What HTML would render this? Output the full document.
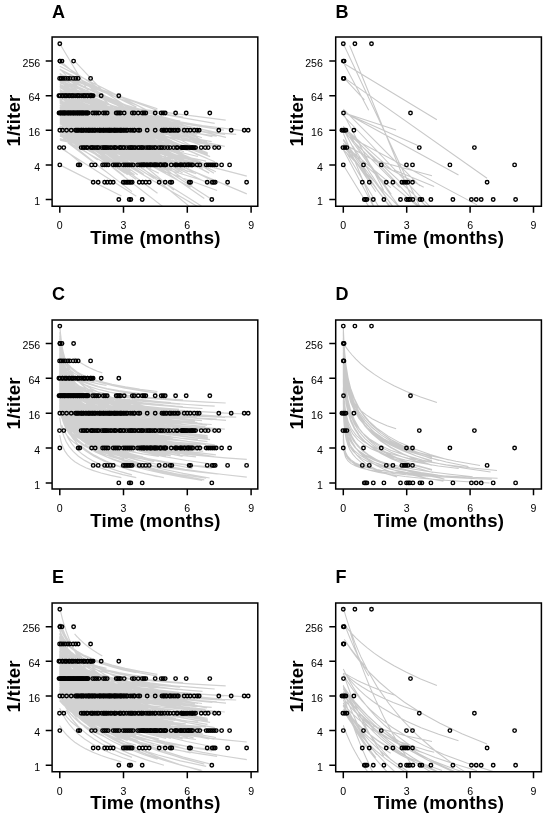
<!DOCTYPE html>
<html lang="en">
<head>
<meta charset="utf-8">
<title>Antibody titer decay: 1/titer versus time (months), panels A-F</title>
<style>
html,body{margin:0;padding:0;background:#fff;}
body{width:550px;height:825px;overflow:hidden;}
svg{display:block;}
text{font-family:"Liberation Sans",Arial,Helvetica,sans-serif;fill:#000;}
.t{font-size:10.6px;}
.b{font-size:18.6px;font-weight:bold;letter-spacing:0.2px;}
.l{font-size:18px;font-weight:bold;}
</style>
</head>
<body>
<svg width="550" height="825" viewBox="0 0 550 825">
<rect width="550" height="825" fill="#fff"/>
<g>
<clipPath id="cA"><rect x="52.1" y="36.9" width="205.7" height="169.4"/></clipPath>
<path clip-path="url(#cA)" fill="none" stroke="#d1d1d1" stroke-width="1.2" d="M59.8 94.6L172.1 135.2M59.8 89.7L172.3 141.1M59.8 123L142.7 154.8M71.5 115.4L169.4 156.6M59.8 90.6L164.4 163.4M59.8 90.8L207.9 154.1M76.7 112.4L147.5 154.9M59.8 80.3L129.7 110.6M59.8 79.9L214 173.3M59.8 90L192.3 185.3M59.8 85.7L176.4 138.4M59.8 111.4L168.7 144.1M59.8 132.5L140.2 151.4M59.8 124L211.9 165.8M84.9 132.6L201.4 205.9M66.9 128.5L158.8 173.2M64.8 99.9L170.8 172.8M59.8 134.1L187.8 161.9M59.8 101.3L153.1 165.4M87.4 132.9L162.4 161.5M85.3 115.4L139 141.3M59.8 112.1L143.9 150.8M59.8 135L178.4 168.5M83.7 104.1L128.5 126.2M59.8 99.5L101.9 127.5M59.8 74.1L157.3 110.4M72.5 120.4L128.1 140.4M78.3 129.9L162.6 145.3M59.8 118.8L183 169M59.8 121.6L139.3 144.4M59.8 140.2L183.5 167.2M59.8 130.9L118.5 143M60.8 103.9L173.3 155.9M59.8 134.2L172.1 160.7M59.8 131.6L135.6 140.7M59.8 128.2L187.9 168.5M59.8 113.1L168.8 163.1M59.8 119.6L166.4 170M59.8 98L146.5 133.8M59.8 133.9L142.9 154.7M59.8 78.8L194.9 138.2M59.8 105.3L131.2 121.1M62.3 97.9L120.8 126.1M59.8 114.5L166.2 172.7M59.8 76.4L126 159.2M84.1 144.1L128.2 163.5M59.8 123.4L173.9 171.6M59.8 90.1L147.4 166.6M59.8 120.5L114.5 140.7M59.8 96.1L199.7 144.8M63.1 83.4L137.1 155.6M77.4 120.4L146 164.3M59.8 102.5L169.4 134.5M59.8 119.4L138.1 160.2M59.8 138.7L127.2 156.1M63.8 100.4L186.1 150.2M59.8 130.9L159.5 159.2M59.8 101.8L98 118.3M59.8 118.1L174.3 156.5M59.8 113.7L99.8 124.9M59.8 69.5L207.8 155.4M59.8 95.2L133.4 132.8M59.8 81.6L180 171.3M68.4 88.6L198.4 155.3M59.8 69.4L136.5 107.1M59.8 95.7L175.5 123.4M60.8 113.6L153.8 157.6M71.7 112.5L172 155.8M59.8 113.7L147.3 156.3M59.8 82.6L106.5 102.8M59.8 135.7L106.5 152.8M59.8 87.3L204.7 147M59.8 89.5L172.5 159.1M59.8 121.7L131.6 160.7M59.8 105.9L205.4 153.1M59.8 109.6L169.3 144.6M59.8 135.4L134.5 147.4M59.8 108.9L168.8 149.4M78 96.2L177.9 123.9M59.8 113.4L122.2 151.5M59.8 121.4L115.4 140.3M73 97.1L159.2 169.4M59.8 131.8L171.1 153.4M59.8 109.3L203.2 168.3M59.8 90.2L202 137.8M59.8 101.7L109.1 149.2M59.8 110.3L92.8 127.8M76.2 119.7L143.6 147.6M85.4 120.5L176 147.9M59.8 86.4L143.1 155.4M59.8 127.2L170.7 155.7M59.8 105.7L175.9 152.7M59.8 98L215.9 171.8M59.8 127.8L186 170.5M59.8 126.3L206.2 211.6M59.8 118.7L144.1 137.3M59.8 110.9L132.9 142.6M59.8 90.1L104.1 110.5M59.8 93L184.3 163.6M59.8 119.7L157.1 155.2M59.8 131.4L141.7 149M64.7 101.5L146.7 147.1M59.8 84.4L165.5 132.2M59.8 112.1L175.2 154.6M68.3 113.6L153 163.3M59.8 101.5L209.6 198M59.8 135.7L184.9 166.9M72.6 88.3L171.3 169M59.8 108.1L107.4 129.4M59.8 115.6L171 160M59.8 96.4L210.1 156.6M59.8 94.5L102.8 124.5M59.8 116.6L179.4 159.8M59.8 113.1L167.3 170.8M59.8 108.4L157.2 156.5M84.3 97L164.8 145.3M63.7 133.5L185.8 158.2M85.3 117.3L173.9 190M71.6 124.2L131.1 157.6M59.8 114.6L151.5 155.2M59.8 105.1L187.9 171.6M59.8 126L131.4 164.1M80.2 112.6L204.3 198.4M77.1 121.8L125.8 140.8M59.8 114.5L187.2 150.3M59.8 130.8L206 161.2M59.8 113.9L155.4 163.3M59.8 122.2L140.1 173.1M59.8 99.7L109.2 131.4M63.2 138.8L162 169.8M79.6 132.3L152 152M59.8 115L141.1 156.8M59.8 110L167.8 161.2M59.8 96.5L140 129.6M59.8 106.4L213.9 181.2M59.8 108.6L179.2 172.4M59.8 95.4L176.3 150.9M59.8 81L130.8 110.7M73 104.3L158.3 151.4M63.2 89.5L150.6 163.1M59.8 112.2L184 151.6M59.8 113L182.2 145.1M59.8 99L129 159.3M59.8 136.3L134.3 161.3M68.9 105.1L165.7 148.6M59.8 126L155.9 153.8M72.3 114.9L180.2 149.7M65.9 101.4L106.1 127.7M59.8 135.6L184.9 169.3M59.8 112.2L131.5 149.4M59.8 100.6L149.3 162.7M59.8 121.6L161.2 160.4M59.8 131.9L140.7 158.3M59.8 85.6L147.9 111.7M59.8 76.2L157.4 108.8M59.8 91.2L127 159.2M59.8 119L149.9 158.9M87 122.5L138.7 151.4M59.8 100.4L146.9 140.3M77.8 139.2L144 160M59.8 106.5L133.4 154.6M68 101.8L146.3 144.2M59.8 127.2L128.7 155.7M59.8 103.1L98.7 124.4M73.2 111.4L202.2 216.9M59.8 76.4L94.3 99M66.1 87.7L197.4 139.8M59.8 76.6L207 142.2M59.8 100L143.2 155.6M64.9 111.5L145 139.9M59.8 122.5L102.8 134.3M59.8 131.6L173.2 159.1M59.8 109.3L201 162.4M87.6 142.1L150 161.9M59.8 119.6L136 169.2M73.9 126.6L144.8 157M59.8 101.3L118.8 124.8M59.8 93.5L180.1 151.6M59.8 113.9L121 151.8M59.8 106L202.4 140.6M61 93.9L162.3 129.2M59.8 132L160 167.9M59.8 76.3L130.3 164.3M59.8 92.7L163.5 122M70.4 137L197 166.2M59.8 98.5L202.4 153.8M59.8 93.9L209.2 173.1M79.3 129.9L141.4 158.8M59.8 106.6L140.1 150.3M59.8 100.6L199.3 162.9M76.4 132.2L138.6 147.3M59.8 107.3L160.9 164M59.8 115.7L143 173.7M65.7 134.8L167.8 155M72.1 116L132.1 138.6M59.8 76.1L189.5 133M78.3 146L160.9 169M76.3 92.3L185.1 166.4M59.8 95.7L207.6 152.7M86.2 100.8L166 133.6M60.6 101.2L149.9 158.5M83.6 115.5L181.3 140.1M59.8 91L220.3 148.9M59.8 86.3L134.1 113.6M59.8 116L190.6 187.2M59.8 121.1L148.5 151M64 102.9L166.9 155M75 131.5L148.9 155.4M62.1 128.1L184.9 166.6M59.8 122.3L151.3 169.1M59.8 102.2L195.7 167.2M59.8 109.6L122.3 134.4M59.8 94L133.2 168.1M59.8 76.6L198.1 137.6M59.8 95.5L157.9 131.4M59.8 129.5L196 173.7M59.8 93.4L132.1 133.5M70.4 116.9L211.9 185M59.8 97.5L171.7 148.7M59.8 73.6L162.6 171.7M59.8 130L146.2 151.6M59.8 96.9L214.8 161.8M59.8 106.3L152.8 160.8M59.8 94.9L182.6 173.1M59.8 139.3L93.6 147.4M59.8 140L161.9 163.8M59.8 74.9L139.4 106.3M59.8 110.4L135 136M59.8 87.8L150.3 132.4M59.8 121L142.5 161.7M59.8 94.4L104.7 115.2M59.8 123.5L197.9 156.5M74.6 136.3L143.4 154.7M59.8 135.2L171.9 169.2M59.8 78.2L153.7 149.4M59.8 76.7L105.8 158.1M59.8 102.5L206 164.4M67.4 108.2L193.6 172.1M87.7 139.9L192.9 167.4M59.8 129.3L133.9 155.4M59.8 134.9L131.2 160.8M87 103L167 132M59.8 74.1L184.5 138.8M59.8 90.8L166 156.2M59.8 68.9L147.7 158.6M59.8 94L207.5 158.6M59.8 73.2L155.6 144.3M59.8 107.5L134.8 130.6M59.8 107.6L132.5 151.7M59.8 91.2L153.5 158.5M72.6 126.4L130.7 156.1M69.4 118.5L162.6 169M67.5 133.6L130.5 171M90.8 142.5L117.9 162.4M67.8 142.7L103.7 169.9M76.9 130.9L132 167M98.4 137.7L143.9 163.6M59.8 125.9L136.3 179.6M76.4 141.9L125.1 173.2M64 124.2L148.2 164.9M60.5 119.6L154.2 178.4M79.1 117.4L165.7 160.1M96.6 148.8L116.1 163.3M66.7 141L111.8 167.1M99.6 152.6L122.1 170.1M67.5 139.3L112 163.3M92.8 142L126.7 167.7M69.7 139.4L111.8 162.3M60.6 123.8L123.8 154.7M63.9 120.3L147.3 155.1M63.2 115.4L133.9 168.3M64.6 120.4L130.6 172.8M69.2 119.8L159 166.1M65.4 122.5L144.1 174.6M69.5 124.4L155 166.3M68 130.6L124.1 175.9M60.4 135.3L105.8 171.5M69.4 114.2L142.4 160.8M60.2 126.7L107.9 163.6M80.1 133.7L127.6 163M76 136.1L134.6 174.8M63.9 126.8L130.9 174.7M65.8 124L137.7 174.8M80.4 136.7L130 167.9M64.5 137.1L97.8 160M60.2 123.7L127.7 174.7M85.8 116L191 137M129.5 118.3L212.4 136.7M79.2 104.8L190.5 129M119.4 105.5L176.9 120.7M75.7 107.8L182.8 123.8M123.9 113L226 137.4M127.1 111.9L180.4 121M83.9 107.1L185.1 128.9M114.5 110.3L221.8 133.5M116.9 110.5L179.9 121.4M117.2 118.7L174.6 130.3M118.4 106.3L225.7 120.2M133.2 122.1L178.6 129.6M131.9 108.8L214.7 123.3M95.1 107.6L202.5 125.7M98.1 114.2L196.8 134.3M78.2 120.9L219 146.6M129.8 108.3L183.1 117.1M106.7 122.7L211.7 141.6M117.1 121.2L205.5 143.6M99.4 118L225 134.4M129.6 114.7L223.1 134M85.4 107.7L183.2 129.4M70.2 102.8L179 126.6M72.2 111.5L196.4 141M134 112.1L170.9 119.7M96 119.5L187.9 134M100.4 120.9L224.8 146.3M73.5 106.4L224 130.1M118.9 122.7L216.8 136.1M59.8 43.8L110.8 128.9M59.8 62.8L166.1 132M60.8 61.1L134.2 126.8M59.8 66.3L187.3 130.6M74.6 61.1L102.3 90.3M59.8 164.9L121.4 196M61.9 147.6L83.1 164.9M59.8 126.8L163.9 207.4M66.1 140.7L132 191.6M81 137.2L157.5 193.3M112.9 137.2L246.8 193.9M123.5 144.1L246.8 176.2M102.3 149.3L214.9 184.2M123.5 156.2L217.1 190.5M59.8 147.6L136.3 196.2M187.3 130.3L236.2 134.3M155.4 119.9L246.8 131.1"/>
<g fill="none" stroke="#000" stroke-width="1.4"><circle cx="59.8" cy="43.8" r="1.75"/><circle cx="59.9" cy="61.1" r="1.75"/><circle cx="60" cy="61.1" r="1.75"/><circle cx="62" cy="61.1" r="1.75"/><circle cx="73.6" cy="61.1" r="1.75"/><circle cx="59.6" cy="78.4" r="1.75"/><circle cx="61.1" cy="78.4" r="1.75"/><circle cx="63.1" cy="78.4" r="1.75"/><circle cx="65.2" cy="78.4" r="1.75"/><circle cx="67.8" cy="78.4" r="1.75"/><circle cx="69.8" cy="78.4" r="1.75"/><circle cx="73.2" cy="78.4" r="1.75"/><circle cx="75.8" cy="78.4" r="1.75"/><circle cx="78.2" cy="78.4" r="1.75"/><circle cx="90.6" cy="78.4" r="1.75"/><circle cx="58.9" cy="95.7" r="1.75"/><circle cx="60" cy="95.7" r="1.75"/><circle cx="62.2" cy="95.7" r="1.75"/><circle cx="62.6" cy="95.7" r="1.75"/><circle cx="64.7" cy="95.7" r="1.75"/><circle cx="65.8" cy="95.7" r="1.75"/><circle cx="66.7" cy="95.7" r="1.75"/><circle cx="68.9" cy="95.7" r="1.75"/><circle cx="69.5" cy="95.7" r="1.75"/><circle cx="71.5" cy="95.7" r="1.75"/><circle cx="72.3" cy="95.7" r="1.75"/><circle cx="73.7" cy="95.7" r="1.75"/><circle cx="75.6" cy="95.7" r="1.75"/><circle cx="77.7" cy="95.7" r="1.75"/><circle cx="77.9" cy="95.7" r="1.75"/><circle cx="79.5" cy="95.7" r="1.75"/><circle cx="81.5" cy="95.7" r="1.75"/><circle cx="83.4" cy="95.7" r="1.75"/><circle cx="84.2" cy="95.7" r="1.75"/><circle cx="85.3" cy="95.7" r="1.75"/><circle cx="87.6" cy="95.7" r="1.75"/><circle cx="87.5" cy="95.7" r="1.75"/><circle cx="90.2" cy="95.7" r="1.75"/><circle cx="90.6" cy="95.7" r="1.75"/><circle cx="91.8" cy="95.7" r="1.75"/><circle cx="93.1" cy="95.7" r="1.75"/><circle cx="101.2" cy="95.7" r="1.75"/><circle cx="118.8" cy="95.7" r="1.75"/><circle cx="59" cy="113" r="1.75"/><circle cx="60.3" cy="113" r="1.75"/><circle cx="60.5" cy="113" r="1.75"/><circle cx="61.7" cy="113" r="1.75"/><circle cx="62.6" cy="113" r="1.75"/><circle cx="63.2" cy="113" r="1.75"/><circle cx="64.2" cy="113" r="1.75"/><circle cx="64.5" cy="113" r="1.75"/><circle cx="65.3" cy="113" r="1.75"/><circle cx="66.3" cy="113" r="1.75"/><circle cx="67.6" cy="113" r="1.75"/><circle cx="68.2" cy="113" r="1.75"/><circle cx="68.9" cy="113" r="1.75"/><circle cx="70" cy="113" r="1.75"/><circle cx="70.7" cy="113" r="1.75"/><circle cx="71.4" cy="113" r="1.75"/><circle cx="72.7" cy="113" r="1.75"/><circle cx="73.4" cy="113" r="1.75"/><circle cx="73.8" cy="113" r="1.75"/><circle cx="75" cy="113" r="1.75"/><circle cx="75.7" cy="113" r="1.75"/><circle cx="76.9" cy="113" r="1.75"/><circle cx="77.6" cy="113" r="1.75"/><circle cx="78" cy="113" r="1.75"/><circle cx="79.5" cy="113" r="1.75"/><circle cx="79.5" cy="113" r="1.75"/><circle cx="80.6" cy="113" r="1.75"/><circle cx="81.8" cy="113" r="1.75"/><circle cx="82" cy="113" r="1.75"/><circle cx="83.2" cy="113" r="1.75"/><circle cx="83.5" cy="113" r="1.75"/><circle cx="85" cy="113" r="1.75"/><circle cx="85.9" cy="113" r="1.75"/><circle cx="86.6" cy="113" r="1.75"/><circle cx="87.7" cy="113" r="1.75"/><circle cx="88" cy="113" r="1.75"/><circle cx="92.7" cy="113" r="1.75"/><circle cx="94.7" cy="113" r="1.75"/><circle cx="96.7" cy="113" r="1.75"/><circle cx="98.9" cy="113" r="1.75"/><circle cx="103.3" cy="113" r="1.75"/><circle cx="105.2" cy="113" r="1.75"/><circle cx="107.2" cy="113" r="1.75"/><circle cx="116.2" cy="113" r="1.75"/><circle cx="117.7" cy="113" r="1.75"/><circle cx="119.2" cy="113" r="1.75"/><circle cx="120.7" cy="113" r="1.75"/><circle cx="124.2" cy="113" r="1.75"/><circle cx="132.3" cy="113" r="1.75"/><circle cx="134.2" cy="113" r="1.75"/><circle cx="138.2" cy="113" r="1.75"/><circle cx="142.2" cy="113" r="1.75"/><circle cx="144" cy="113" r="1.75"/><circle cx="145.8" cy="113" r="1.75"/><circle cx="155.2" cy="113" r="1.75"/><circle cx="161.2" cy="113" r="1.75"/><circle cx="163.2" cy="113" r="1.75"/><circle cx="165.2" cy="113" r="1.75"/><circle cx="175.6" cy="113" r="1.75"/><circle cx="186.2" cy="113" r="1.75"/><circle cx="209.8" cy="113" r="1.75"/><circle cx="59.8" cy="130.3" r="1.75"/><circle cx="62.5" cy="130.3" r="1.75"/><circle cx="66.6" cy="130.3" r="1.75"/><circle cx="71.2" cy="130.3" r="1.75"/><circle cx="75.4" cy="130.3" r="1.75"/><circle cx="76.4" cy="130.3" r="1.75"/><circle cx="77.5" cy="130.3" r="1.75"/><circle cx="78.4" cy="130.3" r="1.75"/><circle cx="80" cy="130.3" r="1.75"/><circle cx="81.3" cy="130.3" r="1.75"/><circle cx="81.7" cy="130.3" r="1.75"/><circle cx="83.1" cy="130.3" r="1.75"/><circle cx="83.4" cy="130.3" r="1.75"/><circle cx="85.4" cy="130.3" r="1.75"/><circle cx="86.4" cy="130.3" r="1.75"/><circle cx="88" cy="130.3" r="1.75"/><circle cx="88.8" cy="130.3" r="1.75"/><circle cx="89.2" cy="130.3" r="1.75"/><circle cx="90.5" cy="130.3" r="1.75"/><circle cx="92" cy="130.3" r="1.75"/><circle cx="92.2" cy="130.3" r="1.75"/><circle cx="93.9" cy="130.3" r="1.75"/><circle cx="94.6" cy="130.3" r="1.75"/><circle cx="95.6" cy="130.3" r="1.75"/><circle cx="97.6" cy="130.3" r="1.75"/><circle cx="99.5" cy="130.3" r="1.75"/><circle cx="99.7" cy="130.3" r="1.75"/><circle cx="100.8" cy="130.3" r="1.75"/><circle cx="102" cy="130.3" r="1.75"/><circle cx="103.6" cy="130.3" r="1.75"/><circle cx="103.6" cy="130.3" r="1.75"/><circle cx="105.1" cy="130.3" r="1.75"/><circle cx="106.2" cy="130.3" r="1.75"/><circle cx="107.6" cy="130.3" r="1.75"/><circle cx="108.5" cy="130.3" r="1.75"/><circle cx="109.6" cy="130.3" r="1.75"/><circle cx="109.9" cy="130.3" r="1.75"/><circle cx="111" cy="130.3" r="1.75"/><circle cx="112" cy="130.3" r="1.75"/><circle cx="113.6" cy="130.3" r="1.75"/><circle cx="114.7" cy="130.3" r="1.75"/><circle cx="114.7" cy="130.3" r="1.75"/><circle cx="115.8" cy="130.3" r="1.75"/><circle cx="116.8" cy="130.3" r="1.75"/><circle cx="117.8" cy="130.3" r="1.75"/><circle cx="119.1" cy="130.3" r="1.75"/><circle cx="120.3" cy="130.3" r="1.75"/><circle cx="120.9" cy="130.3" r="1.75"/><circle cx="121.6" cy="130.3" r="1.75"/><circle cx="123.1" cy="130.3" r="1.75"/><circle cx="124" cy="130.3" r="1.75"/><circle cx="125.2" cy="130.3" r="1.75"/><circle cx="126.7" cy="130.3" r="1.75"/><circle cx="127.4" cy="130.3" r="1.75"/><circle cx="130.2" cy="130.3" r="1.75"/><circle cx="132.2" cy="130.3" r="1.75"/><circle cx="134.1" cy="130.3" r="1.75"/><circle cx="134.6" cy="130.3" r="1.75"/><circle cx="138.2" cy="130.3" r="1.75"/><circle cx="139.8" cy="130.3" r="1.75"/><circle cx="147.2" cy="130.3" r="1.75"/><circle cx="155.2" cy="130.3" r="1.75"/><circle cx="161.9" cy="130.3" r="1.75"/><circle cx="163.4" cy="130.3" r="1.75"/><circle cx="164.2" cy="130.3" r="1.75"/><circle cx="165.9" cy="130.3" r="1.75"/><circle cx="166.9" cy="130.3" r="1.75"/><circle cx="169.6" cy="130.3" r="1.75"/><circle cx="170.1" cy="130.3" r="1.75"/><circle cx="171.8" cy="130.3" r="1.75"/><circle cx="173.7" cy="130.3" r="1.75"/><circle cx="175.2" cy="130.3" r="1.75"/><circle cx="177.2" cy="130.3" r="1.75"/><circle cx="178.3" cy="130.3" r="1.75"/><circle cx="184.2" cy="130.3" r="1.75"/><circle cx="187.2" cy="130.3" r="1.75"/><circle cx="190.2" cy="130.3" r="1.75"/><circle cx="194.2" cy="130.3" r="1.75"/><circle cx="197.2" cy="130.3" r="1.75"/><circle cx="199.2" cy="130.3" r="1.75"/><circle cx="218.8" cy="130.3" r="1.75"/><circle cx="231.2" cy="130.3" r="1.75"/><circle cx="244.2" cy="130.3" r="1.75"/><circle cx="248.2" cy="130.3" r="1.75"/><circle cx="59.5" cy="147.6" r="1.75"/><circle cx="63.8" cy="147.6" r="1.75"/><circle cx="81.2" cy="147.6" r="1.75"/><circle cx="83.1" cy="147.6" r="1.75"/><circle cx="84.6" cy="147.6" r="1.75"/><circle cx="86.6" cy="147.6" r="1.75"/><circle cx="87.6" cy="147.6" r="1.75"/><circle cx="90.8" cy="147.6" r="1.75"/><circle cx="91.9" cy="147.6" r="1.75"/><circle cx="92.6" cy="147.6" r="1.75"/><circle cx="94.3" cy="147.6" r="1.75"/><circle cx="96.1" cy="147.6" r="1.75"/><circle cx="97.7" cy="147.6" r="1.75"/><circle cx="98.8" cy="147.6" r="1.75"/><circle cx="101.8" cy="147.6" r="1.75"/><circle cx="103.6" cy="147.6" r="1.75"/><circle cx="104.2" cy="147.6" r="1.75"/><circle cx="105.8" cy="147.6" r="1.75"/><circle cx="106.7" cy="147.6" r="1.75"/><circle cx="108.3" cy="147.6" r="1.75"/><circle cx="110.3" cy="147.6" r="1.75"/><circle cx="111.8" cy="147.6" r="1.75"/><circle cx="114.4" cy="147.6" r="1.75"/><circle cx="114.7" cy="147.6" r="1.75"/><circle cx="116" cy="147.6" r="1.75"/><circle cx="119.4" cy="147.6" r="1.75"/><circle cx="120.2" cy="147.6" r="1.75"/><circle cx="121" cy="147.6" r="1.75"/><circle cx="123.3" cy="147.6" r="1.75"/><circle cx="124" cy="147.6" r="1.75"/><circle cx="126.5" cy="147.6" r="1.75"/><circle cx="128.9" cy="147.6" r="1.75"/><circle cx="130.3" cy="147.6" r="1.75"/><circle cx="131.5" cy="147.6" r="1.75"/><circle cx="132.3" cy="147.6" r="1.75"/><circle cx="134.1" cy="147.6" r="1.75"/><circle cx="135.3" cy="147.6" r="1.75"/><circle cx="138" cy="147.6" r="1.75"/><circle cx="139.1" cy="147.6" r="1.75"/><circle cx="141.2" cy="147.6" r="1.75"/><circle cx="141.9" cy="147.6" r="1.75"/><circle cx="143.3" cy="147.6" r="1.75"/><circle cx="146" cy="147.6" r="1.75"/><circle cx="147.9" cy="147.6" r="1.75"/><circle cx="149.2" cy="147.6" r="1.75"/><circle cx="150.7" cy="147.6" r="1.75"/><circle cx="152.6" cy="147.6" r="1.75"/><circle cx="154.7" cy="147.6" r="1.75"/><circle cx="155.6" cy="147.6" r="1.75"/><circle cx="158.8" cy="147.6" r="1.75"/><circle cx="160.7" cy="147.6" r="1.75"/><circle cx="162.2" cy="147.6" r="1.75"/><circle cx="164.6" cy="147.6" r="1.75"/><circle cx="167.6" cy="147.6" r="1.75"/><circle cx="170" cy="147.6" r="1.75"/><circle cx="173.6" cy="147.6" r="1.75"/><circle cx="176.7" cy="147.6" r="1.75"/><circle cx="177.6" cy="147.6" r="1.75"/><circle cx="181.4" cy="147.6" r="1.75"/><circle cx="181.8" cy="147.6" r="1.75"/><circle cx="183" cy="147.6" r="1.75"/><circle cx="183.3" cy="147.6" r="1.75"/><circle cx="184.3" cy="147.6" r="1.75"/><circle cx="185.4" cy="147.6" r="1.75"/><circle cx="186.6" cy="147.6" r="1.75"/><circle cx="187.7" cy="147.6" r="1.75"/><circle cx="189.5" cy="147.6" r="1.75"/><circle cx="191" cy="147.6" r="1.75"/><circle cx="192.1" cy="147.6" r="1.75"/><circle cx="192.8" cy="147.6" r="1.75"/><circle cx="194.2" cy="147.6" r="1.75"/><circle cx="195.6" cy="147.6" r="1.75"/><circle cx="201.2" cy="147.6" r="1.75"/><circle cx="205.2" cy="147.6" r="1.75"/><circle cx="208.2" cy="147.6" r="1.75"/><circle cx="214.6" cy="147.6" r="1.75"/><circle cx="218.8" cy="147.6" r="1.75"/><circle cx="59.8" cy="164.9" r="1.75"/><circle cx="78.2" cy="164.9" r="1.75"/><circle cx="79.8" cy="164.9" r="1.75"/><circle cx="91.6" cy="164.9" r="1.75"/><circle cx="95.2" cy="164.9" r="1.75"/><circle cx="102.6" cy="164.9" r="1.75"/><circle cx="104.4" cy="164.9" r="1.75"/><circle cx="106.3" cy="164.9" r="1.75"/><circle cx="108.2" cy="164.9" r="1.75"/><circle cx="113.2" cy="164.9" r="1.75"/><circle cx="115.2" cy="164.9" r="1.75"/><circle cx="117.2" cy="164.9" r="1.75"/><circle cx="119.2" cy="164.9" r="1.75"/><circle cx="123.2" cy="164.9" r="1.75"/><circle cx="125.2" cy="164.9" r="1.75"/><circle cx="127.2" cy="164.9" r="1.75"/><circle cx="129.2" cy="164.9" r="1.75"/><circle cx="131.2" cy="164.9" r="1.75"/><circle cx="133.2" cy="164.9" r="1.75"/><circle cx="137.6" cy="164.9" r="1.75"/><circle cx="139.5" cy="164.9" r="1.75"/><circle cx="141.1" cy="164.9" r="1.75"/><circle cx="142" cy="164.9" r="1.75"/><circle cx="143.2" cy="164.9" r="1.75"/><circle cx="144" cy="164.9" r="1.75"/><circle cx="144.7" cy="164.9" r="1.75"/><circle cx="146.7" cy="164.9" r="1.75"/><circle cx="147.2" cy="164.9" r="1.75"/><circle cx="149.1" cy="164.9" r="1.75"/><circle cx="150.5" cy="164.9" r="1.75"/><circle cx="150.8" cy="164.9" r="1.75"/><circle cx="152" cy="164.9" r="1.75"/><circle cx="153.9" cy="164.9" r="1.75"/><circle cx="154.8" cy="164.9" r="1.75"/><circle cx="155.2" cy="164.9" r="1.75"/><circle cx="156.3" cy="164.9" r="1.75"/><circle cx="157.5" cy="164.9" r="1.75"/><circle cx="159.7" cy="164.9" r="1.75"/><circle cx="160.7" cy="164.9" r="1.75"/><circle cx="161" cy="164.9" r="1.75"/><circle cx="163.1" cy="164.9" r="1.75"/><circle cx="164.5" cy="164.9" r="1.75"/><circle cx="165.2" cy="164.9" r="1.75"/><circle cx="165.9" cy="164.9" r="1.75"/><circle cx="171.2" cy="164.9" r="1.75"/><circle cx="175.2" cy="164.9" r="1.75"/><circle cx="175.9" cy="164.9" r="1.75"/><circle cx="177.1" cy="164.9" r="1.75"/><circle cx="180.1" cy="164.9" r="1.75"/><circle cx="180.9" cy="164.9" r="1.75"/><circle cx="182.1" cy="164.9" r="1.75"/><circle cx="184.2" cy="164.9" r="1.75"/><circle cx="184.7" cy="164.9" r="1.75"/><circle cx="186.8" cy="164.9" r="1.75"/><circle cx="188.2" cy="164.9" r="1.75"/><circle cx="188.5" cy="164.9" r="1.75"/><circle cx="190" cy="164.9" r="1.75"/><circle cx="191.4" cy="164.9" r="1.75"/><circle cx="192.7" cy="164.9" r="1.75"/><circle cx="197.2" cy="164.9" r="1.75"/><circle cx="199.8" cy="164.9" r="1.75"/><circle cx="206.2" cy="164.9" r="1.75"/><circle cx="208.2" cy="164.9" r="1.75"/><circle cx="210.2" cy="164.9" r="1.75"/><circle cx="212.2" cy="164.9" r="1.75"/><circle cx="214.2" cy="164.9" r="1.75"/><circle cx="216.2" cy="164.9" r="1.75"/><circle cx="221.6" cy="164.9" r="1.75"/><circle cx="229.6" cy="164.9" r="1.75"/><circle cx="93.2" cy="182.2" r="1.75"/><circle cx="98.2" cy="182.2" r="1.75"/><circle cx="104.6" cy="182.2" r="1.75"/><circle cx="107.2" cy="182.2" r="1.75"/><circle cx="110.2" cy="182.2" r="1.75"/><circle cx="113.2" cy="182.2" r="1.75"/><circle cx="123.2" cy="182.2" r="1.75"/><circle cx="124.7" cy="182.2" r="1.75"/><circle cx="126.2" cy="182.2" r="1.75"/><circle cx="127.7" cy="182.2" r="1.75"/><circle cx="129.2" cy="182.2" r="1.75"/><circle cx="130.7" cy="182.2" r="1.75"/><circle cx="132.2" cy="182.2" r="1.75"/><circle cx="139.2" cy="182.2" r="1.75"/><circle cx="142.6" cy="182.2" r="1.75"/><circle cx="145.8" cy="182.2" r="1.75"/><circle cx="149.2" cy="182.2" r="1.75"/><circle cx="159.2" cy="182.2" r="1.75"/><circle cx="165.2" cy="182.2" r="1.75"/><circle cx="170.2" cy="182.2" r="1.75"/><circle cx="171.8" cy="182.2" r="1.75"/><circle cx="189.2" cy="182.2" r="1.75"/><circle cx="190.6" cy="182.2" r="1.75"/><circle cx="207.2" cy="182.2" r="1.75"/><circle cx="212.2" cy="182.2" r="1.75"/><circle cx="213.7" cy="182.2" r="1.75"/><circle cx="215.2" cy="182.2" r="1.75"/><circle cx="227.6" cy="182.2" r="1.75"/><circle cx="246.6" cy="182.2" r="1.75"/><circle cx="118.8" cy="199.5" r="1.75"/><circle cx="129.2" cy="199.5" r="1.75"/><circle cx="130.8" cy="199.5" r="1.75"/><circle cx="142.2" cy="199.5" r="1.75"/><circle cx="211.8" cy="199.5" r="1.75"/></g>
<path fill="none" stroke="#000" stroke-width="1.5" d="M52.1 36.9H257.8V206.3H52.1ZM59.8 206.3v6.4M123.5 206.3v6.4M187.3 206.3v6.4M251.1 206.3v6.4M52.1 199.5h-6.4M52.1 164.9h-6.4M52.1 130.3h-6.4M52.1 95.7h-6.4M52.1 61.1h-6.4"/>
<text class="t" x="59.8" y="228.9" text-anchor="middle">0</text>
<text class="t" x="123.5" y="228.9" text-anchor="middle">3</text>
<text class="t" x="187.3" y="228.9" text-anchor="middle">6</text>
<text class="t" x="251.1" y="228.9" text-anchor="middle">9</text>
<text class="t" x="40.2" y="205.1" text-anchor="end">1</text>
<text class="t" x="40.2" y="170.5" text-anchor="end">4</text>
<text class="t" x="40.2" y="135.9" text-anchor="end">16</text>
<text class="t" x="40.2" y="101.3" text-anchor="end">64</text>
<text class="t" x="40.2" y="66.7" text-anchor="end">256</text>
<text class="b" x="155.4" y="243.6" text-anchor="middle">Time (months)</text>
<text class="b" transform="translate(20.4 120.6) rotate(-90)" text-anchor="middle">1/titer</text>
<text class="l" x="51.9" y="17.5">A</text>
</g>
<g>
<clipPath id="cB"><rect x="335.7" y="36.9" width="205.7" height="169.4"/></clipPath>
<path clip-path="url(#cB)" fill="none" stroke="#c8c8c8" stroke-width="1.05" d="M343.3 149.7L451.3 260.4M344.5 131.3L372.3 184.6M343.3 131.1L399.7 187.4M343.3 115.5L493.2 273.2M343.3 144.3L393.6 212.1M343.3 133.2L376.9 214.1M343.3 145.8L390.7 187.6M343.3 109.1L419.9 185.9M343.3 113.4L383.7 190.3M343.3 149.8L443.4 337.7M343.3 126.4L485.1 276.3M343.3 128.7L469.9 305.6M343.3 140.1L376.8 189M350 137L477 204.9M343.3 143.7L423.7 187.3M348.1 148.5L435.3 220.8M343.3 126.8L391.4 169.7M343.3 139.2L478.6 322.9M343.3 146.2L404.3 224.6M343.3 126.3L391.3 194.4M343.3 128.8L469.8 246.6M352.5 145.7L465.1 318M343.3 143.4L375.8 191.8M346.5 152.8L442 312.7M343.3 43.8L482.8 340.7M344.4 63.7L436.9 119.8M344.4 77.9L487 178.3M344.4 64.6L368.7 110.3M344.4 78.4L364.4 99.8M349.6 45.5L413 201.2M344.4 113L396.1 130M344.4 113L417.3 145.2M345.4 113L458.5 175M343.3 164.9L370.8 209.9M372.9 159.7L432 175.7M394 170.1L434.2 186.5"/>
<g fill="none" stroke="#000" stroke-width="1.4"><circle cx="343.3" cy="43.8" r="1.75"/><circle cx="354.9" cy="43.8" r="1.75"/><circle cx="371.5" cy="43.8" r="1.75"/><circle cx="343.3" cy="61.1" r="1.75"/><circle cx="344.1" cy="61.1" r="1.75"/><circle cx="343.3" cy="78.4" r="1.75"/><circle cx="343.9" cy="78.4" r="1.75"/><circle cx="343.5" cy="113" r="1.75"/><circle cx="410.5" cy="113" r="1.75"/><circle cx="341.9" cy="130.3" r="1.75"/><circle cx="343.3" cy="130.3" r="1.75"/><circle cx="344.5" cy="130.3" r="1.75"/><circle cx="345.9" cy="130.3" r="1.75"/><circle cx="353.9" cy="130.3" r="1.75"/><circle cx="342.9" cy="147.6" r="1.75"/><circle cx="344.9" cy="147.6" r="1.75"/><circle cx="346.9" cy="147.6" r="1.75"/><circle cx="419.3" cy="147.6" r="1.75"/><circle cx="474.4" cy="147.6" r="1.75"/><circle cx="343.3" cy="164.9" r="1.75"/><circle cx="363.5" cy="164.9" r="1.75"/><circle cx="381.3" cy="164.9" r="1.75"/><circle cx="406.5" cy="164.9" r="1.75"/><circle cx="412.5" cy="164.9" r="1.75"/><circle cx="449.9" cy="164.9" r="1.75"/><circle cx="514.6" cy="164.9" r="1.75"/><circle cx="362.3" cy="182.2" r="1.75"/><circle cx="369.3" cy="182.2" r="1.75"/><circle cx="386.3" cy="182.2" r="1.75"/><circle cx="392.9" cy="182.2" r="1.75"/><circle cx="401.9" cy="182.2" r="1.75"/><circle cx="403.9" cy="182.2" r="1.75"/><circle cx="405.9" cy="182.2" r="1.75"/><circle cx="407.9" cy="182.2" r="1.75"/><circle cx="412.5" cy="182.2" r="1.75"/><circle cx="487.1" cy="182.2" r="1.75"/><circle cx="364.3" cy="199.5" r="1.75"/><circle cx="365.5" cy="199.5" r="1.75"/><circle cx="366.9" cy="199.5" r="1.75"/><circle cx="373.3" cy="199.5" r="1.75"/><circle cx="383.9" cy="199.5" r="1.75"/><circle cx="400.5" cy="199.5" r="1.75"/><circle cx="406.5" cy="199.5" r="1.75"/><circle cx="408.3" cy="199.5" r="1.75"/><circle cx="409.9" cy="199.5" r="1.75"/><circle cx="412.9" cy="199.5" r="1.75"/><circle cx="419.9" cy="199.5" r="1.75"/><circle cx="421.9" cy="199.5" r="1.75"/><circle cx="430.9" cy="199.5" r="1.75"/><circle cx="452.9" cy="199.5" r="1.75"/><circle cx="471.4" cy="199.5" r="1.75"/><circle cx="476.2" cy="199.5" r="1.75"/><circle cx="481.2" cy="199.5" r="1.75"/><circle cx="493.2" cy="199.5" r="1.75"/><circle cx="515.6" cy="199.5" r="1.75"/></g>
<path fill="none" stroke="#000" stroke-width="1.5" d="M335.7 36.9H541.4V206.3H335.7ZM343.3 206.3v6.4M406.7 206.3v6.4M470.1 206.3v6.4M533.5 206.3v6.4M335.7 199.5h-6.4M335.7 164.9h-6.4M335.7 130.3h-6.4M335.7 95.7h-6.4M335.7 61.1h-6.4"/>
<text class="t" x="343.3" y="228.9" text-anchor="middle">0</text>
<text class="t" x="406.7" y="228.9" text-anchor="middle">3</text>
<text class="t" x="470.1" y="228.9" text-anchor="middle">6</text>
<text class="t" x="533.5" y="228.9" text-anchor="middle">9</text>
<text class="t" x="322.9" y="205.1" text-anchor="end">1</text>
<text class="t" x="322.9" y="170.5" text-anchor="end">4</text>
<text class="t" x="322.9" y="135.9" text-anchor="end">16</text>
<text class="t" x="322.9" y="101.3" text-anchor="end">64</text>
<text class="t" x="322.9" y="66.7" text-anchor="end">256</text>
<text class="b" x="438.9" y="243.6" text-anchor="middle">Time (months)</text>
<text class="b" transform="translate(303.4 120.6) rotate(-90)" text-anchor="middle">1/titer</text>
<text class="l" x="335.5" y="17.5">B</text>
</g>
<g>
<clipPath id="cC"><rect x="52.1" y="319.9" width="205.7" height="169"/></clipPath>
<path clip-path="url(#cC)" fill="none" stroke="#d1d1d1" stroke-width="1.2" d="M59.8 363.9L59.8 364.1L60 365.4L60.5 368.4L61.5 372.9L63.2 377.9L65.7 383L69.2 387.9L73.8 392.4L79.8 396.6L87.2 400.4L96.3 403.9L107.2 407.2L120 410.2L135 413L152.3 415.7L172.1 418.2M59.8 357.3L59.8 357.5L60 359L60.5 362.5L61.5 367.7L63.2 373.8L65.7 380L69.2 386L73.8 391.7L79.8 396.9L87.2 401.7L96.3 406.1L107.2 410.2L120.1 414L135.2 417.6L152.5 420.9L172.3 424.1M59.8 392.2L59.8 392.4L59.9 393.4L60.3 395.8L61 399.4L62.3 403.5L64.1 407.8L66.7 411.9L70.1 415.7L74.5 419.3L80 422.6L86.7 425.6L94.7 428.4L104.2 431L115.3 433.4L128.1 435.7L142.7 437.9M71.5 408.8L71.5 408.8L71.7 409L72.2 409.5L73 410.3L74.5 411.7L76.7 413.4L79.7 415.6L83.7 418.1L88.9 420.8L95.4 423.5L103.3 426.4L112.8 429.2L124 431.9L137.1 434.6L152.1 437.1L169.4 439.6M59.8 360.6L59.8 360.9L60 362.8L60.4 367.3L61.4 374L62.9 381.8L65.3 389.8L68.5 397.6L72.8 404.8L78.4 411.5L85.3 417.7L93.8 423.4L103.9 428.7L115.9 433.6L129.9 438.1L146 442.4L164.4 446.5M59.8 362.1L59.8 362.4L60 364.4L60.7 368.9L62.1 375.3L64.3 382.4L67.6 389.5L72.2 396.2L78.3 402.4L86.1 408L95.9 413.2L107.9 418L122.2 422.4L139.2 426.5L159 430.3L181.8 433.8L207.9 437.2M76.7 409L76.7 409L76.8 409.1L77.2 409.4L77.8 410L78.9 411L80.4 412.3L82.6 414L85.5 416.1L89.3 418.4L94 421L99.7 423.7L106.6 426.6L114.7 429.4L124.1 432.3L135.1 435.2L147.5 438M59.8 349.2L59.8 349.3L59.9 350.3L60.2 352.6L60.8 356L61.9 360L63.4 364.2L65.6 368.1L68.5 371.9L72.2 375.3L76.8 378.5L82.5 381.4L89.2 384.1L97.3 386.7L106.6 389L117.4 391.2L129.7 393.3M59.8 349.1L59.8 349.8L60.1 354L60.8 362.5L62.2 373.1L64.5 384L67.9 394.1L72.7 403.3L79 411.5L87.2 419L97.4 425.7L109.9 431.9L124.8 437.6L142.5 442.8L163.1 447.7L186.9 452.2L214 456.5M59.8 360.2L59.8 360.7L60 364L60.6 371L61.8 380.7L63.8 391.2L66.7 401.5L70.8 411L76.3 419.8L83.3 427.8L92.1 435L102.8 441.7L115.7 447.9L130.8 453.6L148.5 458.9L169 463.9L192.3 468.5M59.8 355.2L59.8 355.4L60 356.7L60.5 359.8L61.6 364.7L63.3 370.5L65.9 376.6L69.5 382.6L74.3 388.2L80.5 393.5L88.2 398.4L97.7 402.9L109 407.1L122.3 411.1L137.9 414.7L155.9 418.1L176.4 421.4M59.8 379.5L59.8 379.7L60 381L60.5 383.7L61.5 387.7L63.1 392.2L65.5 396.7L68.9 401L73.4 404.9L79.1 408.5L86.3 411.8L95.2 414.8L105.7 417.6L118.2 420.2L132.7 422.7L149.5 424.9L168.7 427.1M59.8 403.5L59.8 403.6L59.9 404.2L60.3 405.5L61 407.6L62.2 410.2L64 413L66.5 415.8L69.8 418.5L74.1 421L79.4 423.4L85.9 425.6L93.7 427.6L102.9 429.5L113.7 431.2L126.1 432.9L140.2 434.5M59.8 394.7L59.8 394.9L60 396.4L60.8 399.8L62.1 404.6L64.4 409.8L67.8 415L72.5 419.8L78.8 424.2L86.8 428.2L96.9 431.9L109.2 435.3L124 438.4L141.4 441.3L161.7 444L185.2 446.6L211.9 448.9M84.9 444.2L84.9 444.2L85.1 444.3L85.6 444.8L86.7 445.6L88.4 446.8L91 448.6L94.6 450.8L99.4 453.4L105.6 456.4L113.3 459.7L122.7 463L134 466.5L147.4 470L163 473.5L180.9 476.9L201.4 480.2M66.9 420.7L66.9 420.7L67 421L67.5 421.6L68.3 422.9L69.7 424.7L71.7 427.1L74.6 429.9L78.3 432.9L83.2 436.1L89.3 439.3L96.7 442.4L105.6 445.4L116.2 448.3L128.4 451.1L142.6 453.8L158.8 456.3M64.8 395.9L64.8 395.9L65 396.5L65.5 397.9L66.4 400.5L68 404.1L70.4 408.6L73.7 413.7L78 418.9L83.7 424.2L90.7 429.4L99.2 434.4L109.5 439.1L121.7 443.7L135.8 448L152.2 452.1L170.8 455.9M59.8 405.1L59.8 405.3L60 406.6L60.6 409.5L61.8 413.2L63.7 417.2L66.5 421L70.5 424.5L75.8 427.6L82.5 430.5L91 433.1L101.4 435.5L113.8 437.7L128.4 439.7L145.6 441.6L165.3 443.4L187.8 445M59.8 370.3L59.8 370.5L59.9 371.9L60.4 375.3L61.2 380.6L62.6 387.2L64.7 394.3L67.6 401.4L71.4 408.2L76.4 414.5L82.6 420.4L90.1 426L99.1 431.1L109.8 435.9L122.3 440.3L136.7 444.5L153.1 448.5M87.4 428.5L87.4 428.5L87.5 428.6L87.8 428.7L88.5 429L89.6 429.5L91.3 430.1L93.6 431L96.7 432L100.7 433.3L105.7 434.7L111.8 436.2L119 437.8L127.6 439.5L137.7 441.2L149.2 442.9L162.4 444.6M85.3 409.8L85.3 409.8L85.4 409.9L85.6 410L86.1 410.2L86.9 410.6L88.1 411.1L89.8 411.8L92 412.7L94.8 413.8L98.4 415L102.7 416.4L108 417.8L114.1 419.4L121.3 421L129.6 422.6L139 424.2M59.8 382.2L59.8 382.3L59.9 383.3L60.3 385.7L61.1 389.4L62.3 393.9L64.2 398.6L66.8 403.3L70.3 407.7L74.7 411.9L80.3 415.7L87.1 419.3L95.2 422.6L104.9 425.7L116.1 428.5L129.1 431.2L143.9 433.8M59.8 406.8L59.8 406.9L60 407.9L60.5 410.1L61.6 413.4L63.4 417.4L66 421.5L69.7 425.6L74.6 429.4L80.9 432.9L88.7 436.2L98.3 439.3L109.8 442.1L123.4 444.7L139.2 447.2L157.5 449.5L178.4 451.6M83.7 397.6L83.8 397.6L83.8 397.6L84 397.7L84.4 397.9L85.1 398.1L86.1 398.6L87.5 399.1L89.3 399.8L91.7 400.6L94.7 401.6L98.3 402.7L102.6 403.9L107.7 405.1L113.7 406.4L120.6 407.7L128.5 409.1M59.8 369.1L59.8 369.2L59.8 369.9L60 371.6L60.4 374.3L61 377.6L62 381.3L63.3 385.1L65 388.6L67.3 392L70.1 395.2L73.5 398.2L77.6 400.9L82.4 403.5L88 405.9L94.5 408.2L101.9 410.3M59.8 343.1L59.8 343.2L59.9 344.2L60.4 346.6L61.3 350.3L62.7 354.7L64.9 359.3L67.9 363.9L71.9 368.1L77.1 372.1L83.6 375.8L91.5 379.2L100.9 382.4L112.1 385.4L125.1 388.1L140.2 390.7L157.3 393.2M72.5 406.9L72.5 406.9L72.6 406.9L72.9 407.1L73.4 407.5L74.2 408L75.4 408.8L77.2 409.8L79.5 411L82.4 412.3L86.1 413.8L90.6 415.3L96 416.9L102.3 418.5L109.8 420.1L118.3 421.7L128.1 423.3M78.3 415.2L78.3 415.2L78.5 415.2L78.8 415.4L79.6 415.7L80.9 416.1L82.7 416.8L85.4 417.6L88.8 418.5L93.3 419.6L98.9 420.8L105.7 422L113.9 423.3L123.5 424.6L134.8 425.8L147.8 427.1L162.6 428.3M59.8 386.1L59.8 386.4L60 388.3L60.6 392.4L61.7 398.2L63.5 404.6L66.2 410.9L70.1 416.7L75.2 422.1L81.7 427L89.8 431.4L99.8 435.6L111.7 439.4L125.8 442.9L142.3 446.2L161.3 449.2L183 452.1M59.8 389.8L59.8 389.9L59.9 390.5L60.3 391.9L61 394.3L62.2 397.3L63.9 400.6L66.4 404L69.7 407.3L73.9 410.4L79.2 413.3L85.6 416.1L93.3 418.6L102.4 421L113 423.3L125.3 425.4L139.3 427.4M59.8 409.8L59.8 409.9L60 410.9L60.6 413.3L61.7 416.7L63.5 420.5L66.3 424.3L70.1 427.9L75.2 431.3L81.8 434.4L90 437.2L100 439.8L112 442.2L126.1 444.5L142.7 446.6L161.7 448.5L183.5 450.3M59.8 398.9L59.8 399L59.9 399.4L60.1 400.3L60.7 401.9L61.5 403.9L62.8 406.3L64.7 408.7L67.1 411.1L70.2 413.3L74.1 415.5L78.8 417.5L84.5 419.4L91.2 421.2L99.1 422.9L108.1 424.5L118.5 426M60.8 383.2L60.9 383.4L61 384.5L61.6 387.2L62.6 391.4L64.3 396.3L66.8 401.5L70.2 406.5L74.9 411.3L80.8 415.7L88.3 419.8L97.4 423.6L108.3 427.1L121.2 430.3L136.2 433.4L153.5 436.2L173.3 438.9M59.8 405.3L59.8 405.4L60 406.2L60.5 407.9L61.5 410.7L63.2 414.1L65.7 417.6L69.2 421.1L73.8 424.4L79.8 427.5L87.2 430.3L96.3 433L107.2 435.5L120 437.8L135 439.9L152.3 441.9L172.1 443.8M59.8 400.4L59.8 400.4L59.9 401L60.2 402.2L60.9 404L62.1 406.2L63.7 408.3L66.1 410.4L69.2 412.4L73.2 414.2L78.3 415.9L84.4 417.4L91.7 418.8L100.4 420.2L110.5 421.4L122.2 422.6L135.6 423.6M59.8 400.1L59.8 400.4L60 402.1L60.6 405.7L61.8 410.5L63.7 415.6L66.5 420.5L70.5 425L75.8 429.1L82.6 432.8L91 436.2L101.4 439.3L113.8 442.1L128.5 444.7L145.6 447.2L165.4 449.5L187.9 451.6M59.8 384.2L59.8 384.5L60 386.1L60.5 389.8L61.5 395L63.1 400.9L65.5 406.8L68.9 412.3L73.4 417.4L79.2 422.1L86.4 426.4L95.2 430.3L105.7 434L118.2 437.4L132.8 440.5L149.6 443.5L168.8 446.2M59.8 390.6L59.8 390.8L60 392.2L60.5 395.4L61.4 400.2L63 405.9L65.4 411.8L68.7 417.4L73.1 422.7L78.7 427.6L85.8 432.1L94.4 436.2L104.8 440.1L117 443.7L131.2 447L147.7 450.2L166.4 453.1M59.8 366.6L59.8 366.7L59.9 367.8L60.3 370.3L61.1 374L62.4 378.5L64.3 383.2L67 387.7L70.6 392L75.2 395.9L80.9 399.6L88 402.9L96.4 406.1L106.3 409L117.9 411.7L131.3 414.3L146.5 416.7M59.8 401.4L59.8 401.5L59.9 402.4L60.3 404.6L61 407.7L62.3 411.1L64.1 414.5L66.7 417.8L70.1 420.8L74.5 423.5L80 426L86.8 428.4L94.8 430.5L104.3 432.5L115.4 434.4L128.2 436.1L142.9 437.7M59.8 349.9L59.8 350.2L60 352.5L60.6 357.4L61.9 364L63.9 371L66.9 377.8L71.1 384L76.6 389.7L83.8 394.9L92.7 399.6L103.7 403.9L116.8 407.8L132.3 411.5L150.3 414.9L171.1 418.1L194.9 421.1M59.8 377.3L59.8 377.4L59.9 378L60.2 379.3L60.9 381.3L61.9 383.7L63.5 386.2L65.7 388.6L68.7 390.9L72.5 393L77.2 394.9L83 396.7L89.9 398.3L98.1 399.9L107.6 401.3L118.6 402.7L131.2 403.9M62.3 379.6L62.3 379.6L62.4 379.9L62.7 380.6L63.2 381.9L64.1 383.7L65.4 385.9L67.2 388.4L69.6 390.9L72.7 393.5L76.6 396L81.3 398.5L87 400.8L93.7 403L101.5 405.1L110.5 407L120.8 408.9M59.8 382.1L59.8 382.4L60 384.3L60.5 388.6L61.4 394.8L63 401.8L65.4 408.8L68.7 415.3L73.1 421.4L78.7 427L85.7 432.1L94.3 436.8L104.7 441.2L116.9 445.2L131.1 449L147.5 452.5L166.2 455.8M59.8 346.9L59.8 347.1L59.9 348.5L60.2 352L60.8 357.7L61.8 365.1L63.2 373.4L65.3 381.9L68 390.3L71.5 398.3L75.9 405.9L81.3 413L87.7 419.6L95.3 425.8L104.2 431.7L114.4 437.1L126 442.3M84.1 434.6L84.1 434.6L84.2 434.7L84.4 434.8L84.8 434.9L85.4 435.2L86.4 435.7L87.8 436.2L89.6 436.9L91.9 437.8L94.9 438.8L98.4 439.9L102.7 441.2L107.8 442.4L113.6 443.8L120.4 445.2L128.2 446.6M59.8 392.4L59.8 392.6L60 393.8L60.5 396.8L61.5 401.4L63.2 406.9L65.8 412.6L69.3 418.2L74 423.6L80.1 428.5L87.6 433.1L96.8 437.4L107.9 441.3L121 445L136.2 448.5L153.8 451.7L173.9 454.7M59.8 361.2L59.8 361.5L59.9 363.5L60.3 368.2L61.1 375.2L62.4 383.3L64.4 391.6L67.1 399.5L70.7 407L75.4 413.8L81.2 420.2L88.2 426L96.7 431.4L106.8 436.5L118.5 441.2L132 445.6L147.4 449.7M59.8 390.8L59.8 390.9L59.9 391.4L60.1 392.8L60.6 394.9L61.4 397.7L62.6 400.6L64.3 403.6L66.6 406.4L69.5 409.1L73.1 411.6L77.5 414L82.8 416.2L89.1 418.2L96.4 420.2L104.8 422L114.5 423.7M59.8 365.4L59.8 365.7L60 367.5L60.7 371.6L61.9 377.2L64 383.2L67.1 389.2L71.5 394.7L77.2 399.7L84.7 404.3L93.9 408.5L105.2 412.3L118.8 415.9L134.8 419.2L153.5 422.3L175.1 425.1L199.7 427.8M63.1 377.2L63.1 377.2L63.2 377.8L63.6 379.3L64.2 382L65.3 385.7L67 390.4L69.3 395.5L72.3 400.9L76.3 406.3L81.2 411.6L87.1 416.7L94.3 421.6L102.8 426.2L112.7 430.6L124.1 434.7L137.1 438.7M77.4 421.1L77.4 421.1L77.5 421.2L77.8 421.5L78.4 422L79.5 422.9L81 424L83.1 425.6L86 427.4L89.6 429.6L94.1 431.9L99.7 434.4L106.3 437L114.2 439.6L123.4 442.2L134 444.9L146 447.4M59.8 372.1L59.8 372.3L60 373.5L60.5 376.2L61.5 380L63.1 384.3L65.5 388.6L68.9 392.7L73.5 396.4L79.3 399.8L86.5 402.9L95.4 405.8L106 408.5L118.6 410.9L133.2 413.2L150.1 415.4L169.4 417.4M59.8 387.7L59.8 387.9L59.9 389.4L60.3 392.7L61 397.5L62.1 402.8L63.9 408L66.3 413L69.5 417.5L73.7 421.7L78.9 425.5L85.2 429.1L92.8 432.3L101.8 435.4L112.3 438.2L124.3 440.8L138.1 443.3M59.8 410.6L59.8 410.7L59.9 411.1L60.2 412L60.8 413.6L61.8 415.8L63.3 418.2L65.4 420.8L68.2 423.3L71.8 425.7L76.2 428L81.7 430.1L88.2 432.2L95.9 434.1L104.9 435.8L115.3 437.5L127.2 439.1M63.8 389.3L63.8 389.4L64 389.9L64.6 391.2L65.7 393.5L67.5 396.6L70.2 400.2L74 404L79.1 407.9L85.6 411.7L93.6 415.3L103.5 418.7L115.4 422L129.4 425L145.7 427.9L164.6 430.6L186.1 433.2M59.8 402.9L59.8 403.1L59.9 404.3L60.4 406.9L61.3 410.5L62.8 414.4L65 418.1L68.1 421.5L72.2 424.7L77.5 427.6L84.1 430.2L92.2 432.6L101.8 434.8L113.2 436.9L126.6 438.8L141.9 440.6L159.5 442.3M59.8 369.9L59.8 369.9L59.8 370.3L60 371.3L60.3 373L60.9 375.3L61.8 377.9L63 380.7L64.5 383.4L66.6 386.1L69.1 388.6L72.2 391L75.9 393.3L80.3 395.4L85.4 397.4L91.3 399.3L98 401M59.8 388L59.8 388.2L60 389.6L60.5 392.8L61.5 397.3L63.2 402.2L65.8 407.1L69.3 411.7L74.1 415.9L80.1 419.7L87.7 423.3L97 426.5L108.1 429.5L121.2 432.3L136.5 434.9L154.1 437.3L174.3 439.6M59.8 383.9L59.8 384L59.8 384.3L60 385.1L60.4 386.4L61 388.1L61.9 390.1L63.1 392.2L64.8 394.3L66.9 396.3L69.5 398.2L72.8 400.1L76.7 401.8L81.2 403.4L86.6 404.9L92.8 406.4L99.8 407.7M59.8 338.2L59.8 338.6L60 341.6L60.7 348L62.1 356.9L64.3 366.6L67.6 376.1L72.1 385L78.3 393.1L86.1 400.5L95.9 407.3L107.9 413.5L122.2 419.2L139.2 424.5L158.9 429.5L181.7 434.1L207.8 438.4M59.8 363.7L59.8 363.9L59.9 364.9L60.2 367.2L60.9 370.9L62 375.4L63.6 380.1L65.9 384.8L69 389.3L72.9 393.5L77.7 397.4L83.7 401L90.8 404.3L99.2 407.5L109.1 410.4L120.4 413.1L133.4 415.7M59.8 353L59.8 353.5L60 356.3L60.5 362.6L61.6 371.4L63.4 381.2L66.1 390.8L69.8 399.8L74.8 408L81.2 415.6L89.1 422.5L98.8 428.9L110.5 434.8L124.3 440.2L140.3 445.3L158.9 450L180 454.5M68.4 387.7L68.4 387.8L68.7 388.2L69.3 389.3L70.4 391.2L72.4 394L75.3 397.5L79.3 401.6L84.7 406L91.5 410.5L100.1 414.9L110.6 419.3L123.2 423.4L138.1 427.4L155.5 431.3L175.5 434.9L198.4 438.4M59.8 340.9L59.8 341.1L59.9 342.4L60.3 345.2L60.9 349.3L62.1 353.9L63.8 358.5L66.2 362.9L69.3 366.9L73.4 370.6L78.5 374L84.7 377.1L92.1 380L100.9 382.7L111.2 385.2L123 387.6L136.5 389.8M59.8 366.1L59.8 366.2L60 367.1L60.5 369.1L61.6 372.1L63.3 375.7L65.9 379.5L69.4 383.1L74.2 386.5L80.3 389.7L88 392.6L97.4 395.3L108.6 397.8L121.8 400.1L137.3 402.2L155.1 404.3L175.5 406.2M60.8 391.3L60.8 391.4L60.9 392.3L61.4 394.4L62.2 397.8L63.6 402L65.7 406.5L68.6 411L72.4 415.2L77.3 419.3L83.5 423L91 426.5L100 429.7L110.7 432.7L123.1 435.6L137.4 438.2L153.8 440.7M71.7 408.8L71.8 408.9L71.9 409L72.4 409.5L73.3 410.4L74.8 411.7L77 413.5L80.1 415.6L84.3 418.1L89.6 420.7L96.2 423.4L104.3 426.1L114 428.8L125.5 431.5L138.9 434L154.4 436.5L172 438.9M59.8 381.1L59.8 381.2L59.9 382.3L60.3 384.9L61.1 388.9L62.4 393.8L64.4 399.2L67.1 404.4L70.7 409.4L75.3 414.2L81.1 418.6L88.2 422.6L96.7 426.4L106.7 430L118.4 433.3L131.9 436.4L147.3 439.3M59.8 353.4L59.8 353.5L59.8 354.1L60.1 355.4L60.5 357.5L61.2 360.2L62.2 363.1L63.7 366L65.6 368.7L68.1 371.4L71.2 373.8L75 376.1L79.5 378.2L84.8 380.2L91.1 382.1L98.3 383.8L106.5 385.5M59.8 407.1L59.8 407.2L59.8 407.7L60.1 409L60.5 411L61.2 413.5L62.2 416.1L63.7 418.7L65.6 421.2L68.1 423.5L71.2 425.7L74.9 427.7L79.5 429.5L84.8 431.3L91.1 432.9L98.3 434.4L106.5 435.9M59.8 354.5L59.8 354.8L60 356.5L60.7 360.5L62 366.4L64.2 373.4L67.4 380.4L71.9 387.2L77.9 393.6L85.5 399.4L95.1 404.8L106.8 409.8L120.9 414.4L137.5 418.7L156.8 422.7L179.2 426.5L204.7 430M59.8 357.5L59.8 357.8L60 359.7L60.5 364.2L61.5 370.8L63.2 378.6L65.7 386.5L69.2 394.1L73.8 401.2L79.8 407.8L87.3 413.9L96.4 419.5L107.3 424.7L120.3 429.5L135.3 434L152.7 438.2L172.5 442.1M59.8 393.5L59.8 393.6L59.9 394.4L60.2 396.2L60.9 399.2L61.9 403.2L63.5 407.6L65.8 412.1L68.7 416.5L72.5 420.7L77.3 424.7L83.1 428.4L90.1 431.9L98.3 435.1L107.9 438.2L119 441.1L131.6 443.8M59.8 375L59.8 375.3L60 377.2L60.7 381.4L62 387L64.2 393L67.4 398.8L71.9 404.2L78 409.1L85.7 413.5L95.3 417.6L107.1 421.3L121.2 424.7L137.9 427.9L157.3 430.8L179.7 433.6L205.4 436.1M59.8 380.3L59.8 380.6L60 382.2L60.5 385.5L61.5 390L63.1 394.7L65.5 399.1L68.9 403.3L73.4 407L79.2 410.4L86.5 413.5L95.3 416.3L106 418.9L118.5 421.3L133.1 423.5L150 425.6L169.3 427.6M59.8 406.8L59.8 406.8L59.9 407.2L60.2 408.2L60.9 409.8L62 411.7L63.7 413.9L66 416L69.1 418.1L73 420L78 421.8L84 423.5L91.3 425.1L99.8 426.5L109.8 427.9L121.3 429.2L134.5 430.4M59.8 380.1L59.8 380.3L60 381.3L60.5 383.9L61.5 387.8L63.1 392.5L65.5 397.3L68.9 402L73.4 406.5L79.2 410.6L86.4 414.4L95.2 418L105.8 421.3L118.3 424.3L132.8 427.2L149.6 429.9L168.8 432.4M78 385.9L78 386L78.2 386L78.6 386.3L79.5 386.8L81 387.6L83.2 388.6L86.3 390L90.5 391.5L95.8 393.3L102.4 395.1L110.4 397.1L120.1 399.1L131.6 401L144.9 403L160.3 404.9L177.9 406.8M59.8 384.9L59.8 385L59.9 386.1L60.2 388.7L60.7 392.6L61.7 397.1L63 401.7L65 406.2L67.6 410.4L70.9 414.2L75 417.8L80 421.1L86.1 424.2L93.2 427L101.6 429.7L111.2 432.2L122.2 434.5M59.8 392.3L59.8 392.3L59.9 392.7L60.1 393.7L60.6 395.5L61.4 397.7L62.7 400.4L64.4 403.1L66.7 405.8L69.7 408.5L73.3 411L77.8 413.4L83.2 415.6L89.6 417.7L97 419.7L105.6 421.5L115.4 423.3M73 406.7L73 406.7L73.1 407L73.5 407.6L74.3 408.8L75.6 410.6L77.5 413.1L80.2 416.2L83.7 419.7L88.3 423.7L94 427.8L101 432L109.3 436.3L119.2 440.5L130.7 444.6L144 448.6L159.2 452.5M59.8 401.9L59.8 402L60 402.9L60.5 405L61.5 408L63.1 411.3L65.6 414.6L69.1 417.7L73.7 420.5L79.6 423.1L86.9 425.5L95.9 427.7L106.7 429.7L119.5 431.5L134.4 433.3L151.5 434.9L171.1 436.4M59.8 378.8L59.8 379.1L60 381.1L60.7 385.6L62 392L64.1 399L67.3 405.8L71.8 412.3L77.7 418.2L85.3 423.6L94.8 428.6L106.4 433.1L120.3 437.3L136.7 441.2L155.9 444.8L178 448.2L203.2 451.4M59.8 361.1L59.8 361.4L60 363.1L60.7 366.9L62 372.1L64.1 377.8L67.3 383.5L71.7 388.8L77.5 393.6L85.1 398L94.5 402.1L106 405.8L119.8 409.2L136 412.4L155 415.3L176.9 418.1L202 420.7M59.8 369.7L59.8 369.9L59.8 370.9L60.1 373.3L60.5 377.2L61.3 382.3L62.3 387.8L63.9 393.4L65.9 398.9L68.5 404.1L71.8 409L75.8 413.5L80.5 417.7L86.2 421.7L92.8 425.4L100.4 428.9L109.1 432.2M59.8 378.7L59.8 378.7L59.8 379L60 379.7L60.3 381L60.8 382.8L61.5 385.1L62.5 387.7L63.9 390.5L65.6 393.3L67.8 396.1L70.5 398.8L73.7 401.4L77.5 403.9L81.9 406.2L87 408.5L92.8 410.6M76.2 409.3L76.2 409.3L76.3 409.4L76.6 409.6L77.2 410.1L78.2 410.7L79.7 411.7L81.8 413L84.6 414.5L88.2 416.2L92.6 418.1L98.1 420.1L104.6 422.2L112.3 424.3L121.3 426.4L131.7 428.5L143.6 430.6M85.4 414.5L85.4 414.5L85.5 414.5L86 414.7L86.8 415L88.1 415.5L90.1 416.3L92.9 417.2L96.7 418.4L101.5 419.7L107.5 421.1L114.8 422.7L123.6 424.3L134 425.9L146.1 427.6L160 429.2L176 430.8M59.8 356.9L59.8 357.2L59.9 359.2L60.3 363.8L61.1 370.4L62.3 378L64.1 385.7L66.7 393L70.2 399.8L74.6 406L80.1 411.8L86.8 417.1L94.9 421.9L104.4 426.5L115.6 430.7L128.4 434.7L143.1 438.4M59.8 399L59.8 399.2L60 400.4L60.5 403.1L61.5 406.7L63.1 410.6L65.6 414.3L69 417.8L73.6 421L79.5 423.9L86.8 426.6L95.8 429L106.6 431.2L119.3 433.3L134.1 435.2L151.2 437L170.7 438.7M59.8 374.6L59.8 374.8L60 376L60.5 378.9L61.6 383.3L63.3 388.6L65.9 394.3L69.5 399.8L74.3 405L80.4 409.9L88.1 414.5L97.5 418.7L108.8 422.5L122.1 426.2L137.6 429.6L155.5 432.7L175.9 435.7M59.8 367L59.8 367.5L60.1 370.4L60.8 376.7L62.2 385L64.5 393.8L68 402.1L72.8 409.7L79.3 416.7L87.5 423L97.9 428.7L110.5 434L125.6 438.8L143.5 443.3L164.3 447.4L188.4 451.3L215.9 454.9M59.8 399.7L59.8 400L60 401.7L60.6 405.4L61.7 410.3L63.6 415.6L66.4 420.7L70.3 425.5L75.5 429.8L82.2 433.7L90.6 437.3L100.8 440.5L113 443.6L127.5 446.4L144.3 449L163.8 451.4L186 453.7M59.8 396.4L59.8 396.8L60 398.9L60.7 403.7L62 410.6L64.2 418.4L67.5 426.1L72 433.4L78.1 440.1L85.8 446.3L95.5 451.9L107.3 457.1L121.5 461.9L138.3 466.4L157.9 470.6L180.4 474.5L206.2 478.1M59.8 387.3L59.8 387.4L59.9 388.2L60.3 390.1L61.1 392.8L62.3 395.9L64.2 399L66.8 401.9L70.3 404.7L74.8 407.2L80.3 409.5L87.2 411.6L95.3 413.6L105 415.4L116.3 417.1L129.3 418.7L144.1 420.2M59.8 382.9L59.8 383L59.9 383.6L60.2 385.2L60.9 387.8L62 391.1L63.6 394.9L65.9 398.7L68.9 402.4L72.8 406L77.6 409.4L83.5 412.5L90.6 415.5L99 418.3L108.7 420.9L120 423.3L132.9 425.6M59.8 361.5L59.8 361.6L59.8 362.1L60 363.2L60.4 365.1L61.1 367.5L62.1 370.3L63.5 373.1L65.3 375.9L67.6 378.6L70.6 381.1L74.2 383.5L78.4 385.7L83.5 387.7L89.4 389.7L96.3 391.5L104.1 393.3M59.8 364.8L59.8 365.1L60 367.3L60.6 372.1L61.7 379L63.5 386.8L66.3 394.5L70.2 401.8L75.3 408.6L81.9 414.8L90.1 420.5L100.2 425.7L112.3 430.5L126.5 435L143.2 439.2L162.3 443.1L184.3 446.7M59.8 387.9L59.8 388.1L59.9 389L60.4 391.3L61.3 394.9L62.7 399.3L64.9 403.9L67.9 408.4L71.9 412.8L77.1 416.8L83.5 420.6L91.4 424L100.8 427.3L112 430.3L125 433.1L140 435.8L157.1 438.2M59.8 399.9L59.8 400L59.9 400.6L60.3 401.9L61 404L62.3 406.7L64.1 409.6L66.6 412.5L70 415.2L74.3 417.9L79.8 420.3L86.4 422.6L94.3 424.8L103.7 426.8L114.7 428.6L127.3 430.4L141.7 432M64.7 388.6L64.8 388.6L64.9 388.9L65.3 389.8L66 391.4L67.2 393.7L69.1 396.6L71.6 399.9L75 403.5L79.3 407.1L84.8 410.8L91.4 414.4L99.3 417.8L108.7 421.1L119.7 424.2L132.3 427.2L146.7 430.1M59.8 353.5L59.8 353.7L60 355.2L60.4 358.5L61.4 363.4L63 369.1L65.3 374.9L68.6 380.4L73 385.6L78.6 390.3L85.6 394.7L94.1 398.7L104.4 402.5L116.5 405.9L130.6 409.2L146.9 412.2L165.5 415M59.8 381.2L59.8 381.5L60 383L60.5 386.3L61.6 391.1L63.3 396.5L65.8 401.8L69.4 406.9L74.2 411.5L80.3 415.7L87.9 419.6L97.2 423.2L108.4 426.5L121.6 429.6L137.1 432.4L154.8 435.1L175.2 437.6M68.3 408.2L68.3 408.2L68.5 408.4L68.8 409.1L69.6 410.2L70.9 412L72.8 414.3L75.4 417.1L78.9 420.2L83.4 423.6L89 427L95.8 430.5L104 433.9L113.7 437.2L125 440.4L138.1 443.4L153 446.4M59.8 371.4L59.8 371.8L60 374.9L60.7 381.7L62.1 391.2L64.3 401.5L67.7 411.6L72.3 421L78.5 429.7L86.4 437.6L96.3 444.8L108.5 451.4L123 457.5L140.1 463.2L160.2 468.5L183.2 473.4L209.6 478M59.8 405.5L59.8 405.7L60 407.3L60.6 410.5L61.7 414.8L63.6 419.2L66.3 423.4L70.2 427.3L75.4 430.8L82 434L90.3 436.9L100.4 439.5L112.5 441.9L126.9 444.2L143.6 446.3L162.9 448.2L184.9 450.1M72.6 400.5L72.6 400.5L72.8 400.8L73.2 401.6L74.1 403L75.6 405.2L77.8 408.2L80.9 411.8L84.9 415.9L90.2 420.4L96.7 425.1L104.7 429.8L114.2 434.5L125.6 439.1L138.7 443.6L154 448L171.3 452.2M59.8 379.2L59.8 379.3L59.8 379.6L60.1 380.6L60.5 382.2L61.2 384.4L62.3 387.1L63.7 389.9L65.7 392.8L68.2 395.7L71.4 398.5L75.2 401.1L79.9 403.6L85.3 405.9L91.7 408.2L99 410.3L107.4 412.2M59.8 383.6L59.8 383.7L60 385L60.5 387.8L61.5 392.2L63.1 397.4L65.6 402.9L69.1 408.3L73.7 413.4L79.5 418.1L86.9 422.5L95.9 426.6L106.7 430.3L119.4 433.8L134.3 437.1L151.4 440.2L171 443M59.8 367.6L59.8 368L60 370.4L60.7 375.5L62.1 382.3L64.3 389.5L67.7 396.3L72.3 402.5L78.5 408.2L86.5 413.4L96.5 418.1L108.6 422.4L123.2 426.4L140.4 430L160.5 433.4L183.6 436.6L210.1 439.6M59.8 365.2L59.8 365.3L59.8 366L60 367.5L60.4 370.1L61.1 373.4L62 377.1L63.4 380.9L65.1 384.6L67.4 388.1L70.3 391.4L73.8 394.5L77.9 397.4L82.9 400.1L88.6 402.7L95.3 405.1L102.8 407.3M59.8 388.6L59.8 388.7L60 389.9L60.5 392.6L61.6 396.6L63.4 401.5L66.1 406.5L69.8 411.4L74.7 416L81 420.3L89 424.3L98.6 428L110.2 431.4L123.9 434.5L139.9 437.5L158.3 440.3L179.4 442.9M59.8 383.6L59.8 383.8L60 385.2L60.5 388.5L61.4 393.7L63 399.8L65.4 406.3L68.8 412.7L73.2 418.7L78.9 424.3L86 429.5L94.7 434.3L105.1 438.8L117.4 443L131.8 446.9L148.3 450.5L167.3 454M59.8 379.4L59.8 379.6L59.9 380.9L60.4 383.9L61.3 388.5L62.7 394L64.9 399.6L67.9 405L71.9 410.1L77.1 414.8L83.5 419.2L91.4 423.2L100.9 427L112 430.4L125 433.7L140 436.7L157.2 439.6M84.3 400.8L84.3 400.8L84.4 400.9L84.8 401.2L85.5 401.7L86.7 402.5L88.5 403.7L91 405.2L94.4 407.1L98.6 409.3L103.9 411.7L110.5 414.3L118.3 417L127.5 419.8L138.2 422.7L150.7 425.5L164.8 428.3M63.7 411.2L63.7 411.3L63.9 411.6L64.5 412.4L65.6 413.8L67.4 415.8L70.1 418.2L73.9 420.8L79 423.5L85.4 426.1L93.5 428.6L103.4 431L115.2 433.3L129.2 435.4L145.5 437.5L164.3 439.4L185.8 441.2M85.3 438.8L85.3 438.8L85.5 438.9L85.9 439.3L86.7 440L88 441L90 442.6L92.7 444.5L96.4 446.9L101.1 449.7L106.9 452.7L114.1 456L122.7 459.4L132.8 462.9L144.7 466.4L158.3 469.8L173.9 473.3M71.6 416.4L71.6 416.4L71.7 416.5L72 416.8L72.5 417.3L73.4 418.2L74.7 419.3L76.6 420.8L79 422.6L82.2 424.6L86.1 426.8L90.9 429.1L96.7 431.4L103.5 433.8L111.4 436.1L120.6 438.4L131.1 440.7M59.8 385.8L59.8 386L59.9 386.9L60.4 389.3L61.2 392.9L62.5 397.4L64.6 402.2L67.4 407L71.2 411.5L76.1 415.7L82.1 419.7L89.5 423.3L98.4 426.7L108.9 429.9L121.2 432.9L135.3 435.7L151.5 438.3M59.8 375.2L59.8 375.5L60 377.4L60.6 381.6L61.8 387.9L63.7 395.2L66.5 402.7L70.5 409.9L75.8 416.5L82.6 422.7L91 428.4L101.4 433.6L113.8 438.5L128.5 443L145.6 447.2L165.3 451.1L187.9 454.8M59.8 398.3L59.8 398.4L59.9 399.3L60.2 401.5L60.9 404.8L61.9 408.9L63.5 413.4L65.7 417.8L68.7 422.1L72.5 426L77.2 429.7L83 433.2L90 436.4L98.2 439.4L107.7 442.2L118.8 444.8L131.4 447.3M80.2 432.8L80.2 432.8L80.4 433L81 433.7L82.1 434.8L83.9 436.7L86.7 439.2L90.5 442.3L95.7 446L102.2 450L110.5 454.3L120.5 458.6L132.5 463L146.7 467.4L163.3 471.7L182.4 475.8L204.3 479.9M77.1 410.1L77.1 410.1L77.2 410.2L77.4 410.3L77.9 410.5L78.6 410.9L79.7 411.5L81.2 412.2L83.2 413.1L85.8 414.2L89 415.3L93 416.6L97.7 418L103.3 419.4L109.8 420.9L117.3 422.3L125.8 423.8M59.8 383.8L59.8 384L60 385.2L60.6 388L61.7 392.1L63.6 396.7L66.5 401.4L70.4 405.8L75.7 409.9L82.4 413.7L90.9 417.2L101.2 420.4L113.5 423.3L128.1 426.1L145.1 428.6L164.7 431L187.2 433.3M59.8 399.7L59.8 400L60 401.8L60.7 405.4L62 409.9L64.2 414.5L67.5 418.7L72 422.4L78 425.8L85.8 428.9L95.5 431.7L107.3 434.2L121.4 436.5L138.2 438.7L157.7 440.7L180.2 442.5L206 444.3M59.8 381.5L59.8 381.7L59.9 383.5L60.4 387.4L61.2 392.9L62.7 399.1L64.8 405.3L67.8 411L71.7 416.4L76.8 421.3L83.1 425.7L90.8 429.9L100.1 433.7L111.1 437.2L123.8 440.5L138.6 443.6L155.4 446.4M59.8 392L59.8 392.2L59.9 393.9L60.3 397.7L61 403.1L62.2 409.1L64 415.2L66.5 420.9L69.8 426.2L74 431.1L79.4 435.6L85.9 439.7L93.6 443.5L102.8 447L113.6 450.3L125.9 453.3L140.1 456.2M59.8 369.4L59.8 369.6L59.8 370.2L60.1 372L60.5 374.8L61.3 378.4L62.4 382.3L63.9 386.4L65.9 390.3L68.6 394L71.8 397.5L75.8 400.8L80.6 403.8L86.3 406.7L92.9 409.4L100.5 411.9L109.2 414.3M63.2 419.5L63.3 419.6L63.4 419.9L63.9 420.7L64.8 422.2L66.3 424.3L68.4 426.8L71.5 429.7L75.6 432.6L80.8 435.5L87.3 438.4L95.3 441.2L104.9 443.8L116.2 446.3L129.4 448.6L144.6 450.9L162 453M79.6 422.5L79.6 422.5L79.7 422.5L80.1 422.7L80.7 422.9L81.8 423.3L83.4 423.9L85.7 424.6L88.6 425.5L92.5 426.5L97.3 427.6L103.1 428.8L110.1 430L118.4 431.2L128.1 432.5L139.2 433.7L152 435M59.8 386.6L59.8 386.7L59.9 387.6L60.3 389.6L61 392.8L62.2 397L64 401.7L66.6 406.5L69.9 411.2L74.2 415.6L79.6 419.8L86.2 423.7L94.1 427.4L103.4 430.8L114.2 434L126.7 437.1L141.1 439.9M59.8 382.1L59.8 382.3L60 383.9L60.5 387.4L61.4 392.5L63 398.4L65.4 404.2L68.8 409.8L73.3 414.9L79 419.7L86.1 424L94.9 428.1L105.3 431.8L117.7 435.2L132.1 438.4L148.8 441.4L167.8 444.2M59.8 365.3L59.8 365.5L59.9 366.3L60.3 368.2L61 371.4L62.2 375.3L64 379.5L66.5 383.8L69.8 387.9L74 391.7L79.4 395.3L85.8 398.7L93.6 401.8L102.8 404.7L113.5 407.5L125.9 410L140 412.5M59.8 376.1L59.8 376.5L60.1 378.8L60.8 384.1L62.2 391.6L64.5 400L67.9 408.4L72.7 416.2L79 423.5L87.2 430.1L97.4 436.2L109.9 441.9L124.8 447L142.5 451.9L163 456.3L186.8 460.5L213.9 464.4M59.8 376.2L59.8 376.5L60 378.4L60.5 382.7L61.6 389L63.4 396.3L66 403.8L69.8 410.9L74.7 417.6L81 423.7L88.9 429.3L98.6 434.6L110.1 439.4L123.8 443.9L139.8 448L158.2 451.9L179.2 455.6M59.8 363.3L59.8 363.6L60 365.7L60.5 370.4L61.6 376.8L63.3 383.7L65.9 390.4L69.5 396.6L74.3 402.3L80.5 407.5L88.2 412.2L97.6 416.5L108.9 420.5L122.3 424.2L137.8 427.7L155.8 430.9L176.3 433.9M59.8 352.6L59.8 352.7L59.9 353.2L60.2 354.7L60.9 357L61.9 360.2L63.5 363.7L65.7 367.3L68.6 370.9L72.4 374.4L77.1 377.6L82.9 380.7L89.7 383.6L97.9 386.3L107.4 388.8L118.3 391.2L130.8 393.5M73 404L73 404L73.2 404.2L73.6 404.6L74.3 405.4L75.6 406.6L77.5 408.3L80.1 410.3L83.7 412.7L88.2 415.3L93.8 418L100.7 420.8L109 423.6L118.8 426.4L130.2 429.1L143.3 431.8L158.3 434.4M63.2 380.8L63.2 380.9L63.3 381.5L63.7 383.2L64.5 386L65.8 390.1L67.8 395.1L70.5 400.6L74.1 406.3L78.7 412L84.5 417.6L91.6 423L100 428.1L110.1 433L121.7 437.6L135.2 442L150.6 446.2M59.8 384.1L59.8 384.4L60 385.8L60.6 389L61.7 393.5L63.5 398.4L66.3 403.2L70.2 407.6L75.3 411.7L81.9 415.5L90.1 418.9L100.1 422L112.2 424.9L126.4 427.6L143 430.1L162.2 432.4L184 434.6M59.8 380.1L59.8 380.3L60 381.9L60.6 385.2L61.7 389.7L63.5 394.5L66.2 399L70 403.2L75.1 407L81.5 410.5L89.7 413.6L99.5 416.5L111.4 419.2L125.4 421.7L141.8 424L160.7 426.1L182.2 428.1M59.8 371.1L59.8 371.4L59.9 373.1L60.2 377L60.8 382.8L61.9 389.4L63.4 396.1L65.5 402.5L68.4 408.4L72.1 413.9L76.7 418.9L82.2 423.6L89 427.9L96.9 431.9L106.1 435.6L116.8 439.1L129 442.4M59.8 406.3L59.8 406.4L59.9 407.2L60.2 409L60.9 411.8L62 415.2L63.7 418.7L66 422.1L69.1 425.4L73 428.4L78 431.2L84 433.8L91.2 436.2L99.7 438.5L109.7 440.5L121.2 442.5L134.3 444.3M68.9 399.7L69 399.7L69.1 399.9L69.6 400.5L70.5 401.5L71.9 403.1L74.1 405.1L77.1 407.5L81 410.2L86.2 413L92.6 415.9L100.4 418.7L109.8 421.5L120.9 424.1L133.8 426.7L148.7 429.2L165.7 431.6M59.8 395.8L59.8 396L59.9 396.8L60.4 398.9L61.3 402L62.7 405.7L64.8 409.5L67.8 413.2L71.8 416.7L76.9 419.9L83.2 422.9L91 425.7L100.3 428.2L111.3 430.6L124.2 432.8L139 434.9L155.9 436.8M72.3 406.4L72.3 406.4L72.5 406.6L73 407L74 407.8L75.6 408.9L78 410.5L81.3 412.4L85.8 414.6L91.5 416.9L98.6 419.2L107.4 421.6L117.8 424L130.2 426.3L144.6 428.5L161.2 430.6L180.2 432.7M65.9 385.1L65.9 385.2L65.9 385.3L66.1 385.6L66.5 386.2L67.1 387.1L68 388.4L69.2 390L70.9 392L73 394.1L75.7 396.4L78.9 398.8L82.8 401.2L87.5 403.6L92.8 406L99 408.3L106.1 410.6M59.8 406.8L59.8 406.9L60 408.1L60.6 410.8L61.7 414.6L63.6 419L66.4 423.3L70.2 427.4L75.4 431.1L82 434.6L90.3 437.8L100.4 440.7L112.6 443.4L126.9 445.9L143.6 448.2L162.9 450.4L184.9 452.4M59.8 380.7L59.8 380.9L59.9 381.8L60.2 384.2L60.9 387.9L61.9 392.3L63.5 397.1L65.8 401.7L68.7 406.2L72.5 410.3L77.3 414.2L83.1 417.8L90 421.1L98.2 424.2L107.8 427.1L118.9 429.8L131.5 432.4M59.8 370.3L59.8 370.5L59.9 372.2L60.3 376L61.1 381.8L62.5 388.6L64.5 395.7L67.2 402.5L70.9 408.9L75.7 414.8L81.6 420.3L88.9 425.3L97.5 430L107.8 434.4L119.7 438.4L133.5 442.2L149.3 445.8M59.8 393L59.8 393.1L59.9 394L60.4 396.2L61.3 399.7L62.8 404.1L65.1 408.7L68.2 413.2L72.4 417.6L77.8 421.7L84.5 425.5L92.7 429L102.5 432.3L114.2 435.4L127.7 438.3L143.3 441L161.2 443.5M59.8 402.8L59.8 402.8L59.9 403.4L60.3 404.9L61 407.3L62.2 410.4L64 413.8L66.5 417.3L69.9 420.7L74.2 423.9L79.5 426.9L86 429.7L93.9 432.4L103.2 434.8L114 437.2L126.4 439.3L140.7 441.4M59.8 355.4L59.8 355.5L59.9 356.4L60.3 358.5L61.1 361.5L62.4 365.1L64.4 368.8L67.1 372.3L70.8 375.6L75.4 378.6L81.3 381.4L88.4 384L97 386.4L107.1 388.6L118.8 390.7L132.4 392.7L147.9 394.5M59.8 347L59.8 347.1L59.9 347.9L60.4 349.8L61.3 352.9L62.7 356.7L64.9 360.7L67.9 364.7L72 368.6L77.1 372.2L83.6 375.6L91.5 378.7L101 381.6L112.1 384.4L125.2 386.9L140.2 389.3L157.4 391.5M59.8 362.3L59.8 362.4L59.9 363.6L60.2 366.4L60.8 371.1L61.8 377.3L63.3 384.2L65.4 391.4L68.2 398.4L71.7 405.1L76.2 411.5L81.6 417.5L88.1 423.1L95.8 428.3L104.8 433.3L115.2 437.9L127 442.3M59.8 389.9L59.8 390L59.9 391.2L60.3 393.9L61.2 398L62.5 402.8L64.5 407.7L67.3 412.3L71 416.7L75.8 420.8L81.8 424.5L89.1 428L97.8 431.2L108.1 434.1L120.2 436.9L134 439.5L149.9 441.9M87 418.3L87 418.3L87.1 418.4L87.3 418.5L87.8 418.7L88.5 419.1L89.7 419.7L91.3 420.5L93.4 421.5L96.2 422.6L99.6 424L103.8 425.5L108.8 427.1L114.7 428.9L121.6 430.7L129.6 432.5L138.7 434.4M59.8 368.4L59.8 368.6L59.9 369.6L60.3 371.9L61.1 375.7L62.4 380.3L64.3 385.3L67 390.3L70.6 395L75.3 399.5L81 403.6L88.1 407.5L96.5 411.1L106.5 414.4L118.1 417.6L131.5 420.5L146.9 423.3M77.8 429.6L77.9 429.6L78 429.6L78.3 429.8L78.9 430L79.9 430.5L81.3 431.1L83.4 431.9L86.1 432.8L89.6 433.9L94 435.1L99.3 436.3L105.7 437.7L113.3 439L122.2 440.4L132.3 441.7L144 443M59.8 378.8L59.8 379L59.9 380.3L60.2 383.3L60.9 387.9L62 393.2L63.6 398.7L65.9 404L69 409L72.9 413.6L77.7 417.8L83.7 421.7L90.8 425.4L99.3 428.7L109.1 431.9L120.5 434.8L133.4 437.6M68 391.9L68 392L68.2 392.2L68.5 392.7L69.2 393.8L70.4 395.3L72.2 397.4L74.6 400L77.8 402.8L82 405.9L87.1 409.1L93.5 412.3L101 415.4L110 418.5L120.5 421.5L132.5 424.4L146.3 427.2M59.8 398.7L59.8 398.8L59.9 399.4L60.2 400.9L60.8 403.5L61.9 406.7L63.4 410.2L65.5 413.8L68.4 417.3L72 420.7L76.6 423.8L82.2 426.7L88.9 429.4L96.8 432L106 434.4L116.6 436.6L128.7 438.8M59.8 370.2L59.8 370.3L59.8 370.7L60 371.7L60.4 373.5L60.9 376L61.8 378.9L63 382.1L64.6 385.4L66.7 388.6L69.3 391.7L72.4 394.7L76.2 397.5L80.6 400.1L85.8 402.6L91.8 404.9L98.7 407.2M73.2 424.6L73.2 424.7L73.4 425L74 425.9L75.2 427.7L77.1 430.3L80 433.8L84 437.9L89.3 442.5L96.2 447.4L104.7 452.5L115.1 457.5L127.6 462.4L142.4 467.2L159.6 471.8L179.5 476.3L202.2 480.5M59.8 346.1L59.8 346.2L59.8 346.7L60 348L60.3 350.1L60.8 352.8L61.6 355.9L62.6 359.1L64.1 362.2L65.9 365.2L68.2 368L71 370.7L74.3 373.2L78.3 375.5L82.9 377.7L88.2 379.7L94.3 381.6M66.1 380.1L66.2 380.2L66.4 380.6L67 381.7L68.2 383.6L70.1 386.3L73 389.6L77.1 393.2L82.5 396.9L89.5 400.7L98.2 404.3L108.8 407.8L121.5 411.1L136.5 414.2L154 417.2L174.3 420.1L197.4 422.7M59.8 348L59.8 348.3L60 350.3L60.7 354.9L62.1 361.5L64.2 368.9L67.5 376.2L72.1 383L78.2 389.4L86 395.2L95.7 400.5L107.6 405.4L121.9 410L138.7 414.2L158.4 418.1L181.1 421.7L207 425.2M59.8 370.5L59.8 370.7L59.9 371.9L60.3 374.8L61.1 379.4L62.3 385.2L64.2 391.3L66.7 397.5L70.2 403.4L74.6 408.9L80.1 414.1L86.9 418.9L95 423.4L104.5 427.6L115.7 431.5L128.5 435.2L143.2 438.7M64.9 393L64.9 393L65 393.3L65.4 393.9L66.1 395L67.3 396.6L69.1 398.6L71.6 401L74.9 403.6L79.1 406.2L84.4 408.8L90.9 411.4L98.7 413.9L107.9 416.3L118.6 418.6L130.9 420.8L145 422.8M59.8 392.5L59.8 392.5L59.8 392.8L60 393.5L60.4 394.7L61.1 396.4L62 398.5L63.4 400.6L65.1 402.8L67.4 404.9L70.3 407L73.8 408.9L77.9 410.8L82.9 412.5L88.6 414.2L95.3 415.7L102.8 417.2M59.8 399.6L59.8 399.7L60 400.6L60.5 402.7L61.5 406L63.2 409.8L65.7 413.8L69.3 417.6L73.9 421.3L79.9 424.6L87.5 427.7L96.6 430.6L107.6 433.2L120.6 435.7L135.8 438L153.3 440.2L173.2 442.2M59.8 376.6L59.8 376.9L60 378.6L60.7 382.6L62 388.3L64.1 394.7L67.2 401.2L71.6 407.4L77.4 413.1L84.9 418.3L94.2 423.2L105.7 427.6L119.3 431.7L135.5 435.5L154.4 439L176.1 442.3L201 445.5M87.6 433.6L87.6 433.6L87.8 433.7L88 433.8L88.6 434L89.5 434.3L90.9 434.7L92.9 435.3L95.4 436L98.7 436.8L102.9 437.8L107.9 438.9L114 440L121.1 441.2L129.4 442.5L139 443.7L150 445M59.8 388.9L59.8 389L59.9 390.1L60.3 392.8L60.9 397L62.1 402.3L63.8 408L66.1 413.7L69.3 419.2L73.3 424.4L78.4 429.3L84.5 433.8L91.9 438L100.6 441.9L110.8 445.6L122.6 449.1L136 452.3M73.9 419.3L73.9 419.3L74.1 419.4L74.4 419.7L75 420.1L76.1 420.9L77.7 421.9L79.9 423.2L82.8 424.8L86.5 426.5L91.2 428.4L96.9 430.3L103.8 432.3L111.9 434.3L121.4 436.3L132.3 438.2L144.8 440.1M59.8 369.6L59.8 369.7L59.9 370.5L60.1 372.4L60.7 375.2L61.6 378.6L62.9 382.1L64.7 385.5L67.1 388.8L70.3 391.8L74.2 394.6L78.9 397.1L84.7 399.5L91.4 401.8L99.3 403.8L108.4 405.8L118.8 407.6M59.8 363.7L59.8 364L60 366L60.5 370.3L61.6 376.5L63.4 383.3L66.1 390L69.8 396.3L74.8 402.1L81.2 407.4L89.1 412.3L98.9 416.7L110.5 420.8L124.3 424.7L140.4 428.2L158.9 431.5L180.1 434.6M59.8 384.8L59.8 384.9L59.9 385.5L60.2 387.1L60.7 389.8L61.6 393.4L63 397.6L64.9 402L67.4 406.5L70.7 410.8L74.7 414.8L79.7 418.7L85.6 422.3L92.6 425.7L100.8 429L110.2 432L121 434.9M59.8 376L59.8 376.2L60 377.4L60.7 380.2L62 384.2L64.1 388.7L67.3 393.2L71.7 397.4L77.6 401.3L85.1 404.9L94.6 408.2L106.1 411.3L119.9 414.1L136.3 416.7L155.3 419.1L177.3 421.4L202.4 423.6M61 366.9L61 367L61.2 367.6L61.7 369.2L62.6 371.9L64.1 375.4L66.4 379.3L69.5 383.3L73.7 387.3L79 391.1L85.7 394.7L93.9 398.1L103.7 401.2L115.3 404.2L128.8 407L144.4 409.6L162.3 412.1M59.8 403.3L59.8 403.4L59.9 404.4L60.4 406.8L61.3 410.3L62.8 414.6L65 419L68.1 423.3L72.3 427.4L77.6 431.2L84.2 434.7L92.3 437.9L102 440.9L113.5 443.7L126.9 446.3L142.4 448.7L160 451M59.8 346L59.8 346.3L59.9 347.8L60.2 351.5L60.9 357.6L61.9 365.5L63.5 374.4L65.7 383.5L68.6 392.4L72.3 400.9L77 408.9L82.7 416.4L89.5 423.4L97.6 430L107 436.1L117.8 441.9L130.3 447.4M59.8 364.3L59.8 364.4L60 365.4L60.4 367.7L61.4 371L62.9 374.8L65.2 378.6L68.4 382.2L72.7 385.6L78.2 388.7L85.1 391.6L93.5 394.2L103.5 396.7L115.4 398.9L129.2 401L145.2 403L163.5 404.9M70.4 423.8L70.4 423.9L70.6 424.1L71.2 424.5L72.3 425.4L74.2 426.7L77 428.4L81 430.3L86.2 432.5L92.9 434.7L101.3 437L111.5 439.2L123.8 441.4L138.3 443.5L155.2 445.6L174.7 447.5L197 449.4M59.8 368.6L59.8 368.9L60 370.6L60.7 374.6L62 380.3L64.1 386.7L67.3 393.2L71.7 399.3L77.6 404.9L85.1 410.1L94.6 414.9L106.1 419.2L119.9 423.3L136.3 427L155.3 430.5L177.3 433.8L202.4 436.9M59.8 362.1L59.8 362.7L60 366.2L60.7 373.5L62.1 382.8L64.3 392.3L67.6 401.1L72.3 409.2L78.4 416.5L86.4 423L96.2 429L108.3 434.5L122.8 439.5L139.9 444.1L159.9 448.4L182.9 452.5L209.2 456.2M79.3 423.1L79.3 423.1L79.4 423.2L79.7 423.4L80.3 423.7L81.2 424.3L82.6 425.1L84.5 426.1L87.1 427.4L90.4 428.8L94.5 430.5L99.5 432.3L105.5 434.1L112.6 436L120.9 438L130.5 440L141.4 441.9M59.8 375.4L59.8 375.5L59.9 376.5L60.3 378.8L61 382.6L62.2 387.3L64 392.5L66.5 397.8L69.8 402.8L74.1 407.6L79.4 412L85.9 416.2L93.7 420.1L102.9 423.7L113.6 427.1L126 430.3L140.1 433.3M59.8 372.8L59.8 373L60 374.8L60.7 378.8L61.9 384.7L64 391.5L67.1 398.3L71.4 404.9L77.2 411L84.6 416.7L93.8 421.9L105.1 426.6L118.6 431.1L134.6 435.2L153.2 439L174.7 442.6L199.3 446M76.4 416.8L76.4 416.8L76.5 416.9L76.8 417L77.3 417.3L78.3 417.7L79.7 418.3L81.6 419.1L84.2 420L87.5 421.1L91.6 422.3L96.6 423.6L102.6 424.9L109.8 426.2L118.1 427.6L127.7 428.9L138.6 430.3M59.8 376.5L59.8 376.7L59.9 378L60.4 381.2L61.3 386.1L62.8 392.2L65.1 398.6L68.2 405L72.4 411.1L77.7 416.8L84.4 422.1L92.6 427L102.4 431.6L114 435.9L127.5 439.8L143.1 443.6L160.9 447.1M59.8 387.2L59.8 387.4L59.9 388.7L60.3 391.9L61.1 396.7L62.3 402.7L64.1 409.1L66.7 415.4L70.2 421.4L74.6 427L80.1 432.2L86.8 437.1L94.9 441.6L104.4 445.8L115.5 449.7L128.3 453.4L143 456.9M65.7 414.5L65.7 414.6L65.9 414.8L66.4 415.3L67.3 416.2L68.8 417.5L71.1 419.2L74.3 421.1L78.5 423.2L83.9 425.2L90.6 427.3L98.9 429.3L108.8 431.2L120.5 433L134.1 434.8L149.8 436.4L167.8 438M72.1 404.6L72.1 404.6L72.2 404.7L72.5 404.9L73 405.2L73.9 405.8L75.3 406.7L77.1 407.7L79.6 409L82.8 410.4L86.7 411.9L91.6 413.5L97.4 415.1L104.3 416.8L112.3 418.4L121.5 420L132.1 421.5M59.8 346L59.8 346.3L60 348.2L60.6 352.4L61.8 358.4L63.7 365L66.6 371.6L70.6 377.9L76 383.6L82.8 388.8L91.4 393.7L101.9 398.1L114.5 402.2L129.3 406L146.6 409.5L166.6 412.8L189.5 415.9M78.3 436.1L78.3 436.1L78.4 436.2L78.8 436.4L79.6 436.7L80.8 437.3L82.6 438.1L85.2 439.1L88.6 440.2L93 441.5L98.4 443L105.1 444.5L113.1 446L122.6 447.6L133.6 449.1L146.4 450.7L160.9 452.1M76.3 409.2L76.3 409.2L76.5 409.4L77 410L78 411L79.6 412.7L82 414.9L85.4 417.7L89.9 420.9L95.6 424.4L102.8 428L111.6 431.7L122.2 435.5L134.7 439.1L149.2 442.7L166 446.2L185.1 449.6M59.8 365.1L59.8 365.4L60 367.1L60.7 371L62.1 376.7L64.3 383.3L67.5 389.9L72.1 396.2L78.2 402.1L86.1 407.5L95.8 412.5L107.8 417.1L122.1 421.4L139.1 425.3L158.8 429L181.6 432.5L207.6 435.7M86.2 398.8L86.3 398.8L86.4 398.9L86.8 399.1L87.5 399.4L88.7 399.9L90.4 400.7L92.9 401.6L96.2 402.8L100.4 404.2L105.7 405.8L112.1 407.4L119.9 409.2L129 411L139.7 412.9L151.9 414.7L166 416.5M60.6 376.7L60.7 376.8L60.8 377.9L61.2 380.4L62 384.4L63.4 389.6L65.3 395.4L68.1 401.2L71.8 406.9L76.5 412.2L82.4 417.3L89.7 422L98.3 426.4L108.5 430.6L120.5 434.5L134.2 438.1L149.9 441.5M83.6 408.7L83.6 408.7L83.8 408.8L84.2 408.9L85.1 409.2L86.6 409.7L88.7 410.4L91.8 411.3L95.8 412.3L101 413.5L107.4 414.7L115.3 416.1L124.8 417.5L136 418.9L149.1 420.3L164.1 421.7L181.3 423.1M59.8 361.9L59.8 362.2L60.1 364.5L60.8 369.5L62.3 376L64.6 383L68.2 389.6L73.2 395.7L79.8 401.3L88.3 406.3L98.9 410.9L111.9 415.1L127.5 419L145.8 422.6L167.3 425.9L192 429L220.3 431.9M59.8 356.5L59.8 356.6L59.9 357.2L60.2 358.8L60.9 361.3L62 364.5L63.7 368L66 371.6L69 375.1L73 378.4L77.9 381.5L83.9 384.4L91.1 387.1L99.6 389.7L109.6 392.1L121 394.3L134.1 396.4M59.8 383.3L59.8 383.7L60 385.9L60.6 390.8L61.8 398.1L63.7 406.2L66.7 414.5L70.7 422.3L76.1 429.5L83 436.1L91.7 442.2L102.3 447.8L115 453L129.9 457.8L147.4 462.3L167.6 466.5L190.6 470.5M59.8 390.1L59.8 390.2L59.9 390.9L60.3 392.7L61.1 395.5L62.5 399.1L64.4 403L67.2 407L70.8 410.8L75.5 414.4L81.4 417.8L88.6 421L97.2 423.9L107.3 426.7L119.2 429.3L132.8 431.7L148.5 434M64 390.4L64 390.5L64.2 390.9L64.7 392.2L65.6 394.3L67.2 397.4L69.4 401.1L72.6 405.1L76.9 409.3L82.3 413.5L89.1 417.5L97.4 421.4L107.4 425.1L119.2 428.6L132.9 431.9L148.8 435.1L166.9 438.1M75 421.2L75 421.2L75.2 421.3L75.5 421.5L76.2 421.9L77.3 422.5L78.9 423.3L81.2 424.4L84.3 425.7L88.2 427.1L93.1 428.7L99 430.3L106.2 431.9L114.7 433.6L124.5 435.2L135.9 436.8L148.9 438.4M62.1 405.5L62.2 405.6L62.4 406.2L62.9 407.7L64 410.1L65.9 413.4L68.6 417.1L72.4 421.1L77.5 425L84 428.7L92.1 432.3L102 435.6L113.9 438.8L128 441.8L144.3 444.6L163.3 447.2L184.9 449.7M59.8 391.6L59.8 391.8L59.9 392.9L60.4 395.6L61.2 399.8L62.5 405L64.6 410.5L67.4 416L71.2 421.2L76 426.1L82.1 430.7L89.5 434.9L98.4 438.9L108.8 442.5L121.1 446L135.2 449.2L151.3 452.2M59.8 369.9L59.8 370.2L60 372.1L60.6 376.5L61.9 382.9L63.9 390.3L66.9 397.9L71.1 405.1L76.7 411.8L83.9 418.1L92.9 423.8L103.9 429L117.1 433.9L132.7 438.4L150.8 442.7L171.8 446.6L195.7 450.3M59.8 378.2L59.8 378.3L59.9 379.1L60.2 380.9L60.7 383.7L61.7 387.1L63 390.8L65 394.3L67.6 397.6L70.9 400.8L75 403.7L80.1 406.4L86.1 408.9L93.3 411.2L101.6 413.4L111.3 415.4L122.3 417.3M59.8 364.2L59.8 364.5L59.9 366.7L60.2 371.7L60.9 378.8L62 387L63.6 395.2L65.9 403L68.9 410.2L72.8 416.8L77.7 422.9L83.6 428.6L90.7 433.7L99.1 438.6L108.9 443.1L120.3 447.3L133.2 451.2M59.8 348.5L59.8 348.7L60 350.3L60.7 354L61.9 359.6L64 366.1L67 372.9L71.3 379.4L77 385.5L84.4 391.1L93.5 396.3L104.7 401.1L118.1 405.5L133.9 409.7L152.4 413.5L173.7 417.2L198.1 420.5M59.8 365.4L59.8 365.6L59.9 367.1L60.4 370.3L61.3 374.8L62.7 379.6L64.9 384.2L68 388.5L72 392.4L77.2 396L83.7 399.3L91.6 402.3L101.1 405L112.4 407.6L125.5 410L140.6 412.2L157.9 414.3M59.8 397.4L59.8 397.8L60 399.9L60.6 404.3L61.9 410L63.9 416L66.9 421.6L71.2 426.7L76.8 431.4L84 435.6L93 439.4L104 442.9L117.2 446.2L132.8 449.1L151 451.9L172 454.5L196 456.9M59.8 363.6L59.8 363.7L59.9 364.5L60.2 366.6L60.9 369.9L62 374.2L63.6 378.9L65.8 383.7L68.8 388.3L72.6 392.7L77.4 396.8L83.3 400.6L90.3 404.2L98.6 407.6L108.2 410.7L119.4 413.6L132.1 416.4M70.4 422.8L70.5 422.8L70.7 423.2L71.4 424.1L72.6 425.8L74.7 428.2L77.9 431.4L82.3 435L88.1 438.9L95.6 442.9L105 446.9L116.4 450.9L130.1 454.7L146.3 458.3L165.2 461.8L187 465.1L211.9 468.2M59.8 369.2L59.8 369.5L60 371.5L60.5 375.8L61.5 381.6L63.2 387.8L65.7 393.7L69.1 399.2L73.7 404.1L79.7 408.7L87.1 412.8L96.1 416.5L107 420L119.8 423.2L134.8 426.2L152 429L171.7 431.6M59.8 341.3L59.8 341.6L60 344L60.4 349.7L61.4 358.2L62.9 368.4L65.2 379L68.4 389.2L72.6 398.9L78.1 407.8L84.9 416.1L93.2 423.8L103.1 430.9L114.9 437.5L128.6 443.7L144.5 449.5L162.6 454.9M59.8 398.9L59.8 399L59.9 399.9L60.3 401.8L61.1 404.7L62.4 408L64.3 411.3L67 414.5L70.6 417.5L75.1 420.3L80.8 422.8L87.8 425.2L96.2 427.3L106.1 429.3L117.6 431.2L131 433L146.2 434.6M59.8 367.4L59.8 367.7L60.1 369.6L60.8 374L62.2 380.3L64.5 387.6L67.9 394.9L72.7 401.8L79.1 408.3L87.3 414.2L97.6 419.7L110.1 424.7L125.2 429.3L142.9 433.6L163.6 437.6L187.5 441.4L214.8 444.9M59.8 373.7L59.8 374L59.9 375.7L60.4 379.6L61.2 385.3L62.6 391.9L64.7 398.5L67.5 404.8L71.4 410.6L76.3 416L82.5 420.9L90 425.5L99 429.7L109.6 433.6L122.1 437.3L136.4 440.7L152.8 443.9M59.8 364.4L59.8 364.7L60 366.6L60.6 371L61.7 377.8L63.5 385.9L66.2 394.4L70 402.7L75.1 410.5L81.6 417.8L89.8 424.6L99.7 430.8L111.6 436.6L125.7 442L142.1 447.1L161 451.8L182.6 456.3M59.8 408.7L59.8 408.7L59.8 409L60 409.6L60.3 410.8L60.8 412.3L61.5 414.1L62.6 416L64 417.9L65.8 419.8L68 421.6L70.7 423.3L74 424.8L77.9 426.3L82.4 427.8L87.6 429.1L93.6 430.3M59.8 410.8L59.8 410.9L59.9 411.8L60.4 413.9L61.3 416.9L62.9 420.3L65.1 423.7L68.3 427L72.5 429.9L77.9 432.7L84.7 435.2L93 437.6L102.9 439.7L114.6 441.7L128.2 443.6L143.9 445.3L161.9 446.9M59.8 345.6L59.8 345.7L59.9 346.5L60.3 348.5L61 351.6L62.2 355.3L64 359.3L66.4 363.3L69.7 367L73.9 370.5L79.2 373.7L85.6 376.8L93.4 379.6L102.5 382.2L113.1 384.6L125.4 386.9L139.4 389.1M59.8 380L59.8 380.1L59.9 381L60.2 383.2L60.9 386.3L62 390L63.7 393.6L66.1 397.1L69.2 400.4L73.1 403.4L78.1 406.1L84.2 408.6L91.5 411L100.1 413.2L110.2 415.2L121.8 417.1L135 418.9M59.8 359.9L59.8 360.1L59.9 361.3L60.3 364.1L61.2 368.4L62.5 373.4L64.5 378.6L67.3 383.6L71.1 388.2L75.9 392.6L81.9 396.6L89.2 400.3L98 403.7L108.3 406.9L120.4 409.9L134.4 412.6L150.3 415.2M59.8 392.4L59.8 392.6L59.9 393.5L60.3 395.7L61 399.1L62.3 403.5L64.1 408.2L66.7 413L70.1 417.5L74.5 421.8L79.9 425.8L86.6 429.5L94.7 433L104.1 436.3L115.2 439.3L127.9 442.1L142.5 444.8M59.8 363.2L59.8 363.3L59.8 363.7L60 364.7L60.5 366.4L61.1 368.7L62.1 371.5L63.5 374.5L65.4 377.6L67.7 380.6L70.7 383.5L74.4 386.3L78.7 388.9L83.9 391.3L89.9 393.7L96.8 395.9L104.7 397.9M59.8 392.7L59.8 392.9L60 394.2L60.7 397.1L61.9 401.2L64 405.7L67 410.2L71.3 414.3L77 418.1L84.3 421.6L93.5 424.8L104.6 427.7L118 430.4L133.8 432.9L152.3 435.3L173.6 437.5L197.9 439.5M74.6 423L74.6 423L74.7 423.1L75 423.2L75.6 423.5L76.7 424.1L78.2 424.8L80.3 425.7L83.2 426.7L86.8 428L91.4 429.3L96.9 430.7L103.6 432.1L111.5 433.5L120.7 435L131.3 436.4L143.4 437.7M59.8 405.3L59.8 405.4L60 406.4L60.5 408.7L61.5 412.1L63.2 416.3L65.7 420.7L69.1 424.9L73.8 428.9L79.7 432.7L87.1 436.1L96.2 439.3L107.1 442.3L119.9 445.1L134.9 447.6L152.2 450.1L171.9 452.3M59.8 347.4L59.8 347.7L59.9 349.5L60.4 353.8L61.2 360.2L62.6 367.9L64.7 375.8L67.6 383.5L71.5 390.7L76.5 397.3L82.7 403.5L90.3 409.2L99.4 414.5L110.1 419.4L122.7 424L137.2 428.3L153.7 432.4M59.8 345.6L59.8 345.8L59.8 347.1L60.1 350.4L60.5 355.9L61.2 363.1L62.2 371.3L63.6 379.8L65.5 388.2L68 396.3L71 404L74.7 411.2L79.2 418L84.5 424.3L90.6 430.3L97.7 435.9L105.8 441.2M59.8 374.4L59.8 374.7L60 377.1L60.7 382.2L62 389L64.2 396.2L67.5 403.1L72 409.5L78 415.3L85.8 420.6L95.5 425.5L107.3 429.9L121.5 433.9L138.2 437.7L157.7 441.2L180.3 444.5L206 447.5M67.4 406.1L67.5 406.2L67.7 406.6L68.3 407.7L69.4 409.6L71.3 412.4L74.1 415.9L78 420L83.2 424.2L89.9 428.6L98.3 432.8L108.5 437L120.7 441L135.1 444.8L152 448.5L171.4 451.9L193.6 455.2M87.7 432.1L87.7 432.1L87.9 432.2L88.4 432.4L89.3 432.8L90.9 433.4L93.2 434.2L96.5 435.3L100.8 436.6L106.4 438L113.4 439.7L121.9 441.4L132.1 443.2L144.1 445L158.2 446.9L174.4 448.7L192.9 450.5M59.8 397L59.8 397.1L59.9 397.8L60.2 399.6L60.9 402.5L62 406L63.7 409.8L66 413.5L69 417.1L73 420.5L77.9 423.6L83.9 426.5L91 429.2L99.5 431.7L109.4 434.1L120.9 436.3L133.9 438.4M59.8 403.2L59.8 403.3L59.9 404.2L60.2 406.2L60.9 409.3L61.9 412.9L63.5 416.7L65.7 420.4L68.7 423.9L72.5 427.1L77.2 430.1L83 432.8L89.9 435.3L98.1 437.7L107.6 439.9L118.7 442L131.2 443.9M87 398.8L87 398.8L87.1 398.9L87.5 399L88.2 399.3L89.4 399.8L91.2 400.5L93.7 401.3L97 402.4L101.2 403.7L106.5 405.1L113 406.6L120.7 408.2L129.9 409.8L140.6 411.5L152.9 413.2L167 414.9M59.8 341.8L59.8 342.2L60 344.6L60.6 349.8L61.7 357L63.6 364.8L66.3 372.4L70.2 379.4L75.3 385.8L82 391.7L90.2 397.1L100.3 402L112.4 406.5L126.7 410.7L143.3 414.6L162.5 418.3L184.5 421.7M59.8 362.9L59.8 363.1L60 364.7L60.5 368.4L61.4 374.1L63 380.8L65.4 387.9L68.6 394.8L73 401.3L78.7 407.4L85.7 413L94.3 418.2L104.6 423L116.7 427.5L130.9 431.7L147.3 435.6L166 439.3M59.8 339L59.8 339.3L59.9 341.5L60.3 346.7L61.1 354.5L62.4 363.7L64.4 373.3L67.1 382.6L70.7 391.3L75.4 399.3L81.2 406.8L88.3 413.7L96.9 420.1L106.9 426.1L118.7 431.6L132.2 436.8L147.7 441.7M59.8 361L59.8 361.4L60 364.2L60.7 370.1L62.1 377.9L64.3 385.9L67.5 393.6L72.1 400.6L78.2 406.9L86.1 412.6L95.8 417.8L107.8 422.6L122.1 427L139 431.1L158.8 434.9L181.5 438.4L207.5 441.7M59.8 341.6L59.8 341.8L59.9 343.5L60.4 347.5L61.2 353.8L62.7 361.3L64.8 369.2L67.8 376.9L71.7 384.3L76.8 391.1L83.1 397.5L90.9 403.3L100.2 408.8L111.2 413.9L124 418.6L138.7 423.1L155.6 427.3M59.8 377.5L59.8 377.6L59.9 378.5L60.2 380.6L60.9 383.6L62 387L63.7 390.4L66 393.6L69.1 396.6L73.1 399.3L78.1 401.8L84.1 404.2L91.4 406.3L100 408.3L110 410.1L121.6 411.9L134.8 413.5M59.8 376.7L59.8 376.9L59.9 378L60.2 380.8L60.9 384.9L62 390L63.6 395.3L65.8 400.6L68.8 405.6L72.7 410.2L77.5 414.5L83.4 418.5L90.5 422.2L98.8 425.6L108.5 428.9L119.7 431.9L132.5 434.7M59.8 360.7L59.8 360.9L59.9 362.8L60.4 367.1L61.2 373.5L62.6 380.9L64.7 388.5L67.6 395.8L71.5 402.6L76.4 408.8L82.6 414.6L90.2 420L99.3 424.9L110 429.5L122.6 433.8L137 437.8L153.5 441.5M72.6 416.9L72.6 416.9L72.7 417L73 417.2L73.5 417.7L74.4 418.4L75.7 419.5L77.5 420.8L79.9 422.4L83 424.2L86.8 426.2L91.5 428.3L97.1 430.5L103.8 432.7L111.5 434.8L120.5 437L130.7 439.1M69.4 413.8L69.4 413.8L69.5 414L70 414.6L70.8 415.8L72.2 417.6L74.3 419.9L77.2 422.7L81 425.8L85.9 429.2L92.1 432.7L99.7 436.1L108.7 439.5L119.4 442.9L131.8 446.1L146.2 449.2L162.6 452.2M67.5 423.8L67.5 423.8L67.6 424L67.9 424.4L68.4 425.2L69.4 426.5L70.8 428.2L72.7 430.4L75.3 432.8L78.7 435.4L82.8 438.1L87.9 440.9L94.1 443.7L101.3 446.4L109.7 449.1L119.4 451.6L130.5 454.1M90.8 435.1L90.8 435.1L90.8 435.2L91 435.2L91.2 435.4L91.6 435.6L92.2 435.9L93.1 436.3L94.2 436.8L95.6 437.5L97.4 438.3L99.6 439.2L102.2 440.3L105.3 441.4L109 442.7L113.1 444.1L117.9 445.5M67.8 431.7L67.8 431.7L67.9 431.8L68 432L68.4 432.5L68.9 433.2L69.7 434.2L70.8 435.4L72.3 436.9L74.2 438.7L76.6 440.6L79.5 442.6L82.9 444.7L87 446.8L91.8 448.9L97.4 451L103.7 453.1M76.9 428.9L76.9 428.9L77 429L77.3 429.2L77.8 429.6L78.6 430.2L79.8 431.1L81.5 432.3L83.8 433.7L86.7 435.4L90.4 437.3L94.8 439.3L100.2 441.4L106.5 443.5L113.8 445.7L122.3 447.9L132 450.1M98.4 434.8L98.4 434.8L98.5 434.8L98.7 434.9L99.1 435L99.8 435.3L100.8 435.7L102.2 436.2L104.1 436.9L106.5 437.7L109.5 438.6L113.2 439.7L117.6 440.9L122.8 442.3L128.9 443.7L135.9 445.2L143.9 446.7M59.8 396.7L59.8 396.9L59.9 398.5L60.3 402.3L61 407.7L62.1 413.9L63.8 420.1L66.2 426.1L69.3 431.6L73.4 436.6L78.4 441.3L84.6 445.5L92 449.5L100.8 453.2L111 456.6L122.8 459.8L136.3 462.8M76.4 435.6L76.4 435.6L76.5 435.7L76.8 435.9L77.2 436.3L77.9 436.9L79 437.7L80.5 438.8L82.5 440.2L85.1 441.8L88.3 443.6L92.2 445.5L97 447.6L102.5 449.8L109 452L116.5 454.2L125.1 456.4M64 409.2L64.1 409.2L64.2 409.6L64.6 410.4L65.4 412L66.6 414.2L68.5 417L71.1 420.2L74.6 423.6L79 427L84.6 430.4L91.4 433.6L99.6 436.8L109.2 439.8L120.5 442.7L133.4 445.4L148.2 448M60.5 394.8L60.5 394.9L60.7 395.8L61.1 398.2L62 402.1L63.4 407.1L65.5 412.9L68.4 418.9L72.2 424.8L77.2 430.4L83.4 435.8L91 440.8L100 445.5L110.8 449.9L123.3 454L137.7 457.9L154.2 461.6M79.1 415.7L79.1 415.7L79.2 415.8L79.6 416.1L80.4 416.7L81.7 417.6L83.6 418.9L86.3 420.6L89.9 422.6L94.5 424.9L100.2 427.3L107.2 429.9L115.6 432.6L125.5 435.3L137.1 438L150.4 440.6L165.7 443.2M96.6 439.3L96.6 439.3L96.7 439.3L96.7 439.4L96.9 439.5L97.2 439.6L97.6 439.8L98.2 440L99 440.4L100.1 440.8L101.4 441.3L102.9 441.9L104.8 442.7L107.1 443.5L109.7 444.4L112.7 445.3L116.1 446.4M66.7 427.3L66.7 427.3L66.8 427.4L67 427.7L67.4 428.3L68 429.1L69.1 430.3L70.5 431.8L72.3 433.5L74.7 435.5L77.7 437.5L81.3 439.7L85.7 441.9L90.9 444L96.9 446.2L103.9 448.2L111.8 450.3M99.6 445.4L99.6 445.4L99.7 445.4L99.8 445.5L100 445.6L100.3 445.7L100.8 445.9L101.5 446.2L102.4 446.6L103.6 447.1L105.1 447.6L106.9 448.3L109.1 449.1L111.7 450L114.7 451L118.2 452L122.1 453.2M67.5 425.7L67.5 425.7L67.6 425.8L67.8 426L68.2 426.5L68.9 427.2L69.9 428.2L71.2 429.5L73.1 431.1L75.4 432.8L78.4 434.7L82 436.6L86.3 438.6L91.4 440.6L97.3 442.6L104.1 444.5L112 446.4M92.8 438.1L92.8 438.1L92.9 438.1L93 438.2L93.3 438.4L93.8 438.6L94.6 439L95.6 439.6L97 440.2L98.8 441.1L101.1 442.1L103.8 443.2L107.1 444.5L111 446L115.5 447.5L120.7 449.1L126.7 450.9M69.7 425.5L69.7 425.5L69.7 425.6L69.9 425.8L70.3 426.2L70.9 426.9L71.9 427.8L73.2 428.9L74.9 430.3L77.2 431.9L80 433.7L83.4 435.6L87.4 437.5L92.3 439.5L97.9 441.5L104.4 443.5L111.8 445.4M60.6 399.7L60.6 399.8L60.7 400.3L61 401.5L61.6 403.5L62.5 406.2L63.9 409.3L65.9 412.7L68.5 416L71.8 419.3L76 422.4L81.1 425.4L87.3 428.1L94.5 430.7L102.9 433.2L112.7 435.5L123.8 437.7M63.9 402.4L63.9 402.5L64 402.8L64.4 403.5L65.2 404.9L66.4 406.9L68.3 409.4L70.8 412.3L74.3 415.4L78.7 418.6L84.2 421.7L91 424.7L99.1 427.7L108.6 430.5L119.8 433.2L132.6 435.7L147.3 438.2M63.2 399.7L63.2 399.8L63.4 400.2L63.7 401.3L64.3 403.3L65.4 406.2L67 409.9L69.1 414.1L72.1 418.6L75.8 423.2L80.5 427.7L86.2 432.1L93 436.3L101.1 440.4L110.6 444.3L121.5 448L133.9 451.5M64.6 414.1L64.6 414.2L64.7 414.5L65 415.3L65.6 416.8L66.6 418.9L68.1 421.8L70.1 425L72.8 428.6L76.3 432.3L80.7 436L86 439.7L92.4 443.2L100 446.6L108.8 449.9L119 453L130.6 456M69.2 415.4L69.3 415.4L69.4 415.6L69.8 416.2L70.6 417.2L72 418.8L74 420.9L76.7 423.4L80.5 426.2L85.2 429.1L91.1 432.1L98.4 435.2L107.1 438.2L117.4 441.1L129.4 443.9L143.2 446.6L159 449.2M65.4 416L65.4 416.1L65.6 416.4L65.9 417.2L66.6 418.7L67.8 420.9L69.6 423.8L72 427.1L75.2 430.6L79.4 434.3L84.6 438L91 441.6L98.6 445.1L107.6 448.5L118.1 451.7L130.2 454.8L144.1 457.8M69.5 419L69.5 419L69.6 419.2L70 419.7L70.8 420.6L72.1 421.9L74 423.8L76.6 426L80.2 428.5L84.7 431.1L90.3 433.8L97.3 436.6L105.6 439.3L115.4 442L126.8 444.5L140 447L155 449.4M68 424.3L68 424.3L68.1 424.5L68.3 425L68.8 425.9L69.7 427.2L70.9 429.1L72.7 431.5L75 434.2L78 437.1L81.7 440.3L86.2 443.5L91.7 446.7L98.1 449.9L105.6 453.1L114.2 456.2L124.1 459.1M60.4 409L60.5 409L60.5 409.6L60.7 411L61.1 413.4L61.8 416.7L62.8 420.5L64.2 424.5L66.1 428.6L68.5 432.5L71.5 436.2L75.2 439.8L79.6 443.1L84.8 446.2L90.8 449.2L97.8 452L105.8 454.6M69.4 411.5L69.5 411.5L69.6 411.7L69.9 412.2L70.6 413.1L71.7 414.4L73.3 416.3L75.6 418.5L78.6 421.1L82.4 423.9L87.3 426.8L93.2 429.7L100.2 432.7L108.6 435.6L118.3 438.4L129.6 441.2L142.4 443.8M60.2 399.9L60.2 400L60.3 400.6L60.5 402L60.9 404.5L61.6 407.8L62.7 411.7L64.2 415.8L66.1 420L68.7 424L71.8 427.8L75.7 431.4L80.3 434.9L85.8 438.1L92.1 441.1L99.5 444L107.9 446.7M80.1 430.1L80.1 430.1L80.2 430.1L80.4 430.3L80.8 430.5L81.5 431L82.6 431.6L84 432.4L86 433.4L88.5 434.6L91.7 436L95.5 437.5L100.1 439.1L105.6 440.8L111.9 442.5L119.2 444.3L127.6 446.1M76 434L76 434.1L76.1 434.2L76.3 434.4L76.9 434.9L77.7 435.6L79 436.7L80.9 438L83.3 439.7L86.4 441.6L90.3 443.7L95 446L100.7 448.3L107.4 450.8L115.2 453.2L124.2 455.6L134.6 458M63.9 412.1L63.9 412.1L64 412.5L64.3 413.3L64.9 415L65.9 417.3L67.4 420.4L69.5 424L72.2 427.8L75.8 431.9L80.2 435.9L85.6 439.9L92.1 443.8L99.8 447.6L108.8 451.2L119.1 454.6L130.9 457.9M65.8 414.5L65.8 414.6L65.9 414.8L66.3 415.6L66.9 417L68 419.1L69.6 421.8L71.8 425.1L74.8 428.7L78.6 432.5L83.3 436.4L89.1 440.3L96.1 444.1L104.3 447.8L113.9 451.3L125 454.8L137.7 458M80.4 433.7L80.4 433.7L80.5 433.7L80.7 433.9L81.2 434.2L81.9 434.7L83 435.3L84.6 436.2L86.6 437.3L89.2 438.7L92.5 440.1L96.5 441.8L101.3 443.5L107 445.4L113.6 447.2L121.2 449.2L130 451.1M64.5 420L64.6 420L64.6 420.1L64.8 420.4L65.1 421L65.6 421.9L66.3 423.1L67.3 424.6L68.7 426.4L70.5 428.4L72.7 430.4L75.3 432.6L78.6 434.8L82.4 436.9L86.8 439L91.9 441.1L97.8 443.1M60.2 398.6L60.2 398.8L60.3 399.7L60.6 402L61.2 405.8L62.2 410.6L63.7 415.8L65.8 421.2L68.6 426.3L72.2 431.3L76.7 435.9L82.1 440.2L88.6 444.2L96.4 447.9L105.4 451.5L115.8 454.8L127.7 457.9M85.8 404.2L85.8 404.2L86 404.3L86.5 404.4L87.4 404.8L89 405.3L91.3 406L94.6 406.9L98.9 408.1L104.5 409.3L111.5 410.7L120 412.2L130.2 413.8L142.2 415.3L156.2 416.9L172.4 418.4L191 419.9M129.5 411.3L129.5 411.3L129.7 411.3L130.1 411.3L130.8 411.5L132.1 411.6L133.9 411.9L136.5 412.3L139.9 412.7L144.3 413.3L149.7 414L156.4 414.7L164.5 415.6L174 416.5L185 417.5L197.8 418.5L212.4 419.6M79.2 394.7L79.2 394.7L79.4 394.8L80 395L81 395.4L82.6 396.1L85.1 397L88.5 398.1L93.1 399.4L99 400.9L106.4 402.4L115.4 404L126.2 405.6L138.9 407.3L153.7 408.8L170.9 410.4L190.5 411.9M119.4 396.1L119.5 396.1L119.6 396.1L119.8 396.2L120.3 396.3L121.2 396.4L122.5 396.6L124.3 396.9L126.6 397.3L129.7 397.8L133.5 398.4L138.1 399.1L143.7 399.8L150.2 400.7L157.9 401.6L166.7 402.5L176.9 403.5M75.7 393.8L75.8 393.8L75.9 393.9L76.4 394L77.4 394.4L79 394.9L81.4 395.6L84.7 396.5L89.1 397.5L94.8 398.6L101.9 399.8L110.5 401L120.9 402.2L133.2 403.3L147.5 404.5L164 405.6L182.8 406.6M123.9 409.7L123.9 409.7L124.1 409.7L124.6 409.8L125.5 409.9L127 410.2L129.3 410.6L132.5 411.1L136.7 411.7L142.1 412.4L148.8 413.3L157.1 414.3L167 415.4L178.7 416.5L192.3 417.8L208 419L226 420.3M127.1 399.4L127.1 399.4L127.2 399.4L127.4 399.4L127.9 399.5L128.7 399.5L129.9 399.7L131.5 399.9L133.7 400.1L136.6 400.4L140.1 400.7L144.4 401.1L149.6 401.6L155.7 402.1L162.8 402.6L171 403.2L180.4 403.8M83.9 397.6L83.9 397.6L84 397.6L84.5 397.8L85.4 398.1L86.9 398.6L89.2 399.3L92.3 400.1L96.5 401.1L101.9 402.3L108.6 403.6L116.8 404.9L126.6 406.3L138.2 407.7L151.7 409L167.3 410.4L185.1 411.8M114.5 404.6L114.5 404.6L114.7 404.6L115.2 404.7L116.2 404.9L117.8 405.2L120.2 405.6L123.5 406.2L127.9 406.9L133.6 407.8L140.7 408.8L149.4 409.9L159.8 411.1L172 412.4L186.4 413.7L202.9 415L221.8 416.4M116.9 398.3L116.9 398.3L117 398.3L117.3 398.3L117.8 398.4L118.8 398.5L120.2 398.7L122.1 399L124.7 399.3L128.1 399.7L132.3 400.2L137.3 400.7L143.5 401.3L150.7 402L159.1 402.7L168.8 403.4L179.9 404.2M117.2 407.2L117.2 407.2L117.3 407.2L117.6 407.2L118.1 407.3L119 407.4L120.2 407.6L122 407.8L124.4 408.2L127.4 408.6L131.2 409L135.9 409.6L141.4 410.2L148 410.8L155.7 411.6L164.5 412.3L174.6 413.1M118.4 395.1L118.4 395.1L118.6 395.1L119.1 395.2L120 395.3L121.6 395.5L124 395.8L127.4 396.2L131.8 396.7L137.5 397.2L144.6 397.9L153.2 398.6L163.6 399.4L175.9 400.3L190.3 401.2L206.8 402.1L225.7 403M133.2 408.4L133.2 408.4L133.2 408.4L133.5 408.4L133.9 408.4L134.5 408.5L135.6 408.6L137 408.8L138.8 409L141.3 409.3L144.3 409.6L147.9 409.9L152.3 410.3L157.6 410.8L163.6 411.3L170.6 411.9L178.6 412.5M131.9 399.6L131.9 399.6L132 399.7L132.4 399.7L133.2 399.8L134.4 399.9L136.2 400.1L138.8 400.4L142.2 400.8L146.6 401.2L152.1 401.7L158.8 402.3L166.8 403L176.3 403.7L187.4 404.5L200.1 405.3L214.7 406.1M95.1 396.4L95.1 396.4L95.3 396.4L95.8 396.6L96.8 396.8L98.4 397.1L100.8 397.7L104.1 398.3L108.5 399.1L114.2 400.1L121.3 401.2L130 402.3L140.4 403.5L152.7 404.8L167 406L183.6 407.3L202.5 408.5M98.1 405.6L98.1 405.6L98.3 405.7L98.8 405.8L99.7 406L101.1 406.3L103.3 406.7L106.4 407.4L110.4 408.1L115.7 409L122.2 410L130.2 411.1L139.7 412.2L151 413.4L164.2 414.7L179.4 415.9L196.8 417.2M78.2 409.4L78.3 409.4L78.5 409.5L79.1 409.8L80.4 410.4L82.5 411.3L85.6 412.4L90 413.8L95.8 415.5L103.3 417.2L112.6 419L124 420.9L137.6 422.7L153.7 424.5L172.5 426.2L194.2 427.9L219 429.5M129.8 395.6L129.8 395.6L129.9 395.6L130.1 395.7L130.6 395.7L131.4 395.8L132.6 395.9L134.2 396.1L136.4 396.3L139.3 396.6L142.8 396.9L147.1 397.3L152.3 397.7L158.4 398.2L165.5 398.7L173.7 399.3L183.1 399.9M106.7 414.9L106.7 414.9L106.9 415L107.4 415L108.3 415.2L109.9 415.5L112.2 415.8L115.5 416.3L119.8 416.9L125.4 417.6L132.3 418.5L140.8 419.4L151 420.3L163 421.3L177.1 422.4L193.3 423.4L211.7 424.5M117.1 415.5L117.1 415.5L117.2 415.5L117.6 415.6L118.4 415.8L119.7 416L121.7 416.4L124.5 416.9L128.1 417.6L132.8 418.4L138.6 419.3L145.8 420.3L154.4 421.4L164.5 422.6L176.3 423.9L189.9 425.2L205.5 426.6M99.4 407.7L99.4 407.7L99.6 407.8L100.2 407.9L101.4 408.1L103.2 408.3L106 408.8L109.9 409.3L115.1 409.9L121.8 410.7L130.1 411.5L140.2 412.4L152.4 413.4L166.8 414.4L183.6 415.3L202.9 416.3L225 417.3M129.6 408.1L129.6 408.1L129.8 408.2L130.2 408.2L131 408.4L132.4 408.5L134.5 408.8L137.4 409.2L141.3 409.7L146.2 410.3L152.4 411L159.9 411.9L169 412.8L179.7 413.7L192.2 414.7L206.6 415.8L223.1 416.9M85.4 398.3L85.4 398.3L85.6 398.3L86 398.5L86.9 398.8L88.4 399.2L90.6 399.9L93.6 400.7L97.6 401.7L102.8 402.8L109.3 404L117.2 405.4L126.7 406.7L137.9 408.1L150.9 409.5L166 410.9L183.2 412.2M70.2 387.5L70.2 387.6L70.4 387.7L70.9 388.1L71.9 388.8L73.5 389.8L75.9 391.2L79.3 392.8L83.8 394.7L89.5 396.6L96.7 398.5L105.5 400.5L116.1 402.4L128.5 404.3L143.1 406.1L159.8 407.8L179 409.4M72.2 400L72.2 400L72.4 400.2L73 400.6L74.1 401.3L76 402.5L78.7 403.9L82.6 405.7L87.7 407.7L94.3 409.8L102.5 412L112.6 414.1L124.6 416.2L138.8 418.3L155.4 420.3L174.5 422.2L196.4 424M134 399.4L134 399.4L134.1 399.4L134.3 399.4L134.6 399.4L135.2 399.5L136 399.6L137.1 399.7L138.7 399.8L140.6 400L143 400.2L146 400.5L149.6 400.8L153.8 401.2L158.8 401.6L164.4 402L170.9 402.5M96 408.2L96 408.2L96.2 408.2L96.6 408.3L97.4 408.5L98.8 408.7L100.8 409L103.7 409.5L107.5 410.1L112.3 410.7L118.4 411.5L125.8 412.3L134.7 413.2L145.3 414.1L157.5 415L171.7 415.9L187.9 416.9M100.4 413.8L100.4 413.8L100.6 413.9L101.2 414L102.3 414.3L104.2 414.8L107 415.4L110.8 416.3L115.9 417.3L122.5 418.5L130.8 419.9L140.8 421.3L152.9 422.9L167.1 424.5L183.7 426.1L202.9 427.7L224.8 429.2M73.5 391.9L73.6 391.9L73.8 392.1L74.5 392.4L75.9 393.1L78.1 394.2L81.5 395.6L86.1 397.2L92.3 398.9L100.3 400.8L110.3 402.7L122.4 404.5L137 406.3L154.2 408.1L174.3 409.8L197.5 411.4L224 412.9M118.9 411.3L119 411.3L119.1 411.3L119.6 411.4L120.5 411.5L121.9 411.7L124.1 412L127.1 412.3L131.2 412.8L136.4 413.3L142.8 414L150.7 414.7L160.2 415.5L171.4 416.3L184.5 417.2L199.6 418.1L216.8 419M59.8 324.3L59.8 324.5L59.8 325.7L60.1 328.8L60.5 333.8L61.3 340.4L62.4 348L64 355.8L66.1 363.5L68.8 370.9L72.2 377.9L76.3 384.4L81.3 390.6L87.1 396.4L93.9 401.8L101.8 406.9L110.8 411.8M59.8 332.2L59.8 332.5L60 334.4L60.5 338.8L61.4 345.4L63 353L65.4 360.7L68.7 368.2L73 375.1L78.7 381.5L85.7 387.4L94.3 392.9L104.6 397.9L116.8 402.6L131 407L147.3 411.1L166.1 414.9M60.8 339.4L60.8 339.5L61 340.4L61.3 342.7L62 346.6L63.1 351.7L64.7 357.6L67 363.9L70 370.1L73.9 376.1L78.7 381.8L84.6 387.1L91.8 392.2L100.2 396.9L109.9 401.4L121.2 405.6L134.2 409.6M59.8 335.7L59.8 336L60 338L60.6 342.6L61.7 349.2L63.6 356.6L66.5 364L70.4 370.9L75.7 377.3L82.5 383.2L90.9 388.6L101.2 393.5L113.6 398.1L128.2 402.4L145.2 406.3L164.9 410L187.3 413.5M74.6 358.1L74.6 358.1L74.7 358.1L74.8 358.3L75.1 358.5L75.5 358.8L76.1 359.4L76.9 360.1L78.1 361L79.6 362L81.4 363.3L83.6 364.6L86.3 366.1L89.5 367.7L93.1 369.4L97.4 371.2L102.3 372.9M59.8 434.9L59.8 435L59.9 435.7L60.2 437.4L60.7 440.1L61.6 443.5L63 447.3L64.9 451.1L67.5 454.9L70.7 458.4L74.8 461.7L79.8 464.8L85.8 467.7L92.8 470.4L101.1 473L110.6 475.4L121.4 477.6M61.9 425.3L61.9 425.3L61.9 425.4L62 425.7L62.2 426.3L62.5 427.2L63 428.4L63.7 429.9L64.5 431.6L65.7 433.5L67.1 435.6L68.8 437.7L70.8 439.8L73.3 441.9L76.1 444L79.4 446L83.1 448M59.8 396.6L59.8 396.9L60 398.7L60.4 403L61.4 409.4L62.9 416.8L65.2 424.4L68.5 431.7L72.8 438.5L78.3 444.8L85.2 450.6L93.6 456L103.7 460.9L115.6 465.5L129.5 469.8L145.6 473.8L163.9 477.6M66.1 433.8L66.1 433.8L66.3 434.1L66.6 434.8L67.2 436L68.1 437.9L69.6 440.4L71.6 443.4L74.4 446.8L77.9 450.4L82.2 454.1L87.5 457.8L93.9 461.4L101.5 465L110.3 468.4L120.4 471.7L132 474.9M81 445.5L81 445.5L81.2 445.6L81.5 446L82.2 446.6L83.3 447.6L85 448.9L87.4 450.7L90.6 452.9L94.6 455.4L99.7 458.1L105.9 461L113.3 464.1L122.1 467.2L132.3 470.4L144.1 473.5L157.5 476.6M112.9 452.6L112.9 452.6L113.2 452.7L113.8 452.9L115 453.3L117 454L120 455L124.1 456.3L129.6 457.9L136.7 459.8L145.6 461.9L156.4 464.2L169.4 466.7L184.7 469.3L202.6 471.9L223.3 474.5L246.8 477.2M123.5 445.3L123.6 445.3L123.8 445.4L124.3 445.5L125.5 445.7L127.3 446L130 446.6L133.9 447.3L138.9 448.1L145.5 449.2L153.6 450.4L163.6 451.7L175.6 453.1L189.7 454.6L206.1 456.2L225.1 457.8L246.8 459.4M102.3 450L102.3 450L102.5 450.1L103 450.3L104 450.6L105.7 451.1L108.2 451.8L111.7 452.7L116.4 453.8L122.3 455.2L129.8 456.7L138.9 458.3L149.8 460L162.7 461.9L177.8 463.7L195.1 465.6L214.9 467.4M123.5 459.7L123.6 459.7L123.7 459.8L124.1 459.9L125 460.1L126.4 460.4L128.5 460.9L131.4 461.5L135.2 462.3L140.2 463.3L146.4 464.5L153.9 465.8L163 467.2L173.7 468.7L186.2 470.4L200.6 472.1L217.1 473.8M59.8 417.5L59.8 417.7L59.9 418.8L60.3 421.5L60.9 425.6L62.1 430.8L63.8 436.2L66.2 441.7L69.3 446.9L73.4 451.7L78.4 456.2L84.6 460.4L92 464.4L100.8 468L111 471.4L122.8 474.6L136.3 477.6M187.3 415.3L187.3 415.3L187.4 415.3L187.6 415.3L188.1 415.3L188.8 415.3L189.9 415.4L191.4 415.4L193.4 415.5L196 415.6L199.2 415.8L203.2 415.9L207.9 416.1L213.5 416.4L220.1 416.6L227.6 416.9L236.2 417.2M155.4 408.8L155.4 408.8L155.6 408.8L156 408.9L156.8 408.9L158.2 409L160.2 409.2L163.1 409.4L166.8 409.7L171.7 410L177.7 410.4L185.1 410.9L194 411.4L204.5 412L216.7 412.6L230.7 413.3L246.8 414"/>
<g fill="none" stroke="#000" stroke-width="1.4"><circle cx="59.8" cy="326.1" r="1.75"/><circle cx="59.9" cy="343.5" r="1.75"/><circle cx="60" cy="343.5" r="1.75"/><circle cx="62" cy="343.5" r="1.75"/><circle cx="73.6" cy="343.5" r="1.75"/><circle cx="59.6" cy="360.9" r="1.75"/><circle cx="61.1" cy="360.9" r="1.75"/><circle cx="63.1" cy="360.9" r="1.75"/><circle cx="65.2" cy="360.9" r="1.75"/><circle cx="67.8" cy="360.9" r="1.75"/><circle cx="69.8" cy="360.9" r="1.75"/><circle cx="73.2" cy="360.9" r="1.75"/><circle cx="75.8" cy="360.9" r="1.75"/><circle cx="78.2" cy="360.9" r="1.75"/><circle cx="90.6" cy="360.9" r="1.75"/><circle cx="58.9" cy="378.3" r="1.75"/><circle cx="60" cy="378.3" r="1.75"/><circle cx="62.2" cy="378.3" r="1.75"/><circle cx="62.6" cy="378.3" r="1.75"/><circle cx="64.7" cy="378.3" r="1.75"/><circle cx="65.8" cy="378.3" r="1.75"/><circle cx="66.7" cy="378.3" r="1.75"/><circle cx="68.9" cy="378.3" r="1.75"/><circle cx="69.5" cy="378.3" r="1.75"/><circle cx="71.5" cy="378.3" r="1.75"/><circle cx="72.3" cy="378.3" r="1.75"/><circle cx="73.7" cy="378.3" r="1.75"/><circle cx="75.6" cy="378.3" r="1.75"/><circle cx="77.7" cy="378.3" r="1.75"/><circle cx="77.9" cy="378.3" r="1.75"/><circle cx="79.5" cy="378.3" r="1.75"/><circle cx="81.5" cy="378.3" r="1.75"/><circle cx="83.4" cy="378.3" r="1.75"/><circle cx="84.2" cy="378.3" r="1.75"/><circle cx="85.3" cy="378.3" r="1.75"/><circle cx="87.6" cy="378.3" r="1.75"/><circle cx="87.5" cy="378.3" r="1.75"/><circle cx="90.2" cy="378.3" r="1.75"/><circle cx="90.6" cy="378.3" r="1.75"/><circle cx="91.8" cy="378.3" r="1.75"/><circle cx="93.1" cy="378.3" r="1.75"/><circle cx="101.2" cy="378.3" r="1.75"/><circle cx="118.8" cy="378.3" r="1.75"/><circle cx="59" cy="395.8" r="1.75"/><circle cx="60.3" cy="395.8" r="1.75"/><circle cx="60.5" cy="395.8" r="1.75"/><circle cx="61.7" cy="395.8" r="1.75"/><circle cx="62.6" cy="395.8" r="1.75"/><circle cx="63.2" cy="395.8" r="1.75"/><circle cx="64.2" cy="395.8" r="1.75"/><circle cx="64.5" cy="395.8" r="1.75"/><circle cx="65.3" cy="395.8" r="1.75"/><circle cx="66.3" cy="395.8" r="1.75"/><circle cx="67.6" cy="395.8" r="1.75"/><circle cx="68.2" cy="395.8" r="1.75"/><circle cx="68.9" cy="395.8" r="1.75"/><circle cx="70" cy="395.8" r="1.75"/><circle cx="70.7" cy="395.8" r="1.75"/><circle cx="71.4" cy="395.8" r="1.75"/><circle cx="72.7" cy="395.8" r="1.75"/><circle cx="73.4" cy="395.8" r="1.75"/><circle cx="73.8" cy="395.8" r="1.75"/><circle cx="75" cy="395.8" r="1.75"/><circle cx="75.7" cy="395.8" r="1.75"/><circle cx="76.9" cy="395.8" r="1.75"/><circle cx="77.6" cy="395.8" r="1.75"/><circle cx="78" cy="395.8" r="1.75"/><circle cx="79.5" cy="395.8" r="1.75"/><circle cx="79.5" cy="395.8" r="1.75"/><circle cx="80.6" cy="395.8" r="1.75"/><circle cx="81.8" cy="395.8" r="1.75"/><circle cx="82" cy="395.8" r="1.75"/><circle cx="83.2" cy="395.8" r="1.75"/><circle cx="83.5" cy="395.8" r="1.75"/><circle cx="85" cy="395.8" r="1.75"/><circle cx="85.9" cy="395.8" r="1.75"/><circle cx="86.6" cy="395.8" r="1.75"/><circle cx="87.7" cy="395.8" r="1.75"/><circle cx="88" cy="395.8" r="1.75"/><circle cx="92.7" cy="395.8" r="1.75"/><circle cx="94.7" cy="395.8" r="1.75"/><circle cx="96.7" cy="395.8" r="1.75"/><circle cx="98.9" cy="395.8" r="1.75"/><circle cx="103.3" cy="395.8" r="1.75"/><circle cx="105.2" cy="395.8" r="1.75"/><circle cx="107.2" cy="395.8" r="1.75"/><circle cx="116.2" cy="395.8" r="1.75"/><circle cx="117.7" cy="395.8" r="1.75"/><circle cx="119.2" cy="395.8" r="1.75"/><circle cx="120.7" cy="395.8" r="1.75"/><circle cx="124.2" cy="395.8" r="1.75"/><circle cx="132.3" cy="395.8" r="1.75"/><circle cx="134.2" cy="395.8" r="1.75"/><circle cx="138.2" cy="395.8" r="1.75"/><circle cx="142.2" cy="395.8" r="1.75"/><circle cx="144" cy="395.8" r="1.75"/><circle cx="145.8" cy="395.8" r="1.75"/><circle cx="155.2" cy="395.8" r="1.75"/><circle cx="161.2" cy="395.8" r="1.75"/><circle cx="163.2" cy="395.8" r="1.75"/><circle cx="165.2" cy="395.8" r="1.75"/><circle cx="175.6" cy="395.8" r="1.75"/><circle cx="186.2" cy="395.8" r="1.75"/><circle cx="209.8" cy="395.8" r="1.75"/><circle cx="59.8" cy="413.2" r="1.75"/><circle cx="62.5" cy="413.2" r="1.75"/><circle cx="66.6" cy="413.2" r="1.75"/><circle cx="71.2" cy="413.2" r="1.75"/><circle cx="75.4" cy="413.2" r="1.75"/><circle cx="76.4" cy="413.2" r="1.75"/><circle cx="77.5" cy="413.2" r="1.75"/><circle cx="78.4" cy="413.2" r="1.75"/><circle cx="80" cy="413.2" r="1.75"/><circle cx="81.3" cy="413.2" r="1.75"/><circle cx="81.7" cy="413.2" r="1.75"/><circle cx="83.1" cy="413.2" r="1.75"/><circle cx="83.4" cy="413.2" r="1.75"/><circle cx="85.4" cy="413.2" r="1.75"/><circle cx="86.4" cy="413.2" r="1.75"/><circle cx="88" cy="413.2" r="1.75"/><circle cx="88.8" cy="413.2" r="1.75"/><circle cx="89.2" cy="413.2" r="1.75"/><circle cx="90.5" cy="413.2" r="1.75"/><circle cx="92" cy="413.2" r="1.75"/><circle cx="92.2" cy="413.2" r="1.75"/><circle cx="93.9" cy="413.2" r="1.75"/><circle cx="94.6" cy="413.2" r="1.75"/><circle cx="95.6" cy="413.2" r="1.75"/><circle cx="97.6" cy="413.2" r="1.75"/><circle cx="99.5" cy="413.2" r="1.75"/><circle cx="99.7" cy="413.2" r="1.75"/><circle cx="100.8" cy="413.2" r="1.75"/><circle cx="102" cy="413.2" r="1.75"/><circle cx="103.6" cy="413.2" r="1.75"/><circle cx="103.6" cy="413.2" r="1.75"/><circle cx="105.1" cy="413.2" r="1.75"/><circle cx="106.2" cy="413.2" r="1.75"/><circle cx="107.6" cy="413.2" r="1.75"/><circle cx="108.5" cy="413.2" r="1.75"/><circle cx="109.6" cy="413.2" r="1.75"/><circle cx="109.9" cy="413.2" r="1.75"/><circle cx="111" cy="413.2" r="1.75"/><circle cx="112" cy="413.2" r="1.75"/><circle cx="113.6" cy="413.2" r="1.75"/><circle cx="114.7" cy="413.2" r="1.75"/><circle cx="114.7" cy="413.2" r="1.75"/><circle cx="115.8" cy="413.2" r="1.75"/><circle cx="116.8" cy="413.2" r="1.75"/><circle cx="117.8" cy="413.2" r="1.75"/><circle cx="119.1" cy="413.2" r="1.75"/><circle cx="120.3" cy="413.2" r="1.75"/><circle cx="120.9" cy="413.2" r="1.75"/><circle cx="121.6" cy="413.2" r="1.75"/><circle cx="123.1" cy="413.2" r="1.75"/><circle cx="124" cy="413.2" r="1.75"/><circle cx="125.2" cy="413.2" r="1.75"/><circle cx="126.7" cy="413.2" r="1.75"/><circle cx="127.4" cy="413.2" r="1.75"/><circle cx="130.2" cy="413.2" r="1.75"/><circle cx="132.2" cy="413.2" r="1.75"/><circle cx="134.1" cy="413.2" r="1.75"/><circle cx="134.6" cy="413.2" r="1.75"/><circle cx="138.2" cy="413.2" r="1.75"/><circle cx="139.8" cy="413.2" r="1.75"/><circle cx="147.2" cy="413.2" r="1.75"/><circle cx="155.2" cy="413.2" r="1.75"/><circle cx="161.9" cy="413.2" r="1.75"/><circle cx="163.4" cy="413.2" r="1.75"/><circle cx="164.2" cy="413.2" r="1.75"/><circle cx="165.9" cy="413.2" r="1.75"/><circle cx="166.9" cy="413.2" r="1.75"/><circle cx="169.6" cy="413.2" r="1.75"/><circle cx="170.1" cy="413.2" r="1.75"/><circle cx="171.8" cy="413.2" r="1.75"/><circle cx="173.7" cy="413.2" r="1.75"/><circle cx="175.2" cy="413.2" r="1.75"/><circle cx="177.2" cy="413.2" r="1.75"/><circle cx="178.3" cy="413.2" r="1.75"/><circle cx="184.2" cy="413.2" r="1.75"/><circle cx="187.2" cy="413.2" r="1.75"/><circle cx="190.2" cy="413.2" r="1.75"/><circle cx="194.2" cy="413.2" r="1.75"/><circle cx="197.2" cy="413.2" r="1.75"/><circle cx="199.2" cy="413.2" r="1.75"/><circle cx="218.8" cy="413.2" r="1.75"/><circle cx="231.2" cy="413.2" r="1.75"/><circle cx="244.2" cy="413.2" r="1.75"/><circle cx="248.2" cy="413.2" r="1.75"/><circle cx="59.5" cy="430.6" r="1.75"/><circle cx="63.8" cy="430.6" r="1.75"/><circle cx="81.2" cy="430.6" r="1.75"/><circle cx="83.1" cy="430.6" r="1.75"/><circle cx="84.6" cy="430.6" r="1.75"/><circle cx="86.6" cy="430.6" r="1.75"/><circle cx="87.6" cy="430.6" r="1.75"/><circle cx="90.8" cy="430.6" r="1.75"/><circle cx="91.9" cy="430.6" r="1.75"/><circle cx="92.6" cy="430.6" r="1.75"/><circle cx="94.3" cy="430.6" r="1.75"/><circle cx="96.1" cy="430.6" r="1.75"/><circle cx="97.7" cy="430.6" r="1.75"/><circle cx="98.8" cy="430.6" r="1.75"/><circle cx="101.8" cy="430.6" r="1.75"/><circle cx="103.6" cy="430.6" r="1.75"/><circle cx="104.2" cy="430.6" r="1.75"/><circle cx="105.8" cy="430.6" r="1.75"/><circle cx="106.7" cy="430.6" r="1.75"/><circle cx="108.3" cy="430.6" r="1.75"/><circle cx="110.3" cy="430.6" r="1.75"/><circle cx="111.8" cy="430.6" r="1.75"/><circle cx="114.4" cy="430.6" r="1.75"/><circle cx="114.7" cy="430.6" r="1.75"/><circle cx="116" cy="430.6" r="1.75"/><circle cx="119.4" cy="430.6" r="1.75"/><circle cx="120.2" cy="430.6" r="1.75"/><circle cx="121" cy="430.6" r="1.75"/><circle cx="123.3" cy="430.6" r="1.75"/><circle cx="124" cy="430.6" r="1.75"/><circle cx="126.5" cy="430.6" r="1.75"/><circle cx="128.9" cy="430.6" r="1.75"/><circle cx="130.3" cy="430.6" r="1.75"/><circle cx="131.5" cy="430.6" r="1.75"/><circle cx="132.3" cy="430.6" r="1.75"/><circle cx="134.1" cy="430.6" r="1.75"/><circle cx="135.3" cy="430.6" r="1.75"/><circle cx="138" cy="430.6" r="1.75"/><circle cx="139.1" cy="430.6" r="1.75"/><circle cx="141.2" cy="430.6" r="1.75"/><circle cx="141.9" cy="430.6" r="1.75"/><circle cx="143.3" cy="430.6" r="1.75"/><circle cx="146" cy="430.6" r="1.75"/><circle cx="147.9" cy="430.6" r="1.75"/><circle cx="149.2" cy="430.6" r="1.75"/><circle cx="150.7" cy="430.6" r="1.75"/><circle cx="152.6" cy="430.6" r="1.75"/><circle cx="154.7" cy="430.6" r="1.75"/><circle cx="155.6" cy="430.6" r="1.75"/><circle cx="158.8" cy="430.6" r="1.75"/><circle cx="160.7" cy="430.6" r="1.75"/><circle cx="162.2" cy="430.6" r="1.75"/><circle cx="164.6" cy="430.6" r="1.75"/><circle cx="167.6" cy="430.6" r="1.75"/><circle cx="170" cy="430.6" r="1.75"/><circle cx="173.6" cy="430.6" r="1.75"/><circle cx="176.7" cy="430.6" r="1.75"/><circle cx="177.6" cy="430.6" r="1.75"/><circle cx="181.4" cy="430.6" r="1.75"/><circle cx="181.8" cy="430.6" r="1.75"/><circle cx="183" cy="430.6" r="1.75"/><circle cx="183.3" cy="430.6" r="1.75"/><circle cx="184.3" cy="430.6" r="1.75"/><circle cx="185.4" cy="430.6" r="1.75"/><circle cx="186.6" cy="430.6" r="1.75"/><circle cx="187.7" cy="430.6" r="1.75"/><circle cx="189.5" cy="430.6" r="1.75"/><circle cx="191" cy="430.6" r="1.75"/><circle cx="192.1" cy="430.6" r="1.75"/><circle cx="192.8" cy="430.6" r="1.75"/><circle cx="194.2" cy="430.6" r="1.75"/><circle cx="195.6" cy="430.6" r="1.75"/><circle cx="201.2" cy="430.6" r="1.75"/><circle cx="205.2" cy="430.6" r="1.75"/><circle cx="208.2" cy="430.6" r="1.75"/><circle cx="214.6" cy="430.6" r="1.75"/><circle cx="218.8" cy="430.6" r="1.75"/><circle cx="59.8" cy="448" r="1.75"/><circle cx="78.2" cy="448" r="1.75"/><circle cx="79.8" cy="448" r="1.75"/><circle cx="91.6" cy="448" r="1.75"/><circle cx="95.2" cy="448" r="1.75"/><circle cx="102.6" cy="448" r="1.75"/><circle cx="104.4" cy="448" r="1.75"/><circle cx="106.3" cy="448" r="1.75"/><circle cx="108.2" cy="448" r="1.75"/><circle cx="113.2" cy="448" r="1.75"/><circle cx="115.2" cy="448" r="1.75"/><circle cx="117.2" cy="448" r="1.75"/><circle cx="119.2" cy="448" r="1.75"/><circle cx="123.2" cy="448" r="1.75"/><circle cx="125.2" cy="448" r="1.75"/><circle cx="127.2" cy="448" r="1.75"/><circle cx="129.2" cy="448" r="1.75"/><circle cx="131.2" cy="448" r="1.75"/><circle cx="133.2" cy="448" r="1.75"/><circle cx="137.6" cy="448" r="1.75"/><circle cx="139.5" cy="448" r="1.75"/><circle cx="141.1" cy="448" r="1.75"/><circle cx="142" cy="448" r="1.75"/><circle cx="143.2" cy="448" r="1.75"/><circle cx="144" cy="448" r="1.75"/><circle cx="144.7" cy="448" r="1.75"/><circle cx="146.7" cy="448" r="1.75"/><circle cx="147.2" cy="448" r="1.75"/><circle cx="149.1" cy="448" r="1.75"/><circle cx="150.5" cy="448" r="1.75"/><circle cx="150.8" cy="448" r="1.75"/><circle cx="152" cy="448" r="1.75"/><circle cx="153.9" cy="448" r="1.75"/><circle cx="154.8" cy="448" r="1.75"/><circle cx="155.2" cy="448" r="1.75"/><circle cx="156.3" cy="448" r="1.75"/><circle cx="157.5" cy="448" r="1.75"/><circle cx="159.7" cy="448" r="1.75"/><circle cx="160.7" cy="448" r="1.75"/><circle cx="161" cy="448" r="1.75"/><circle cx="163.1" cy="448" r="1.75"/><circle cx="164.5" cy="448" r="1.75"/><circle cx="165.2" cy="448" r="1.75"/><circle cx="165.9" cy="448" r="1.75"/><circle cx="171.2" cy="448" r="1.75"/><circle cx="175.2" cy="448" r="1.75"/><circle cx="175.9" cy="448" r="1.75"/><circle cx="177.1" cy="448" r="1.75"/><circle cx="180.1" cy="448" r="1.75"/><circle cx="180.9" cy="448" r="1.75"/><circle cx="182.1" cy="448" r="1.75"/><circle cx="184.2" cy="448" r="1.75"/><circle cx="184.7" cy="448" r="1.75"/><circle cx="186.8" cy="448" r="1.75"/><circle cx="188.2" cy="448" r="1.75"/><circle cx="188.5" cy="448" r="1.75"/><circle cx="190" cy="448" r="1.75"/><circle cx="191.4" cy="448" r="1.75"/><circle cx="192.7" cy="448" r="1.75"/><circle cx="197.2" cy="448" r="1.75"/><circle cx="199.8" cy="448" r="1.75"/><circle cx="206.2" cy="448" r="1.75"/><circle cx="208.2" cy="448" r="1.75"/><circle cx="210.2" cy="448" r="1.75"/><circle cx="212.2" cy="448" r="1.75"/><circle cx="214.2" cy="448" r="1.75"/><circle cx="216.2" cy="448" r="1.75"/><circle cx="221.6" cy="448" r="1.75"/><circle cx="229.6" cy="448" r="1.75"/><circle cx="93.2" cy="465.4" r="1.75"/><circle cx="98.2" cy="465.4" r="1.75"/><circle cx="104.6" cy="465.4" r="1.75"/><circle cx="107.2" cy="465.4" r="1.75"/><circle cx="110.2" cy="465.4" r="1.75"/><circle cx="113.2" cy="465.4" r="1.75"/><circle cx="123.2" cy="465.4" r="1.75"/><circle cx="124.7" cy="465.4" r="1.75"/><circle cx="126.2" cy="465.4" r="1.75"/><circle cx="127.7" cy="465.4" r="1.75"/><circle cx="129.2" cy="465.4" r="1.75"/><circle cx="130.7" cy="465.4" r="1.75"/><circle cx="132.2" cy="465.4" r="1.75"/><circle cx="139.2" cy="465.4" r="1.75"/><circle cx="142.6" cy="465.4" r="1.75"/><circle cx="145.8" cy="465.4" r="1.75"/><circle cx="149.2" cy="465.4" r="1.75"/><circle cx="159.2" cy="465.4" r="1.75"/><circle cx="165.2" cy="465.4" r="1.75"/><circle cx="170.2" cy="465.4" r="1.75"/><circle cx="171.8" cy="465.4" r="1.75"/><circle cx="189.2" cy="465.4" r="1.75"/><circle cx="190.6" cy="465.4" r="1.75"/><circle cx="207.2" cy="465.4" r="1.75"/><circle cx="212.2" cy="465.4" r="1.75"/><circle cx="213.7" cy="465.4" r="1.75"/><circle cx="215.2" cy="465.4" r="1.75"/><circle cx="227.6" cy="465.4" r="1.75"/><circle cx="246.6" cy="465.4" r="1.75"/><circle cx="118.8" cy="482.9" r="1.75"/><circle cx="129.2" cy="482.9" r="1.75"/><circle cx="130.8" cy="482.9" r="1.75"/><circle cx="142.2" cy="482.9" r="1.75"/><circle cx="211.8" cy="482.9" r="1.75"/></g>
<path fill="none" stroke="#000" stroke-width="1.5" d="M52.1 319.9H257.8V488.9H52.1ZM59.8 488.9v6.4M123.5 488.9v6.4M187.3 488.9v6.4M251.1 488.9v6.4M52.1 482.9h-6.4M52.1 448h-6.4M52.1 413.2h-6.4M52.1 378.3h-6.4M52.1 343.5h-6.4"/>
<text class="t" x="59.8" y="512.4" text-anchor="middle">0</text>
<text class="t" x="123.5" y="512.4" text-anchor="middle">3</text>
<text class="t" x="187.3" y="512.4" text-anchor="middle">6</text>
<text class="t" x="251.1" y="512.4" text-anchor="middle">9</text>
<text class="t" x="40.2" y="488.5" text-anchor="end">1</text>
<text class="t" x="40.2" y="453.6" text-anchor="end">4</text>
<text class="t" x="40.2" y="418.8" text-anchor="end">16</text>
<text class="t" x="40.2" y="383.9" text-anchor="end">64</text>
<text class="t" x="40.2" y="349.1" text-anchor="end">256</text>
<text class="b" x="155.4" y="527" text-anchor="middle">Time (months)</text>
<text class="b" transform="translate(20.4 403.4) rotate(-90)" text-anchor="middle">1/titer</text>
<text class="l" x="51.9" y="299.8">C</text>
</g>
<g>
<clipPath id="cD"><rect x="335.7" y="319.9" width="205.7" height="169"/></clipPath>
<path clip-path="url(#cD)" fill="none" stroke="#c8c8c8" stroke-width="1.05" d="M343.3 401.8L343.3 402.8L343.4 408L343.7 416.4L344.1 424.9L344.9 432.5L346.1 439.1L347.8 444.8L350 449.9L352.9 454.4L356.5 458.5L360.8 462.2L366 465.5L372.2 468.7L379.4 471.5L387.7 474.2L397.2 476.8M343.3 435L343.3 436.2L343.6 441.2L344.2 447L345.5 452.1L347.6 456.2L350.7 459.7L355 462.7L360.7 465.3L368.1 467.7L377.3 469.7L388.6 471.6L402.1 473.3L418.1 474.9L436.7 476.4L458.2 477.7L482.7 479M343.3 338.9L343.3 343.2L343.6 360L344.3 378.2L345.6 393.3L347.8 405.5L351.1 415.8L355.6 424.5L361.7 432.1L369.5 438.9L379.3 444.9L391.2 450.4L405.4 455.3L422.3 459.9L442 464.2L464.6 468.2L490.6 471.9M343.3 372.1L343.3 373.9L343.5 383.1L344 396.1L344.9 408.5L346.4 419.1L348.6 428.2L351.8 436L355.9 442.9L361.3 449L368 454.4L376.2 459.4L386 463.9L397.5 468.1L411.1 472L426.6 475.6L444.4 479M343.3 371.2L343.3 374L343.4 386L343.7 400.1L344.1 412.2L344.9 422.3L346.1 430.7L347.8 437.9L350 444.2L352.8 449.7L356.4 454.7L360.7 459.2L365.9 463.4L372 467.2L379.2 470.7L387.4 474L396.9 477M343.3 438.7L343.3 440L343.6 445.1L344.3 450.5L345.7 455L348 458.6L351.4 461.7L356.2 464.3L362.6 466.5L370.8 468.5L381 470.3L393.4 471.9L408.4 473.4L426.1 474.8L446.7 476L470.4 477.2L497.6 478.3M343.3 333.2L343.3 335.3L343.6 346.2L344.2 362.1L345.4 377.3L347.5 390.5L350.5 401.8L354.7 411.6L360.4 420.2L367.6 427.8L376.7 434.7L387.7 440.9L401 446.6L416.6 451.9L434.9 456.7L455.9 461.2L480 465.5M343.3 339.2L343.3 339.7L343.5 343.1L343.9 350.6L344.7 361.4L346 373.4L348 385.4L350.7 396.6L354.4 406.9L359.1 416.4L365 425.1L372.1 433.1L380.7 440.5L390.9 447.3L402.8 453.7L416.4 459.6L432 465.2M343.3 400L343.3 402.4L343.6 412L344.1 422.7L345.3 431.6L347.2 439L350.1 445.1L354.1 450.4L359.4 454.9L366.2 459L374.8 462.6L385.2 465.9L397.7 468.9L412.4 471.7L429.6 474.2L449.5 476.6L472.2 478.8M343.3 339.9L343.3 341.1L343.5 348.4L344.1 361.1L345.3 375L347.1 388L349.9 399.5L353.8 409.6L358.9 418.5L365.6 426.5L373.8 433.8L383.9 440.3L396.1 446.4L410.4 451.9L427.1 457.1L446.4 461.9L468.4 466.4M343.3 379L343.3 381.1L343.5 390.9L344 403.9L344.9 415.7L346.4 425.7L348.6 434.1L351.7 441.4L355.8 447.8L361.1 453.4L367.7 458.5L375.8 463.1L385.5 467.3L397 471.1L410.4 474.7L425.8 478L443.4 481.2M343.3 331.8L343.3 332.6L343.5 337.4L343.9 347.4L344.7 360.3L346 373.6L348 386.2L350.7 397.7L354.4 408.1L359.1 417.5L365 426.1L372.1 433.9L380.7 441.1L390.9 447.8L402.8 454L416.4 459.7L432 465.2M343.3 364.7L343.3 365.6L343.5 371.1L343.9 381.1L344.7 392.4L346 403.2L348 412.8L350.7 421.4L354.4 429L359.1 435.8L364.9 441.9L372.1 447.5L380.7 452.6L390.8 457.4L402.6 461.8L416.3 465.9L431.8 469.7M343.3 364L343.3 369.1L343.6 385.3L344.3 400.2L345.7 411.8L348 421.1L351.4 428.7L356.2 435.3L362.5 440.9L370.7 445.9L380.8 450.4L393.3 454.5L408.2 458.2L425.8 461.6L446.3 464.7L470 467.7L497 470.4M343.3 341.3L343.3 341.9L343.5 346L343.9 354.5L344.8 365.8L346.2 377.7L348.4 389L351.3 399.3L355.3 408.7L360.4 417.2L366.7 425L374.4 432.1L383.7 438.6L394.7 444.7L407.5 450.3L422.3 455.5L439.1 460.5M343.3 327.4L343.3 328L343.5 332L343.9 340.5L344.7 352.3L346 365L348 377.3L350.7 388.7L354.4 399.1L359.1 408.7L365 417.4L372.1 425.3L380.7 432.7L390.9 439.5L402.8 445.8L416.4 451.7L432 457.3M343.3 346L343.3 347.4L343.5 355.2L343.9 368.3L344.7 382.1L346 394.8L348 405.8L350.7 415.5L354.4 424.1L359.1 431.7L365 438.6L372.1 444.8L380.7 450.5L390.9 455.8L402.8 460.7L416.4 465.3L432 469.5M343.3 408.8L343.3 409.7L343.4 414.2L343.8 421.5L344.5 429L345.6 435.6L347.3 441.4L349.7 446.5L352.8 450.9L356.8 454.9L361.8 458.4L368 461.7L375.3 464.6L384 467.4L394.1 469.9L405.8 472.2L419.2 474.5M343.3 350.2L343.3 350.5L343.5 352.5L343.9 357.2L344.7 364.7L346 373.9L348 383.8L350.7 393.6L354.4 402.9L359.1 411.7L365 419.9L372.1 427.5L380.7 434.6L390.9 441.2L402.8 447.4L416.4 453.2L432 458.6M343.3 387.5L343.3 389.7L343.5 399.4L343.9 411L344.8 421.1L346.2 429.4L348.3 436.4L351.2 442.4L355.1 447.6L360.1 452.2L366.4 456.4L374 460.1L383.2 463.6L394 466.7L406.6 469.7L421.2 472.4L437.9 474.9M343.3 365.3L343.3 366.8L343.4 375.2L343.6 387.8L344.1 400.2L344.8 411.1L345.9 420.4L347.5 428.5L349.6 435.6L352.2 441.9L355.5 447.6L359.6 452.7L364.4 457.4L370.2 461.8L376.9 465.8L384.6 469.6L393.4 473.1M343.3 365L343.3 369.9L343.5 385.4L344.1 399.9L345.1 411.2L346.8 420.3L349.4 427.8L353 434.2L357.7 439.7L363.8 444.6L371.5 449L380.8 453L392 456.6L405.2 460L420.6 463.1L438.4 465.9L458.7 468.6M343.3 344.4L343.3 344.6L343.5 346.5L343.9 351.1L344.7 358.5L346 367.8L348 378.1L350.7 388.4L354.4 398.4L359.1 407.9L365 416.7L372.1 425L380.7 432.7L390.9 439.9L402.8 446.6L416.4 453L432 459M343.3 393.4L343.3 395.8L343.6 405.7L344.2 417L345.3 426.5L347.2 434.3L350.1 440.8L354.1 446.4L359.5 451.3L366.3 455.6L374.9 459.4L385.3 462.9L397.9 466.1L412.7 469.1L430 471.8L449.9 474.3L472.7 476.7M343.3 337.9L343.3 339.2L343.5 346.5L343.9 359.6L344.7 374.2L346 387.7L348 399.8L350.7 410.4L354.4 419.8L359.1 428.3L365 435.9L372.1 442.8L380.7 449.1L390.9 455L402.8 460.4L416.4 465.5L432 470.2M344.4 344.8L344.4 344.8L344.5 345.1L345 345.7L345.8 346.9L347.2 348.9L349.2 351.5L352.1 355L355.9 359.1L360.8 363.8L367 369L374.4 374.4L383.4 380.1L394 385.7L406.4 391.4L420.6 397L436.9 402.6M343.3 352.8L343.3 353.7L343.4 359.4L343.6 369.6L344.1 381.1L344.8 391.8L346 401.5L347.5 410L349.6 417.5L352.3 424.3L355.6 430.4L359.7 436L364.6 441.1L370.4 445.8L377.1 450.1L384.9 454.2L393.8 458M343.3 360.1L343.3 360.9L343.5 366.2L343.9 376.2L344.7 388L346 399.5L348 409.9L350.8 419.2L354.5 427.5L359.2 435L365.1 441.8L372.4 447.9L381 453.6L391.3 458.8L403.2 463.6L417 468.1L432.8 472.4M343.3 438.7L343.3 440.8L343.6 447.1L344.3 452.8L345.6 457.2L347.8 460.7L351.1 463.6L355.7 466L361.9 468.2L369.7 470L379.6 471.7L391.6 473.3L406 474.7L423 475.9L442.8 477.1L465.7 478.2L491.8 479.3M343.3 341.4L343.3 343.1L343.5 352.3L343.9 366.5L344.7 380.7L346 393.2L348 404L350.7 413.4L354.4 421.6L359.1 429L365 435.6L372.1 441.6L380.7 447.1L390.9 452.2L402.8 456.9L416.4 461.2L432 465.3M344.4 369.7L344.4 369.9L344.5 370.8L344.7 372.9L345.2 376.5L345.9 381.2L347.1 386.4L348.7 391.7L350.8 396.9L353.6 401.8L357 406.5L361.2 410.8L366.2 414.9L372.1 418.7L379 422.3L387 425.7L396.1 428.8M343.3 430.1L343.3 432.1L343.6 439.3L344.3 446.6L345.6 452.5L347.8 457.3L351 461.3L355.5 464.7L361.6 467.6L369.3 470.2L379 472.5L390.8 474.6L405 476.6L421.7 478.3L441.3 480L463.8 481.5L489.5 483M343.3 329L343.3 330.1L343.5 336.8L343.9 349.1L344.7 363.2L346 376.7L348 388.8L350.7 399.6L354.4 409.2L359.1 417.8L365 425.6L372.1 432.7L380.7 439.2L390.9 445.2L402.8 450.8L416.4 455.9L432 460.8M343.3 352.2L343.3 352.4L343.5 354.3L344 358.9L344.9 366.2L346.5 375.2L348.9 385L352.1 394.7L356.5 404.1L362.1 412.9L369 421.1L377.5 428.8L387.8 435.9L399.8 442.6L413.9 448.8L430.1 454.6L448.7 460.1M343.3 340.6L343.3 341.1L343.5 344.1L343.9 351L344.7 361L346 372.4L348 383.8L350.7 394.6L354.4 404.6L359.1 413.8L365 422.3L372.1 430.1L380.7 437.3L390.9 444L402.8 450.2L416.4 456L432 461.5M343.3 369L343.3 371.5L343.5 382.8L343.8 396.6L344.6 408.7L345.8 418.8L347.6 427.3L350.2 434.6L353.5 440.9L357.9 446.5L363.3 451.6L369.9 456.2L377.8 460.3L387.2 464.2L398.1 467.7L410.7 471.1L425.1 474.2"/>
<g fill="none" stroke="#000" stroke-width="1.4"><circle cx="343.3" cy="326.1" r="1.75"/><circle cx="354.9" cy="326.1" r="1.75"/><circle cx="371.5" cy="326.1" r="1.75"/><circle cx="343.3" cy="343.5" r="1.75"/><circle cx="344.1" cy="343.5" r="1.75"/><circle cx="343.3" cy="360.9" r="1.75"/><circle cx="343.9" cy="360.9" r="1.75"/><circle cx="343.5" cy="395.8" r="1.75"/><circle cx="410.5" cy="395.8" r="1.75"/><circle cx="341.9" cy="413.2" r="1.75"/><circle cx="343.3" cy="413.2" r="1.75"/><circle cx="344.5" cy="413.2" r="1.75"/><circle cx="345.9" cy="413.2" r="1.75"/><circle cx="353.9" cy="413.2" r="1.75"/><circle cx="342.9" cy="430.6" r="1.75"/><circle cx="344.9" cy="430.6" r="1.75"/><circle cx="346.9" cy="430.6" r="1.75"/><circle cx="419.3" cy="430.6" r="1.75"/><circle cx="474.4" cy="430.6" r="1.75"/><circle cx="343.3" cy="448" r="1.75"/><circle cx="363.5" cy="448" r="1.75"/><circle cx="381.3" cy="448" r="1.75"/><circle cx="406.5" cy="448" r="1.75"/><circle cx="412.5" cy="448" r="1.75"/><circle cx="449.9" cy="448" r="1.75"/><circle cx="514.6" cy="448" r="1.75"/><circle cx="362.3" cy="465.4" r="1.75"/><circle cx="369.3" cy="465.4" r="1.75"/><circle cx="386.3" cy="465.4" r="1.75"/><circle cx="392.9" cy="465.4" r="1.75"/><circle cx="401.9" cy="465.4" r="1.75"/><circle cx="403.9" cy="465.4" r="1.75"/><circle cx="405.9" cy="465.4" r="1.75"/><circle cx="407.9" cy="465.4" r="1.75"/><circle cx="412.5" cy="465.4" r="1.75"/><circle cx="487.1" cy="465.4" r="1.75"/><circle cx="364.3" cy="482.9" r="1.75"/><circle cx="365.5" cy="482.9" r="1.75"/><circle cx="366.9" cy="482.9" r="1.75"/><circle cx="373.3" cy="482.9" r="1.75"/><circle cx="383.9" cy="482.9" r="1.75"/><circle cx="400.5" cy="482.9" r="1.75"/><circle cx="406.5" cy="482.9" r="1.75"/><circle cx="408.3" cy="482.9" r="1.75"/><circle cx="409.9" cy="482.9" r="1.75"/><circle cx="412.9" cy="482.9" r="1.75"/><circle cx="419.9" cy="482.9" r="1.75"/><circle cx="421.9" cy="482.9" r="1.75"/><circle cx="430.9" cy="482.9" r="1.75"/><circle cx="452.9" cy="482.9" r="1.75"/><circle cx="471.4" cy="482.9" r="1.75"/><circle cx="476.2" cy="482.9" r="1.75"/><circle cx="481.2" cy="482.9" r="1.75"/><circle cx="493.2" cy="482.9" r="1.75"/><circle cx="515.6" cy="482.9" r="1.75"/></g>
<path fill="none" stroke="#000" stroke-width="1.5" d="M335.7 319.9H541.4V488.9H335.7ZM343.3 488.9v6.4M406.7 488.9v6.4M470.1 488.9v6.4M533.5 488.9v6.4M335.7 482.9h-6.4M335.7 448h-6.4M335.7 413.2h-6.4M335.7 378.3h-6.4M335.7 343.5h-6.4"/>
<text class="t" x="343.3" y="512.4" text-anchor="middle">0</text>
<text class="t" x="406.7" y="512.4" text-anchor="middle">3</text>
<text class="t" x="470.1" y="512.4" text-anchor="middle">6</text>
<text class="t" x="533.5" y="512.4" text-anchor="middle">9</text>
<text class="t" x="322.9" y="488.5" text-anchor="end">1</text>
<text class="t" x="322.9" y="453.6" text-anchor="end">4</text>
<text class="t" x="322.9" y="418.8" text-anchor="end">16</text>
<text class="t" x="322.9" y="383.9" text-anchor="end">64</text>
<text class="t" x="322.9" y="349.1" text-anchor="end">256</text>
<text class="b" x="438.9" y="527" text-anchor="middle">Time (months)</text>
<text class="b" transform="translate(303.4 403.4) rotate(-90)" text-anchor="middle">1/titer</text>
<text class="l" x="335.5" y="299.8">D</text>
</g>
<g>
<clipPath id="cE"><rect x="52.1" y="602.9" width="205.7" height="168.9"/></clipPath>
<path clip-path="url(#cE)" fill="none" stroke="#d1d1d1" stroke-width="1.2" d="M59.8 654.9L59.8 654.9L60 655.3L60.5 656.2L61.5 657.8L63.2 660.2L65.7 663.3L69.2 666.9L73.8 670.8L79.8 674.9L87.2 679L96.3 683L107.2 686.9L120 690.6L135 694.2L152.3 697.7L172.1 700.9M59.8 649.3L59.8 649.4L60 649.8L60.5 650.8L61.5 652.7L63.2 655.6L65.7 659.3L69.2 663.7L73.8 668.5L79.8 673.6L87.2 678.7L96.3 683.8L107.2 688.7L120.1 693.5L135.2 698.2L152.5 702.6L172.3 706.8M59.8 683.3L59.8 683.3L59.9 683.5L60.3 684.2L61 685.5L62.3 687.3L64.1 689.7L66.7 692.6L70.1 695.7L74.5 699L80 702.3L86.7 705.6L94.7 708.8L104.2 711.9L115.3 714.9L128.1 717.8L142.7 720.5M71.5 685.9L71.5 685.9L71.7 686.1L72.2 686.5L73 687.2L74.5 688.5L76.7 690.2L79.7 692.3L83.7 694.9L88.9 697.9L95.4 701.2L103.3 704.6L112.8 708.1L124 711.7L137.1 715.3L152.1 718.8L169.4 722.3M59.8 651.2L59.8 651.3L60 651.8L60.4 653.2L61.4 655.8L62.9 659.7L65.3 664.7L68.5 670.6L72.8 677.2L78.4 684.1L85.3 691L93.8 697.9L103.9 704.6L115.9 711.1L129.9 717.4L146 723.4L164.4 729.1M59.8 651.9L59.8 652L60 652.5L60.7 654L62.1 656.5L64.3 660.3L67.6 665L72.2 670.5L78.3 676.3L86.1 682.3L95.9 688.3L107.9 694.1L122.2 699.7L139.2 705.1L159 710.3L181.8 715.2L207.9 719.8M76.7 685.4L76.7 685.4L76.8 685.5L77.2 685.8L77.8 686.4L78.9 687.4L80.4 688.7L82.6 690.6L85.5 692.8L89.3 695.5L94 698.5L99.7 701.9L106.6 705.4L114.7 709.1L124.1 712.9L135.1 716.8L147.5 720.6M59.8 640.5L59.8 640.5L59.9 640.7L60.2 641.4L60.8 642.6L61.9 644.3L63.4 646.6L65.6 649.3L68.5 652.4L72.2 655.5L76.8 658.7L82.5 661.9L89.2 664.9L97.3 667.9L106.6 670.8L117.4 673.6L129.7 676.2M59.8 640.2L59.8 640.4L60.1 641.5L60.8 644.4L62.2 649.3L64.5 656.1L67.9 664.1L72.7 672.7L79 681.5L87.2 690L97.4 698.3L109.9 706.1L124.8 713.5L142.5 720.4L163.1 727L186.9 733.2L214 739.1M59.8 650.7L59.8 650.8L60 651.7L60.6 654L61.8 658.1L63.8 664L66.7 671.4L70.8 679.7L76.3 688.4L83.3 697.3L92.1 706L102.8 714.4L115.7 722.5L130.8 730.2L148.5 737.5L169 744.4L192.3 751M59.8 646.1L59.8 646.1L60 646.5L60.5 647.5L61.6 649.2L63.3 651.9L65.9 655.5L69.5 659.7L74.3 664.5L80.5 669.6L88.2 674.8L97.7 680L109 685.1L122.3 690.2L137.9 695L155.9 699.7L176.4 704.1M59.8 671.2L59.8 671.3L60 671.6L60.5 672.4L61.5 673.8L63.1 675.9L65.5 678.5L68.9 681.6L73.4 684.9L79.1 688.3L86.3 691.7L95.2 695.1L105.7 698.3L118.2 701.4L132.7 704.3L149.5 707.1L168.7 709.8M59.8 693.5L59.8 693.5L59.9 693.6L60.3 694L61 694.7L62.2 695.7L64 697.1L66.5 698.7L69.8 700.6L74.1 702.7L79.4 704.8L85.9 707L93.7 709.1L102.9 711.2L113.7 713.3L126.1 715.3L140.2 717.2M59.8 684.8L59.8 684.9L60 685.3L60.8 686.3L62.1 688.1L64.4 690.8L67.8 694.2L72.5 698L78.8 702L86.8 706.2L96.9 710.2L109.2 714.2L124 718L141.4 721.6L161.7 725.1L185.2 728.4L211.9 731.5M84.9 718.8L84.9 718.8L85.1 719L85.6 719.5L86.7 720.5L88.4 722.1L91 724.3L94.6 727.3L99.4 730.8L105.6 734.9L113.3 739.4L122.7 744.3L134 749.4L147.4 754.6L163 759.9L180.9 765.2L201.4 770.4M66.9 698.2L66.9 698.2L67 698.4L67.5 699L68.3 700L69.7 701.6L71.7 703.8L74.6 706.5L78.3 709.7L83.2 713.2L89.3 716.8L96.7 720.6L105.6 724.4L116.2 728.2L128.4 731.9L142.6 735.4L158.8 738.9M64.8 670.3L64.8 670.3L65 670.7L65.5 671.7L66.4 673.6L68 676.5L70.4 680.4L73.7 685.1L78 690.6L83.7 696.5L90.7 702.6L99.2 708.9L109.5 715.1L121.7 721.2L135.8 727.2L152.2 733L170.8 738.5M59.8 695.1L59.8 695.1L60 695.4L60.6 696.3L61.8 697.7L63.7 699.8L66.5 702.3L70.5 705.1L75.8 707.9L82.5 710.8L91 713.6L101.4 716.2L113.8 718.8L128.4 721.2L145.6 723.5L165.3 725.6L187.8 727.7M59.8 661.5L59.8 661.5L59.9 661.9L60.4 663L61.2 665L62.6 667.9L64.7 672L67.6 676.9L71.4 682.5L76.4 688.5L82.6 694.8L90.1 701.1L99.1 707.5L109.8 713.7L122.3 719.7L136.7 725.5L153.1 731.1M87.4 707L87.4 707L87.5 707.1L87.8 707.3L88.5 707.6L89.6 708.1L91.3 708.9L93.6 709.9L96.7 711.1L100.7 712.6L105.7 714.3L111.8 716.2L119 718.3L127.6 720.4L137.7 722.7L149.2 724.9L162.4 727.3M85.3 689.2L85.3 689.2L85.4 689.3L85.6 689.4L86.1 689.7L86.9 690.1L88.1 690.7L89.8 691.6L92 692.6L94.8 693.9L98.4 695.4L102.7 697L108 698.8L114.1 700.7L121.3 702.8L129.6 704.8L139 707M59.8 672.7L59.8 672.7L59.9 673L60.3 673.7L61.1 675L62.3 677L64.2 679.6L66.8 682.8L70.3 686.4L74.7 690.2L80.3 694.1L87.1 698.1L95.2 702L104.9 705.8L116.1 709.5L129.1 713.1L143.9 716.5M59.8 696.3L59.8 696.3L60 696.5L60.5 697.2L61.6 698.4L63.4 700.2L66 702.5L69.7 705.3L74.6 708.5L80.9 711.8L88.7 715.2L98.3 718.6L109.8 722L123.4 725.2L139.2 728.3L157.5 731.4L178.4 734.2M83.7 677.4L83.8 677.4L83.8 677.5L84 677.6L84.4 677.8L85.1 678.1L86.1 678.6L87.5 679.3L89.3 680.1L91.7 681.1L94.7 682.3L98.3 683.6L102.6 685.1L107.7 686.7L113.7 688.4L120.6 690.1L128.5 691.9M59.8 659.9L59.8 659.9L59.8 660.1L60 660.6L60.4 661.5L61 662.8L62 664.7L63.3 667L65 669.6L67.3 672.4L70.1 675.4L73.5 678.5L77.6 681.6L82.4 684.6L88 687.5L94.5 690.4L101.9 693.2M59.8 634.3L59.8 634.3L59.9 634.6L60.4 635.3L61.3 636.6L62.7 638.5L64.9 641.1L67.9 644.2L71.9 647.6L77.1 651.3L83.6 655L91.5 658.8L100.9 662.4L112.1 666L125.1 669.5L140.2 672.9L157.3 676.1M72.5 687.9L72.5 687.9L72.6 688L72.9 688.2L73.4 688.5L74.2 689L75.4 689.7L77.2 690.6L79.5 691.8L82.4 693.2L86.1 694.8L90.6 696.5L96 698.3L102.3 700.2L109.8 702.1L118.3 704.1L128.1 706.1M78.3 697.2L78.3 697.2L78.5 697.3L78.8 697.4L79.6 697.7L80.9 698.1L82.7 698.7L85.4 699.4L88.8 700.4L93.3 701.5L98.9 702.7L105.7 704L113.9 705.3L123.5 706.8L134.8 708.2L147.8 709.6L162.6 711M59.8 678.3L59.8 678.4L60 678.9L60.6 680.1L61.7 682.4L63.5 685.6L66.2 689.6L70.1 694.3L75.2 699.2L81.7 704.1L89.8 709L99.8 713.8L111.7 718.4L125.8 722.8L142.3 727L161.3 730.9L183 734.7M59.8 681.4L59.8 681.5L59.9 681.6L60.3 682L61 682.7L62.2 683.9L63.9 685.4L66.4 687.3L69.7 689.6L73.9 692L79.2 694.6L85.6 697.3L93.3 699.9L102.4 702.6L113 705.2L125.3 707.7L139.3 710.1M59.8 700.6L59.8 700.6L60 700.9L60.6 701.5L61.7 702.7L63.5 704.4L66.3 706.6L70.1 709.2L75.2 712L81.8 714.8L90 717.7L100 720.5L112 723.2L126.1 725.8L142.7 728.3L161.7 730.7L183.5 733M59.8 690.7L59.8 690.7L59.9 690.8L60.1 691L60.7 691.4L61.5 692.1L62.8 693L64.7 694.1L67.1 695.5L70.2 697L74.1 698.6L78.8 700.3L84.5 702L91.2 703.7L99.1 705.4L108.1 707.1L118.5 708.7M60.8 667.1L60.9 667.2L61 667.7L61.6 668.9L62.6 671.1L64.3 674.3L66.8 678.3L70.2 682.8L74.9 687.5L80.8 692.3L88.3 697L97.4 701.6L108.3 706L121.2 710.2L136.2 714.2L153.5 718L173.3 721.6M59.8 695.2L59.8 695.2L60 695.4L60.5 695.9L61.5 696.8L63.2 698.2L65.7 700.1L69.2 702.4L73.8 705L79.8 707.7L87.2 710.5L96.3 713.4L107.2 716.1L120 718.9L135 721.5L152.3 724L172.1 726.5M59.8 691.6L59.8 691.7L59.9 691.8L60.2 692L60.9 692.5L62.1 693.3L63.7 694.2L66.1 695.4L69.2 696.6L73.2 697.9L78.3 699.2L84.4 700.5L91.7 701.8L100.4 703L110.5 704.2L122.2 705.3L135.6 706.4M59.8 689.5L59.8 689.6L60 690L60.6 691.1L61.8 693.1L63.7 695.9L66.5 699.4L70.5 703.1L75.8 707.1L82.6 711L91 714.8L101.4 718.5L113.8 722L128.5 725.3L145.6 728.4L165.4 731.4L187.9 734.2M59.8 674.2L59.8 674.2L60 674.6L60.5 675.8L61.5 677.8L63.1 680.8L65.5 684.6L68.9 689L73.4 693.7L79.2 698.5L86.4 703.4L95.2 708.1L105.7 712.6L118.2 717L132.8 721.1L149.6 725.1L168.8 728.9M59.8 680.6L59.8 680.6L60 681L60.5 682L61.4 683.8L63 686.5L65.4 690L68.7 694.2L73.1 698.9L78.7 703.7L85.8 708.6L94.4 713.5L104.8 718.3L117 722.9L131.2 727.4L147.7 731.6L166.4 735.7M59.8 658L59.8 658.1L59.9 658.4L60.3 659.1L61.1 660.4L62.4 662.4L64.3 664.9L67 668L70.6 671.5L75.2 675.1L80.9 678.8L88 682.5L96.4 686.2L106.3 689.7L117.9 693.1L131.3 696.3L146.5 699.5M59.8 693.4L59.8 693.5L59.9 693.7L60.3 694.2L61 695.2L62.3 696.7L64.1 698.6L66.7 700.7L70.1 703L74.5 705.4L80 707.8L86.8 710.1L94.8 712.4L104.3 714.5L115.4 716.6L128.2 718.5L142.9 720.4M59.8 639.8L59.8 639.9L60 640.5L60.6 642.1L61.9 644.9L63.9 648.8L66.9 653.7L71.1 659.1L76.6 664.7L83.8 670.3L92.7 675.8L103.7 681.1L116.8 686.1L132.3 690.9L150.3 695.5L171.1 699.8L194.9 703.9M59.8 666.7L59.8 666.7L59.9 666.8L60.2 667.2L60.9 667.8L61.9 668.8L63.5 670.1L65.7 671.6L68.7 673.3L72.5 675L77.2 676.8L83 678.6L89.9 680.4L98.1 682.1L107.6 683.7L118.6 685.3L131.2 686.8M62.3 662.3L62.3 662.3L62.4 662.5L62.7 662.9L63.2 663.7L64.1 664.9L65.4 666.6L67.2 668.6L69.6 671L72.7 673.5L76.6 676.2L81.3 678.9L87 681.6L93.7 684.2L101.5 686.8L110.5 689.3L120.8 691.7M59.8 674.1L59.8 674.2L60 674.7L60.5 676L61.4 678.4L63 681.8L65.4 686.3L68.7 691.4L73.1 696.9L78.7 702.6L85.7 708.3L94.3 713.8L104.7 719.2L116.9 724.3L131.1 729.3L147.5 734L166.2 738.4M59.8 637.2L59.8 637.3L59.9 637.7L60.2 638.8L60.8 641L61.8 644.3L63.2 648.8L65.3 654.6L68 661.3L71.5 668.7L75.9 676.6L81.3 684.8L87.7 693L95.3 701.3L104.2 709.4L114.4 717.3L126 725M84.1 714.7L84.1 714.7L84.2 714.7L84.4 714.8L84.8 715L85.4 715.4L86.4 715.8L87.8 716.5L89.6 717.3L91.9 718.3L94.9 719.5L98.4 720.8L102.7 722.3L107.8 723.9L113.6 725.6L120.4 727.4L128.2 729.3M59.8 683.6L59.8 683.6L60 684L60.5 684.9L61.5 686.5L63.2 689L65.8 692.3L69.3 696.2L74 700.7L80.1 705.4L87.6 710.2L96.8 715L107.9 719.8L121 724.4L136.2 728.9L153.8 733.2L173.9 737.3M59.8 651.1L59.8 651.2L59.9 651.8L60.3 653.3L61.1 656L62.4 660.1L64.4 665.3L67.1 671.6L70.7 678.4L75.4 685.6L81.2 692.8L88.2 700L96.7 706.9L106.8 713.7L118.5 720.2L132 726.4L147.4 732.3M59.8 681.2L59.8 681.2L59.9 681.3L60.1 681.7L60.6 682.4L61.4 683.4L62.6 684.8L64.3 686.6L66.6 688.6L69.5 690.7L73.1 693L77.5 695.3L82.8 697.6L89.1 699.9L96.4 702.2L104.8 704.3L114.5 706.4M59.8 656.4L59.8 656.5L60 656.9L60.7 658.2L61.9 660.4L64 663.6L67.1 667.5L71.5 672L77.2 676.7L84.7 681.5L93.9 686.2L105.2 690.7L118.8 695.1L134.8 699.3L153.5 703.2L175.1 707L199.7 710.5M63.1 652.6L63.1 652.7L63.2 653.1L63.6 654.1L64.2 655.9L65.3 658.8L67 662.7L69.3 667.5L72.3 673L76.3 678.9L81.2 685.1L87.1 691.4L94.3 697.7L102.8 703.9L112.7 709.9L124.1 715.7L137.1 721.4M77.4 696.4L77.4 696.4L77.5 696.5L77.8 696.8L78.4 697.4L79.5 698.3L81 699.6L83.1 701.4L86 703.6L89.6 706.1L94.1 709L99.7 712.2L106.3 715.6L114.2 719.1L123.4 722.7L134 726.4L146 730.1M59.8 662.9L59.8 662.9L60 663.2L60.5 664L61.5 665.4L63.1 667.5L65.5 670.1L68.9 673.1L73.5 676.3L79.3 679.6L86.5 682.8L95.4 686L106 689.1L118.6 692.1L133.2 694.9L150.1 697.6L169.4 700.2M59.8 679.3L59.8 679.3L59.9 679.7L60.3 680.7L61 682.5L62.1 685L63.9 688.3L66.3 692L69.5 696.1L73.7 700.2L78.9 704.3L85.2 708.3L92.8 712.1L101.8 715.8L112.3 719.4L124.3 722.7L138.1 725.9M59.8 700L59.8 700L59.9 700.1L60.2 700.4L60.8 700.9L61.8 701.7L63.3 702.8L65.4 704.2L68.2 705.8L71.8 707.6L76.2 709.6L81.7 711.6L88.2 713.7L95.9 715.7L104.9 717.8L115.3 719.8L127.2 721.8M63.8 668L63.8 668.1L64 668.4L64.6 669.3L65.7 670.9L67.5 673.3L70.2 676.4L74 680.1L79.1 684.1L85.6 688.4L93.6 692.6L103.5 696.8L115.4 701L129.4 704.9L145.7 708.8L164.6 712.4L186.1 715.9M59.8 692.3L59.8 692.3L59.9 692.6L60.4 693.4L61.3 694.8L62.8 696.7L65 699.1L68.1 701.9L72.2 704.7L77.5 707.6L84.1 710.4L92.2 713.1L101.8 715.7L113.2 718.2L126.6 720.6L141.9 722.8L159.5 724.9M59.8 661.6L59.8 661.6L59.8 661.7L60 662L60.3 662.5L60.9 663.3L61.8 664.3L63 665.7L64.5 667.3L66.6 669.2L69.1 671.2L72.2 673.3L75.9 675.4L80.3 677.6L85.4 679.7L91.3 681.8L98 683.9M59.8 678.6L59.8 678.7L60 679.1L60.5 680L61.5 681.7L63.2 684.1L65.8 687.2L69.3 690.7L74.1 694.5L80.1 698.4L87.7 702.2L97 705.9L108.1 709.5L121.2 712.9L136.5 716.2L154.1 719.3L174.3 722.3M59.8 674.4L59.8 674.4L59.8 674.5L60 674.7L60.4 675L61 675.6L61.9 676.4L63.1 677.4L64.8 678.5L66.9 679.9L69.5 681.3L72.8 682.8L76.7 684.4L81.2 686L86.6 687.5L92.8 689.1L99.8 690.6M59.8 629.6L59.8 629.7L60 630.5L60.7 632.6L62.1 636.3L64.3 641.6L67.6 648.2L72.1 655.8L78.3 663.7L86.1 671.8L95.9 679.7L107.9 687.5L122.2 694.9L139.2 701.9L158.9 708.6L181.7 715L207.8 721.1M59.8 655.2L59.8 655.3L59.9 655.5L60.2 656.2L60.9 657.5L62 659.4L63.6 662L65.9 665.1L69 668.6L72.9 672.4L77.7 676.3L83.7 680.2L90.8 684.1L99.2 687.9L109.1 691.5L120.4 695.1L133.4 698.5M59.8 642.8L59.8 642.9L60 643.7L60.5 645.7L61.6 649.4L63.4 654.7L66.1 661.4L69.8 669.1L74.8 677.3L81.2 685.6L89.1 693.9L98.8 701.9L110.5 709.6L124.3 717L140.3 724L158.9 730.7L180 737.1M68.4 661.8L68.4 661.8L68.7 662.2L69.3 663L70.4 664.7L72.4 667.2L75.3 670.6L79.3 674.8L84.7 679.5L91.5 684.6L100.1 690L110.6 695.4L123.2 700.8L138.1 706.1L155.5 711.2L175.5 716.2L198.4 721M59.8 630.6L59.8 630.7L59.9 631L60.3 631.8L60.9 633.4L62.1 635.7L63.8 638.5L66.2 641.9L69.3 645.5L73.4 649.2L78.5 652.9L84.7 656.6L92.1 660.1L100.9 663.5L111.2 666.7L123 669.8L136.5 672.7M59.8 656.4L59.8 656.4L60 656.7L60.5 657.2L61.6 658.3L63.3 659.9L65.9 661.9L69.4 664.4L74.2 667.1L80.3 670L88 672.9L97.4 675.8L108.6 678.6L121.8 681.4L137.3 684L155.1 686.6L175.5 689M60.8 676.3L60.8 676.3L60.9 676.7L61.4 677.6L62.2 679.3L63.6 681.8L65.7 685L68.6 688.7L72.4 692.7L77.3 696.9L83.5 701L91 705.1L100 709.1L110.7 712.9L123.1 716.6L137.4 720L153.8 723.4M71.7 685.5L71.8 685.5L71.9 685.7L72.4 686.1L73.3 687L74.8 688.3L77 690.1L80.1 692.4L84.3 695L89.6 698.1L96.2 701.3L104.3 704.7L114 708.1L125.5 711.6L138.9 715L154.4 718.3L172 721.5M59.8 673.3L59.8 673.3L59.9 673.6L60.3 674.3L61.1 675.7L62.4 677.8L64.4 680.7L67.1 684.1L70.7 688.1L75.3 692.3L81.1 696.7L88.2 701.1L96.7 705.5L106.7 709.9L118.4 714.1L131.9 718.1L147.3 722M59.8 643.5L59.8 643.6L59.8 643.7L60.1 644.1L60.5 644.7L61.2 645.8L62.2 647.2L63.7 648.9L65.6 650.9L68.1 653L71.2 655.3L75 657.6L79.5 659.8L84.8 662.1L91.1 664.3L98.3 666.4L106.5 668.4M59.8 696.8L59.8 696.8L59.8 696.9L60.1 697.3L60.5 697.9L61.2 698.9L62.2 700.1L63.7 701.7L65.6 703.5L68.1 705.4L71.2 707.3L74.9 709.3L79.5 711.3L84.8 713.2L91.1 715L98.3 716.8L106.5 718.6M59.8 646.8L59.8 646.8L60 647.3L60.7 648.5L62 650.7L64.2 654L67.4 658.4L71.9 663.4L77.9 669L85.5 674.8L95.1 680.7L106.8 686.5L120.9 692.1L137.5 697.6L156.8 702.9L179.2 707.9L204.7 712.7M59.8 649.3L59.8 649.4L60 649.9L60.5 651.3L61.5 653.8L63.2 657.6L65.7 662.5L69.2 668.3L73.8 674.7L79.8 681.3L87.3 688L96.4 694.7L107.3 701.2L120.3 707.5L135.3 713.5L152.7 719.3L172.5 724.8M59.8 683L59.8 683L59.9 683.2L60.2 683.8L60.9 684.9L61.9 686.5L63.5 688.8L65.8 691.6L68.7 695L72.5 698.6L77.3 702.6L83.1 706.6L90.1 710.7L98.3 714.8L107.9 718.8L119 722.7L131.6 726.4M59.8 666.1L59.8 666.2L60 666.7L60.7 668L62 670.2L64.2 673.4L67.4 677.4L71.9 681.8L78 686.4L85.7 691.1L95.3 695.6L107.1 700L121.2 704.1L137.9 708.1L157.3 711.9L179.7 715.4L205.4 718.8M59.8 670.5L59.8 670.6L60 670.9L60.5 672L61.5 673.7L63.1 676.3L65.5 679.3L68.9 682.7L73.4 686.2L79.2 689.7L86.5 693.1L95.3 696.3L106 699.5L118.5 702.4L133.1 705.2L150 707.8L169.3 710.3M59.8 696.5L59.8 696.5L59.9 696.6L60.2 696.8L60.9 697.3L62 698L63.7 698.9L66 700.1L69.1 701.4L73 702.8L78 704.3L84 705.9L91.3 707.4L99.8 708.9L109.8 710.4L121.3 711.8L134.5 713.1M59.8 670L59.8 670L60 670.3L60.5 671.1L61.5 672.5L63.1 674.6L65.5 677.4L68.9 680.8L73.4 684.5L79.2 688.5L86.4 692.5L95.2 696.6L105.8 700.5L118.3 704.4L132.8 708.1L149.6 711.7L168.8 715.1M78 665.6L78 665.6L78.2 665.7L78.6 665.9L79.5 666.4L81 667.1L83.2 668.2L86.3 669.5L90.5 671.1L95.8 673L102.4 675.2L110.4 677.4L120.1 679.8L131.6 682.2L144.9 684.7L160.3 687.2L177.9 689.6M59.8 674.5L59.8 674.6L59.9 674.9L60.2 675.6L60.7 677L61.7 679.2L63 681.9L65 685.1L67.6 688.7L70.9 692.5L75 696.3L80 700.1L86.1 703.8L93.2 707.3L101.6 710.8L111.2 714.1L122.2 717.2M59.8 682.3L59.8 682.3L59.9 682.4L60.1 682.7L60.6 683.3L61.4 684.1L62.7 685.2L64.4 686.7L66.7 688.5L69.7 690.4L73.3 692.6L77.8 694.8L83.2 697.1L89.6 699.3L97 701.6L105.6 703.8L115.4 706M73 677.6L73 677.7L73.1 677.9L73.5 678.5L74.3 679.7L75.6 681.6L77.5 684.3L80.2 687.7L83.7 691.9L88.3 696.5L94 701.7L101 707.1L109.3 712.7L119.2 718.3L130.7 724L144 729.6L159.2 735.1M59.8 692.4L59.8 692.4L60 692.7L60.5 693.2L61.5 694.2L63.1 695.7L65.6 697.6L69.1 699.8L73.7 702.1L79.6 704.5L86.9 706.8L95.9 709.1L106.7 711.3L119.5 713.4L134.4 715.4L151.5 717.3L171.1 719.1M59.8 669.7L59.8 669.7L60 670.3L60.7 671.7L62 674.2L64.1 677.9L67.3 682.5L71.8 687.7L77.7 693.3L85.3 699L94.8 704.6L106.4 710L120.3 715.3L136.7 720.3L155.9 725.1L178 729.7L203.2 734M59.8 651.2L59.8 651.3L60 651.7L60.7 652.9L62 654.9L64.1 657.9L67.3 661.7L71.7 666L77.5 670.5L85.1 675.1L94.5 679.7L106 684.1L119.8 688.4L136 692.4L155 696.3L176.9 700L202 703.5M59.8 661.5L59.8 661.6L59.8 661.8L60.1 662.6L60.5 663.9L61.3 666.1L62.3 669L63.9 672.6L65.9 676.7L68.5 681.3L71.8 686.1L75.8 691L80.5 696L86.2 700.9L92.8 705.7L100.4 710.4L109.1 714.9M59.8 670.2L59.8 670.3L59.8 670.3L60 670.5L60.3 670.9L60.8 671.6L61.5 672.5L62.5 673.7L63.9 675.1L65.6 676.9L67.8 678.9L70.5 681.1L73.7 683.4L77.5 685.8L81.9 688.3L87 690.9L92.8 693.4M76.2 688.8L76.2 688.8L76.3 688.9L76.6 689.1L77.2 689.5L78.2 690.1L79.7 691.1L81.8 692.3L84.6 693.9L88.2 695.7L92.6 697.8L98.1 700.1L104.6 702.6L112.3 705.2L121.3 707.9L131.7 710.6L143.6 713.3M85.4 694.2L85.4 694.2L85.5 694.3L86 694.5L86.8 694.8L88.1 695.4L90.1 696.2L92.9 697.2L96.7 698.5L101.5 700L107.5 701.7L114.8 703.6L123.6 705.5L134 707.5L146.1 709.5L160 711.5L176 713.6M59.8 647.2L59.8 647.3L59.9 647.8L60.3 649.3L61.1 651.9L62.3 655.8L64.1 660.7L66.7 666.5L70.2 672.8L74.6 679.3L80.1 685.9L86.8 692.3L94.9 698.6L104.4 704.6L115.6 710.3L128.4 715.8L143.1 721.1M59.8 688.5L59.8 688.5L60 688.8L60.5 689.6L61.5 691L63.1 693L65.6 695.4L69 698.2L73.6 701L79.5 703.9L86.8 706.8L95.8 709.5L106.6 712.1L119.3 714.6L134.1 717L151.2 719.2L170.7 721.4M59.8 665.8L59.8 665.9L60 666.2L60.5 667.1L61.6 668.7L63.3 671.1L65.9 674.3L69.5 678.1L74.3 682.4L80.4 687L88.1 691.8L97.5 696.5L108.8 701.2L122.1 705.7L137.6 710.1L155.5 714.4L175.9 718.4M59.8 658.2L59.8 658.3L60.1 659.1L60.8 661.1L62.2 664.7L64.5 669.7L68 675.8L72.8 682.6L79.3 689.6L87.5 696.5L97.9 703.3L110.5 709.7L125.6 715.9L143.5 721.8L164.3 727.3L188.4 732.6L215.9 737.5M59.8 689.1L59.8 689.2L60 689.6L60.6 690.7L61.7 692.8L63.6 695.6L66.4 699.2L70.3 703.1L75.5 707.3L82.2 711.4L90.6 715.5L100.8 719.4L113 723.1L127.5 726.7L144.3 730L163.8 733.2L186 736.3M59.8 686.9L59.8 687L60 687.6L60.7 689.3L62 692.2L64.2 696.6L67.5 702.1L72 708.4L78.1 715.2L85.8 722.2L95.5 729.2L107.3 736L121.5 742.6L138.3 749L157.9 755L180.4 760.8L206.2 766.3M59.8 678.7L59.8 678.7L59.9 678.9L60.3 679.4L61.1 680.2L62.3 681.5L64.2 683.2L66.8 685.1L70.3 687.1L74.8 689.3L80.3 691.4L87.2 693.6L95.3 695.6L105 697.6L116.3 699.5L129.3 701.3L144.1 703M59.8 672.3L59.8 672.3L59.9 672.5L60.2 672.9L60.9 673.8L62 675.2L63.6 677.1L65.9 679.5L68.9 682.2L72.8 685.3L77.6 688.5L83.5 691.9L90.6 695.3L99 698.7L108.7 702L120 705.2L132.9 708.3M59.8 651.3L59.8 651.3L59.8 651.4L60 651.7L60.4 652.3L61.1 653.3L62.1 654.5L63.5 656.1L65.3 658L67.6 660.1L70.6 662.4L74.2 664.7L78.4 667.1L83.5 669.4L89.4 671.7L96.3 674L104.1 676.2M59.8 654.3L59.8 654.4L60 655L60.6 656.5L61.7 659.3L63.5 663.4L66.3 668.6L70.2 674.6L75.3 681.1L81.9 687.7L90.1 694.3L100.2 700.8L112.3 707L126.5 713L143.2 718.7L162.3 724.2L184.3 729.4M59.8 679.5L59.8 679.6L59.9 679.8L60.4 680.5L61.3 681.7L62.7 683.6L64.9 686L67.9 689L71.9 692.4L77.1 696L83.5 699.7L91.4 703.5L100.8 707.2L112 710.8L125 714.3L140 717.7L157.1 720.9M59.8 691.4L59.8 691.4L59.9 691.5L60.3 691.9L61 692.5L62.3 693.5L64.1 694.8L66.6 696.4L70 698.3L74.3 700.3L79.8 702.4L86.4 704.5L94.3 706.7L103.7 708.8L114.7 710.8L127.3 712.8L141.7 714.7M64.7 668.2L64.8 668.2L64.9 668.4L65.3 669L66 670.1L67.2 671.9L69.1 674.2L71.6 677.2L75 680.6L79.3 684.4L84.8 688.5L91.4 692.6L99.3 696.8L108.7 700.9L119.7 705L132.3 708.9L146.7 712.8M59.8 644.7L59.8 644.7L60 645.1L60.4 646.1L61.4 647.9L63 650.6L65.3 654.2L68.6 658.3L73 662.8L78.6 667.5L85.6 672.2L94.1 676.9L104.4 681.4L116.5 685.8L130.6 690L146.9 694L165.5 697.8M59.8 672.3L59.8 672.4L60 672.8L60.5 673.8L61.6 675.6L63.3 678.2L65.8 681.6L69.4 685.4L74.2 689.6L80.3 693.8L87.9 698L97.2 702.1L108.4 706.1L121.6 709.9L137.1 713.5L154.8 717L175.2 720.3M68.3 684.3L68.3 684.3L68.5 684.5L68.8 685L69.6 686L70.9 687.6L72.8 689.7L75.4 692.4L78.9 695.7L83.4 699.4L89 703.4L95.8 707.6L104 711.9L113.7 716.3L125 720.6L138.1 724.9L153 729M59.8 662L59.8 662.1L60 663L60.7 665.3L62.1 669.4L64.3 675.3L67.7 682.7L72.3 691L78.5 699.9L86.4 708.9L96.3 717.7L108.5 726.3L123 734.6L140.1 742.4L160.2 749.9L183.2 757.1L209.6 763.8M59.8 696.2L59.8 696.2L60 696.6L60.6 697.6L61.7 699.2L63.6 701.6L66.3 704.4L70.2 707.5L75.4 710.8L82 714L90.3 717L100.4 720L112.5 722.8L126.9 725.5L143.6 728L162.9 730.4L184.9 732.7M72.6 669.6L72.6 669.6L72.8 669.9L73.2 670.7L74.1 672.1L75.6 674.4L77.8 677.5L80.9 681.5L84.9 686.3L90.2 691.7L96.7 697.5L104.7 703.6L114.2 709.9L125.6 716.2L138.7 722.5L154 728.7L171.3 734.8M59.8 669.1L59.8 669.1L59.8 669.2L60.1 669.5L60.5 670L61.2 670.8L62.3 672L63.7 673.5L65.7 675.3L68.2 677.4L71.4 679.7L75.2 682.2L79.9 684.7L85.3 687.3L91.7 689.9L99 692.5L107.4 695.1M59.8 675.4L59.8 675.4L60 675.7L60.5 676.6L61.5 678.1L63.1 680.5L65.6 683.6L69.1 687.3L73.7 691.4L79.5 695.8L86.9 700.4L95.9 704.9L106.7 709.3L119.4 713.6L134.3 717.8L151.4 721.8L171 725.7M59.8 657.5L59.8 657.6L60 658.2L60.7 659.9L62.1 662.8L64.3 666.9L67.7 671.8L72.3 677.3L78.5 683L86.5 688.7L96.5 694.2L108.6 699.5L123.2 704.6L140.4 709.4L160.5 713.9L183.6 718.2L210.1 722.3M59.8 655.4L59.8 655.4L59.8 655.6L60 656L60.4 656.9L61.1 658.3L62 660.1L63.4 662.4L65.1 665.1L67.4 668L70.3 671.2L73.8 674.4L77.9 677.6L82.9 680.9L88.6 684.1L95.3 687.2L102.8 690.2M59.8 678L59.8 678L60 678.3L60.5 679.1L61.6 680.6L63.4 682.9L66.1 685.8L69.8 689.4L74.7 693.3L81 697.5L89 701.8L98.6 706L110.2 710.2L123.9 714.3L139.9 718.2L158.3 721.9L179.4 725.5M59.8 673.9L59.8 673.9L60 674.3L60.5 675.3L61.4 677.2L63 680.1L65.4 683.9L68.8 688.5L73.2 693.7L78.9 699.2L86 704.8L94.7 710.4L105.1 716L117.4 721.4L131.8 726.7L148.3 731.7L167.3 736.6M59.8 669.4L59.8 669.4L59.9 669.8L60.4 670.7L61.3 672.4L62.7 675L64.9 678.3L67.9 682.3L71.9 686.7L77.1 691.4L83.5 696.1L91.4 700.8L100.9 705.4L112 709.9L125 714.2L140 718.3L157.2 722.3M84.3 675L84.3 675.1L84.4 675.2L84.8 675.5L85.5 676.1L86.7 677L88.5 678.4L91 680.2L94.4 682.4L98.6 685.1L103.9 688.2L110.5 691.5L118.3 695.2L127.5 699L138.2 703L150.7 707L164.8 711.1M63.7 696.1L63.7 696.2L63.9 696.3L64.5 696.7L65.6 697.5L67.4 698.7L70.1 700.3L73.9 702.3L79 704.5L85.4 706.9L93.5 709.4L103.4 711.9L115.2 714.5L129.2 716.9L145.5 719.3L164.3 721.6L185.8 723.9M85.3 709.3L85.3 709.3L85.5 709.5L85.9 709.9L86.7 710.7L88 712.1L90 714L92.7 716.5L96.4 719.5L101.1 723.1L106.9 727.2L114.1 731.6L122.7 736.2L132.8 741L144.7 745.9L158.3 750.9L173.9 755.8M71.6 694.2L71.6 694.2L71.7 694.3L72 694.5L72.5 695L73.4 695.8L74.7 697L76.6 698.5L79 700.4L82.2 702.6L86.1 705.1L90.9 707.9L96.7 710.8L103.5 713.8L111.4 717L120.6 720.2L131.1 723.3M59.8 675.7L59.8 675.7L59.9 676L60.4 676.7L61.2 678L62.5 680L64.6 682.6L67.4 685.9L71.2 689.5L76.1 693.5L82.1 697.6L89.5 701.7L98.4 705.7L108.9 709.7L121.2 713.6L135.3 717.4L151.5 721M59.8 665.7L59.8 665.8L60 666.3L60.6 667.6L61.8 670.1L63.7 673.7L66.5 678.4L70.5 683.9L75.8 690L82.6 696.3L91 702.7L101.4 709L113.8 715.1L128.5 721L145.6 726.7L165.3 732.2L187.9 737.4M59.8 687.5L59.8 687.5L59.9 687.8L60.2 688.4L60.9 689.6L61.9 691.4L63.5 693.9L65.7 696.9L68.7 700.3L72.5 704L77.2 707.8L83 711.7L90 715.5L98.2 719.3L107.7 722.9L118.8 726.5L131.4 729.9M80.2 701.5L80.2 701.6L80.4 701.9L81 702.6L82.1 703.9L83.9 706L86.7 709L90.5 712.8L95.7 717.3L102.2 722.5L110.5 728.1L120.5 734L132.5 740L146.7 746.2L163.3 752.2L182.4 758.3L204.3 764.2M77.1 690.7L77.1 690.7L77.2 690.7L77.4 690.9L77.9 691.1L78.6 691.5L79.7 692.1L81.2 692.8L83.2 693.8L85.8 694.9L89 696.3L93 697.7L97.7 699.3L103.3 701.1L109.8 702.8L117.3 704.7L125.8 706.5M59.8 674.8L59.8 674.8L60 675.1L60.6 676L61.7 677.4L63.6 679.6L66.5 682.4L70.4 685.7L75.7 689.2L82.4 692.8L90.9 696.5L101.2 700.1L113.5 703.5L128.1 706.8L145.1 710L164.7 713.1L187.2 716M59.8 690.9L59.8 691L60 691.4L60.7 692.5L62 694.4L64.2 696.9L67.5 699.9L72 703L78 706.2L85.8 709.3L95.5 712.3L107.3 715.1L121.4 717.8L138.2 720.3L157.7 722.6L180.2 724.8L206 726.9M59.8 673.5L59.8 673.6L59.9 674L60.4 675.2L61.2 677.3L62.7 680.4L64.8 684.3L67.8 688.7L71.7 693.5L76.8 698.4L83.1 703.3L90.8 708.1L100.1 712.7L111.1 717.1L123.8 721.3L138.6 725.3L155.4 729.1M59.8 682.7L59.8 682.7L59.9 683.2L60.3 684.3L61 686.4L62.2 689.4L64 693.3L66.5 697.8L69.8 702.6L74 707.6L79.4 712.5L85.9 717.3L93.6 722L102.8 726.5L113.6 730.8L125.9 734.9L140.1 738.8M59.8 660.2L59.8 660.2L59.8 660.4L60.1 660.9L60.5 661.9L61.3 663.3L62.4 665.3L63.9 667.8L65.9 670.6L68.6 673.8L71.8 677.1L75.8 680.5L80.6 684L86.3 687.4L92.9 690.7L100.5 693.9L109.2 697.1M63.2 702.7L63.3 702.7L63.4 702.9L63.9 703.3L64.8 704.1L66.3 705.4L68.4 707.1L71.5 709.3L75.6 711.9L80.8 714.7L87.3 717.6L95.3 720.7L104.9 723.8L116.2 726.8L129.4 729.8L144.6 732.7L162 735.6M79.6 703L79.6 703L79.7 703L80.1 703.1L80.7 703.4L81.8 703.8L83.4 704.4L85.7 705.2L88.6 706.2L92.5 707.3L97.3 708.6L103.1 710L110.1 711.5L118.4 713L128.1 714.6L139.2 716.1L152 717.7M59.8 676.2L59.8 676.3L59.9 676.5L60.3 677.1L61 678.3L62.2 680.1L64 682.5L66.6 685.6L69.9 689.2L74.2 693.1L79.6 697.3L86.2 701.6L94.1 705.9L103.4 710.2L114.2 714.5L126.7 718.6L141.1 722.6M59.8 671.4L59.8 671.5L60 671.9L60.5 673L61.4 675L63 677.9L65.4 681.7L68.8 686.1L73.3 690.8L79 695.7L86.1 700.6L94.9 705.4L105.3 710.1L117.7 714.6L132.1 718.9L148.8 723L167.8 726.9M59.8 656.7L59.8 656.7L59.9 656.9L60.3 657.5L61 658.5L62.2 660.1L64 662.3L66.5 665L69.8 668.1L74 671.4L79.4 674.9L85.8 678.4L93.6 682L102.8 685.4L113.5 688.8L125.9 692.1L140 695.3M59.8 666.9L59.8 667L60.1 667.6L60.8 669.3L62.2 672.3L64.5 676.7L67.9 682.3L72.7 688.7L79 695.6L87.2 702.7L97.4 709.7L109.9 716.6L124.8 723.3L142.5 729.6L163 735.7L186.8 741.5L213.9 747M59.8 668.2L59.8 668.3L60 668.8L60.5 670.1L61.6 672.5L63.4 676.1L66 680.7L69.8 686.1L74.7 692.1L81 698.2L88.9 704.4L98.6 710.6L110.1 716.6L123.8 722.3L139.8 727.8L158.2 733.1L179.2 738.2M59.8 655.2L59.8 655.2L60 655.8L60.5 657.2L61.6 659.8L63.3 663.4L65.9 668L69.5 673.1L74.3 678.5L80.5 683.9L88.2 689.2L97.6 694.3L108.9 699.2L122.3 703.9L137.8 708.4L155.8 712.6L176.3 716.6M59.8 642.3L59.8 642.3L59.9 642.5L60.2 642.9L60.9 643.7L61.9 644.9L63.5 646.7L65.7 648.9L68.6 651.4L72.4 654.3L77.1 657.4L82.9 660.5L89.7 663.8L97.9 667L107.4 670.2L118.3 673.3L130.8 676.4M73 679.8L73 679.8L73.2 680L73.6 680.4L74.3 681.2L75.6 682.5L77.5 684.2L80.1 686.5L83.7 689.2L88.2 692.2L93.8 695.5L100.7 699.1L109 702.7L118.8 706.3L130.2 710L143.3 713.5L158.3 717.1M63.2 657.3L63.2 657.3L63.3 657.7L63.7 658.7L64.5 660.5L65.8 663.4L67.8 667.3L70.5 672.2L74.1 677.7L78.7 683.9L84.5 690.3L91.6 696.9L100 703.6L110.1 710.1L121.7 716.5L135.2 722.8L150.6 728.8M59.8 673.5L59.8 673.6L60 674L60.6 674.9L61.7 676.7L63.5 679.2L66.3 682.4L70.2 686L75.3 689.8L81.9 693.7L90.1 697.5L100.1 701.2L112.2 704.7L126.4 708.1L143 711.3L162.2 714.4L184 717.3M59.8 672.4L59.8 672.5L60 672.8L60.6 673.8L61.7 675.5L63.5 677.9L66.2 680.8L70 684L75.1 687.4L81.5 690.8L89.7 694.1L99.5 697.2L111.4 700.3L125.4 703.1L141.8 705.8L160.7 708.4L182.2 710.8M59.8 660.4L59.8 660.5L59.9 661L60.2 662.2L60.8 664.5L61.9 667.8L63.4 672.1L65.5 677.2L68.4 682.6L72.1 688.4L76.7 694.1L82.2 699.7L89 705.2L96.9 710.5L106.1 715.6L116.8 720.4L129 725M59.8 696.8L59.8 696.9L59.9 697.1L60.2 697.6L60.9 698.5L62 699.9L63.7 701.8L66 704L69.1 706.5L73 709.1L78 711.8L84 714.5L91.2 717.2L99.7 719.8L109.7 722.3L121.2 724.7L134.3 727M68.9 677L69 677L69.1 677.2L69.6 677.7L70.5 678.7L71.9 680.1L74.1 682.1L77.1 684.6L81 687.5L86.2 690.7L92.6 694.1L100.4 697.6L109.8 701L120.9 704.5L133.8 707.8L148.7 711.1L165.7 714.3M59.8 686.5L59.8 686.5L59.9 686.8L60.4 687.3L61.3 688.4L62.7 690L64.8 692.1L67.8 694.5L71.8 697.3L76.9 700.2L83.2 703.2L91 706.1L100.3 709L111.3 711.8L124.2 714.5L139 717L155.9 719.5M72.3 685.4L72.3 685.5L72.5 685.6L73 686L74 686.7L75.6 687.8L78 689.4L81.3 691.3L85.8 693.6L91.5 696.1L98.6 698.8L107.4 701.6L117.8 704.4L130.2 707.2L144.6 710L161.2 712.8L180.2 715.4M65.9 666.6L65.9 666.6L65.9 666.7L66.1 666.9L66.5 667.4L67.1 668.1L68 669.1L69.2 670.4L70.9 672.1L73 674.1L75.7 676.4L78.9 678.9L82.8 681.7L87.5 684.5L92.8 687.4L99 690.4L106.1 693.4M59.8 696.6L59.8 696.7L60 697L60.6 697.8L61.7 699.2L63.6 701.3L66.4 703.9L70.2 707L75.4 710.3L82 713.7L90.3 717.1L100.4 720.4L112.6 723.6L126.9 726.6L143.6 729.6L162.9 732.4L184.9 735.1M59.8 672.2L59.8 672.2L59.9 672.5L60.2 673.2L60.9 674.4L61.9 676.3L63.5 678.9L65.8 682L68.7 685.5L72.5 689.2L77.3 693.1L83.1 697L90 700.8L98.2 704.6L107.8 708.2L118.9 711.7L131.5 715.1M59.8 661.1L59.8 661.1L59.9 661.6L60.3 662.8L61.1 664.9L62.5 668.2L64.5 672.5L67.2 677.6L70.9 683.2L75.7 689.2L81.6 695.2L88.9 701.2L97.5 707L107.8 712.7L119.7 718.2L133.5 723.4L149.3 728.5M59.8 682.7L59.8 682.8L59.9 683L60.4 683.7L61.3 684.9L62.8 686.8L65.1 689.3L68.2 692.4L72.4 695.9L77.8 699.7L84.5 703.6L92.7 707.6L102.5 711.5L114.2 715.4L127.7 719.1L143.3 722.7L161.2 726.2M59.8 692.8L59.8 692.8L59.9 692.9L60.3 693.4L61 694.2L62.2 695.4L64 697.1L66.5 699.1L69.9 701.6L74.2 704.2L79.5 707.1L86 710L93.9 712.9L103.2 715.8L114 718.6L126.4 721.4L140.7 724.1M59.8 646.1L59.8 646.1L59.9 646.4L60.3 646.9L61.1 648L62.4 649.5L64.4 651.6L67.1 654L70.8 656.6L75.4 659.4L81.3 662.1L88.4 664.9L97 667.6L107.1 670.2L118.8 672.7L132.4 675.1L147.9 677.4M59.8 637.1L59.8 637.1L59.9 637.4L60.4 637.9L61.3 639L62.7 640.6L64.9 642.8L67.9 645.4L72 648.4L77.1 651.6L83.6 655L91.5 658.4L101 661.8L112.1 665.1L125.2 668.3L140.2 671.4L157.4 674.4M59.8 652.2L59.8 652.3L59.9 652.6L60.2 653.5L60.8 655.3L61.8 658L63.3 661.7L65.4 666.4L68.2 671.9L71.7 678L76.2 684.6L81.6 691.4L88.1 698.3L95.8 705.1L104.8 711.9L115.2 718.5L127 724.9M59.8 679.9L59.8 680L59.9 680.3L60.3 681.1L61.2 682.6L62.5 684.8L64.5 687.7L67.3 691.1L71 694.9L75.8 698.8L81.8 702.8L89.1 706.7L97.8 710.6L108.1 714.3L120.2 717.9L134 721.3L149.9 724.6M87 696.1L87 696.1L87.1 696.2L87.3 696.3L87.8 696.6L88.5 697.1L89.7 697.8L91.3 698.7L93.4 699.9L96.2 701.3L99.6 703L103.8 704.9L108.8 707.1L114.7 709.4L121.6 711.9L129.6 714.5L138.7 717.1M59.8 660.2L59.8 660.2L59.9 660.5L60.3 661.2L61.1 662.5L62.4 664.5L64.3 667.1L67 670.4L70.6 674L75.3 678L81 682.1L88.1 686.3L96.5 690.5L106.5 694.5L118.1 698.5L131.5 702.3L146.9 706M77.8 709.7L77.9 709.7L78 709.7L78.3 709.9L78.9 710.2L79.9 710.6L81.3 711.3L83.4 712.1L86.1 713.2L89.6 714.4L94 715.8L99.3 717.3L105.7 718.9L113.3 720.6L122.2 722.3L132.3 724L144 725.7M59.8 668L59.8 668L59.9 668.4L60.2 669.3L60.9 671.1L62 673.6L63.6 677L65.9 681L69 685.4L72.9 690L77.7 694.6L83.7 699.3L90.8 703.8L99.3 708.2L109.1 712.4L120.5 716.4L133.4 720.3M68 670.2L68 670.3L68.2 670.4L68.5 670.9L69.2 671.7L70.4 673L72.2 674.9L74.6 677.2L77.8 680.1L82 683.3L87.1 686.8L93.5 690.6L101 694.4L110 698.3L120.5 702.3L132.5 706.1L146.3 709.9M59.8 688.3L59.8 688.3L59.9 688.5L60.2 689L60.8 689.8L61.9 691.1L63.4 692.9L65.5 695.1L68.4 697.7L72 700.5L76.6 703.5L82.2 706.6L88.9 709.7L96.8 712.7L106 715.7L116.6 718.6L128.7 721.4M59.8 662.6L59.8 662.6L59.8 662.7L60 663L60.4 663.5L60.9 664.4L61.8 665.6L63 667.2L64.6 669.1L66.7 671.3L69.3 673.7L72.4 676.3L76.2 679L80.6 681.8L85.8 684.6L91.8 687.3L98.7 690M73.2 694.8L73.2 694.9L73.4 695.3L74 696.3L75.2 698.1L77.1 701L80 705L84 710L89.3 715.9L96.2 722.3L104.7 729.2L115.1 736.3L127.6 743.5L142.4 750.6L159.6 757.6L179.5 764.5L202.2 771.1M59.8 636.9L59.8 636.9L59.8 637.1L60 637.4L60.3 638.1L60.8 639.1L61.6 640.5L62.6 642.3L64.1 644.5L65.9 646.8L68.2 649.3L71 651.9L74.3 654.5L78.3 657.1L82.9 659.7L88.2 662.2L94.3 664.6M66.1 657.6L66.2 657.7L66.4 658L67 658.8L68.2 660.4L70.1 662.7L73 665.8L77.1 669.4L82.5 673.4L89.5 677.6L98.2 681.9L108.8 686.1L121.5 690.3L136.5 694.3L154 698.2L174.3 701.9L197.4 705.5M59.8 637.8L59.8 637.9L60 638.4L60.7 639.9L62.1 642.5L64.2 646.4L67.5 651.3L72.1 656.9L78.2 663L86 669.1L95.7 675.3L107.6 681.3L121.9 687.1L138.7 692.7L158.4 698L181.1 703.1L207 707.9M59.8 660.8L59.8 660.9L59.9 661.2L60.3 662.1L61.1 663.8L62.3 666.3L64.2 669.8L66.7 674.1L70.2 678.9L74.6 684.1L80.1 689.6L86.9 695.1L95 700.6L104.5 706.1L115.7 711.3L128.5 716.4L143.2 721.3M64.9 675.8L64.9 675.8L65 675.9L65.4 676.3L66.1 677L67.3 678.2L69.1 679.7L71.6 681.7L74.9 684L79.1 686.5L84.4 689.2L90.9 692L98.7 694.8L107.9 697.6L118.6 700.3L130.9 703L145 705.6M59.8 683L59.8 683.1L59.8 683.1L60 683.3L60.4 683.7L61.1 684.2L62 685L63.4 686L65.1 687.2L67.4 688.5L70.3 690L73.8 691.6L77.9 693.3L82.9 695L88.6 696.7L95.3 698.3L102.8 700M59.8 691.3L59.8 691.3L60 691.6L60.5 692.2L61.5 693.2L63.2 694.8L65.7 697L69.3 699.5L73.9 702.3L79.9 705.2L87.5 708.2L96.6 711.2L107.6 714.2L120.6 717L135.8 719.7L153.3 722.4L173.2 724.9M59.8 668.8L59.8 668.9L60 669.4L60.7 670.5L62 672.7L64.1 675.8L67.2 679.9L71.6 684.6L77.4 689.7L84.9 694.9L94.2 700.1L105.7 705.3L119.3 710.2L135.5 715L154.4 719.6L176.1 723.9L201 728.1M87.6 713.7L87.6 713.7L87.8 713.8L88 713.9L88.6 714.1L89.5 714.4L90.9 714.9L92.9 715.6L95.4 716.4L98.7 717.4L102.9 718.6L107.9 719.9L114 721.3L121.1 722.8L129.4 724.4L139 726L150 727.6M59.8 679.9L59.8 679.9L59.9 680.2L60.3 681L60.9 682.5L62.1 684.8L63.8 687.9L66.1 691.8L69.3 696.1L73.3 700.9L78.4 705.9L84.5 710.9L91.9 715.9L100.6 720.9L110.8 725.7L122.6 730.4L136 734.9M73.9 698.5L73.9 698.5L74.1 698.6L74.4 698.9L75 699.4L76.1 700.1L77.7 701.2L79.9 702.6L82.8 704.3L86.5 706.2L91.2 708.4L96.9 710.6L103.8 713L111.9 715.5L121.4 717.9L132.3 720.3L144.8 722.7M59.8 661.2L59.8 661.2L59.9 661.4L60.1 661.9L60.7 662.8L61.6 664.2L62.9 666L64.7 668.2L67.1 670.6L70.3 673.2L74.2 675.8L78.9 678.4L84.7 681L91.4 683.5L99.3 685.9L108.4 688.2L118.8 690.4M59.8 654.2L59.8 654.3L60 654.8L60.5 656.2L61.6 658.6L63.4 662.2L66.1 666.6L69.8 671.8L74.8 677.2L81.2 682.8L89.1 688.3L98.9 693.7L110.5 698.9L124.3 703.8L140.4 708.6L158.9 713.1L180.1 717.3M59.8 674.8L59.8 674.8L59.9 675L60.2 675.5L60.7 676.4L61.6 677.9L63 680L64.9 682.6L67.4 685.7L70.7 689.3L74.7 693.1L79.7 697.1L85.6 701.2L92.6 705.4L100.8 709.5L110.2 713.6L121 717.6M59.8 666.6L59.8 666.6L60 666.9L60.7 667.7L62 669.2L64.1 671.3L67.3 674.1L71.7 677.2L77.6 680.7L85.1 684.2L94.6 687.7L106.1 691.1L119.9 694.4L136.3 697.6L155.3 700.6L177.3 703.5L202.4 706.3M61 654.8L61 654.8L61.2 655L61.7 655.7L62.6 656.8L64.1 658.6L66.4 660.9L69.5 663.8L73.7 667L79 670.5L85.7 674.1L93.9 677.8L103.7 681.4L115.3 684.9L128.8 688.4L144.4 691.7L162.3 694.9M59.8 693.1L59.8 693.1L59.9 693.4L60.4 694.1L61.3 695.4L62.8 697.3L65 699.8L68.1 702.8L72.3 706.2L77.6 709.8L84.2 713.4L92.3 717L102 720.6L113.5 724L126.9 727.4L142.4 730.6L160 733.6M59.8 636.8L59.8 636.9L59.9 637.3L60.2 638.5L60.9 640.8L61.9 644.4L63.5 649.3L65.7 655.4L68.6 662.5L72.3 670.4L77 678.8L82.7 687.5L89.5 696.2L97.6 705L107 713.5L117.8 721.9L130.3 730M59.8 653.9L59.8 653.9L60 654.2L60.4 654.8L61.4 656L62.9 657.8L65.2 660.1L68.4 662.7L72.7 665.6L78.2 668.6L85.1 671.6L93.5 674.5L103.5 677.4L115.4 680.1L129.2 682.8L145.2 685.3L163.5 687.7M70.4 704.4L70.4 704.4L70.6 704.5L71.2 704.9L72.3 705.6L74.2 706.7L77 708.2L81 710L86.2 712.2L92.9 714.5L101.3 717L111.5 719.6L123.8 722.1L138.3 724.7L155.2 727.2L174.7 729.6L197 732M59.8 659.1L59.8 659.2L60 659.6L60.7 660.9L62 663.1L64.1 666.3L67.3 670.5L71.7 675.3L77.6 680.5L85.1 685.8L94.6 691.2L106.1 696.4L119.9 701.4L136.3 706.3L155.3 710.9L177.3 715.3L202.4 719.6M59.8 653.8L59.8 653.9L60 654.8L60.7 657.3L62.1 661.4L64.3 667.2L67.6 674L72.3 681.4L78.4 688.9L86.4 696.3L96.2 703.4L108.3 710.1L122.8 716.5L139.9 722.6L159.9 728.3L182.9 733.7L209.2 738.8M79.3 701.7L79.3 701.7L79.4 701.7L79.7 701.9L80.3 702.3L81.2 702.9L82.6 703.7L84.5 704.9L87.1 706.3L90.4 708L94.5 709.9L99.5 712.1L105.5 714.4L112.6 716.8L120.9 719.4L130.5 721.9L141.4 724.6M59.8 666.7L59.8 666.7L59.9 667L60.3 667.7L61 669L62.2 671L64 673.8L66.5 677.2L69.8 681.1L74.1 685.3L79.4 689.7L85.9 694.3L93.7 698.8L102.9 703.3L113.6 707.7L126 711.9L140.1 716M59.8 662L59.8 662.1L60 662.6L60.7 663.9L61.9 666.2L64 669.6L67.1 674L71.4 679.2L77.2 684.9L84.6 690.7L93.8 696.7L105.1 702.5L118.6 708.1L134.6 713.6L153.2 718.8L174.7 723.8L199.3 728.6M76.4 698.8L76.4 698.9L76.5 698.9L76.8 699L77.3 699.3L78.3 699.6L79.7 700.2L81.6 700.9L84.2 701.8L87.5 702.9L91.6 704.1L96.6 705.4L102.6 706.9L109.8 708.3L118.1 709.9L127.7 711.4L138.6 713M59.8 667.5L59.8 667.6L59.9 668L60.4 668.9L61.3 670.7L62.8 673.5L65.1 677.2L68.2 681.6L72.4 686.7L77.7 692.1L84.4 697.7L92.6 703.3L102.4 708.9L114 714.4L127.5 719.7L143.1 724.8L160.9 729.7M59.8 676.9L59.8 676.9L59.9 677.3L60.3 678.3L61.1 680.1L62.3 682.9L64.1 686.6L66.7 691.1L70.2 696.1L74.6 701.6L80.1 707.2L86.8 712.9L94.9 718.5L104.4 724L115.5 729.4L128.3 734.5L143 739.5M65.7 698.4L65.7 698.4L65.9 698.6L66.4 698.9L67.3 699.5L68.8 700.4L71.1 701.6L74.3 703.2L78.5 704.9L83.9 706.9L90.6 708.9L98.9 710.9L108.8 713L120.5 715L134.1 717L149.8 718.9L167.8 720.7M72.1 685L72.1 685L72.2 685.1L72.5 685.3L73 685.6L73.9 686.2L75.3 687L77.1 688.1L79.6 689.4L82.8 690.9L86.7 692.6L91.6 694.4L97.4 696.4L104.3 698.3L112.3 700.3L121.5 702.3L132.1 704.3M59.8 636.7L59.8 636.8L60 637.3L60.6 638.6L61.8 640.9L63.7 644.3L66.6 648.7L70.6 653.7L76 659L82.8 664.5L91.4 670L101.9 675.3L114.5 680.4L129.3 685.3L146.6 690L166.6 694.4L189.5 698.7M78.3 716.6L78.3 716.7L78.4 716.7L78.8 716.9L79.6 717.3L80.8 717.8L82.6 718.6L85.2 719.6L88.6 720.9L93 722.3L98.4 723.9L105.1 725.6L113.1 727.4L122.6 729.3L133.6 731.1L146.4 732.9L160.9 734.8M76.3 679.9L76.3 679.9L76.5 680.2L77 680.8L78 682L79.6 683.9L82 686.6L85.4 689.9L89.9 693.8L95.6 698.2L102.8 702.9L111.6 707.8L122.2 712.7L134.7 717.7L149.2 722.7L166 727.5L185.1 732.2M59.8 656L59.8 656.1L60 656.6L60.7 657.8L62.1 659.9L64.3 663.2L67.5 667.4L72.1 672.2L78.2 677.5L86.1 683L95.8 688.6L107.8 694L122.1 699.3L139.1 704.4L158.8 709.3L181.6 713.9L207.6 718.4M86.2 677.1L86.3 677.1L86.4 677.2L86.8 677.4L87.5 677.7L88.7 678.3L90.4 679.2L92.9 680.4L96.2 681.8L100.4 683.5L105.7 685.4L112.1 687.5L119.9 689.7L129 692L139.7 694.5L151.9 696.9L166 699.3M60.6 663L60.7 663L60.8 663.4L61.2 664.4L62 666.3L63.4 669L65.3 672.8L68.1 677.2L71.8 682.2L76.5 687.6L82.4 693.1L89.7 698.6L98.3 704L108.5 709.4L120.5 714.5L134.2 719.4L149.9 724.2M83.6 688.7L83.6 688.7L83.8 688.8L84.2 688.9L85.1 689.3L86.6 689.8L88.7 690.6L91.8 691.5L95.8 692.7L101 694.1L107.4 695.6L115.3 697.2L124.8 698.9L136 700.6L149.1 702.4L164.1 704.1L181.3 705.8M59.8 652L59.8 652.1L60.1 652.7L60.8 654.2L62.3 657L64.6 660.9L68.2 665.7L73.2 671L79.8 676.5L88.3 682L98.9 687.4L111.9 692.5L127.5 697.4L145.8 702.1L167.3 706.5L192 710.7L220.3 714.7M59.8 647L59.8 647L59.9 647.2L60.2 647.6L60.9 648.5L62 649.8L63.7 651.5L66 653.7L69 656.2L73 659L77.9 661.9L83.9 664.9L91.1 667.9L99.6 670.8L109.6 673.7L121 676.5L134.1 679.3M59.8 675.5L59.8 675.6L60 676.2L60.6 677.7L61.8 680.5L63.7 684.6L66.7 689.9L70.7 696L76.1 702.7L83 709.5L91.7 716.4L102.3 723.1L115 729.6L129.9 735.8L147.4 741.8L167.6 747.5L190.6 753M59.8 681.3L59.8 681.3L59.9 681.5L60.3 682L61.1 682.9L62.5 684.4L64.4 686.3L67.2 688.7L70.8 691.5L75.5 694.6L81.4 697.8L88.6 701L97.2 704.3L107.3 707.5L119.2 710.7L132.8 713.7L148.5 716.7M64 669.6L64 669.7L64.2 670L64.7 670.8L65.6 672.3L67.2 674.5L69.4 677.6L72.6 681.2L76.9 685.4L82.3 689.8L89.1 694.5L97.4 699.1L107.4 703.7L119.2 708.2L132.9 712.5L148.8 716.7L166.9 720.7M75 701.7L75 701.7L75.2 701.8L75.5 702L76.2 702.4L77.3 703L78.9 703.8L81.2 704.9L84.3 706.3L88.2 707.8L93.1 709.6L99 711.4L106.2 713.3L114.7 715.2L124.5 717.2L135.9 719.2L148.9 721.1M62.1 690.5L62.2 690.6L62.4 690.8L62.9 691.5L64 692.7L65.9 694.6L68.6 697.1L72.4 700.1L77.5 703.6L84 707.2L92.1 711L102 714.7L113.9 718.5L128 722.1L144.3 725.6L163.3 729L184.9 732.3M59.8 682.6L59.8 682.6L59.9 682.9L60.4 683.7L61.2 685.2L62.5 687.5L64.6 690.6L67.4 694.3L71.2 698.5L76 703.1L82.1 707.8L89.5 712.5L98.4 717.3L108.8 721.9L121.1 726.3L135.2 730.7L151.3 734.8M59.8 661.9L59.8 661.9L60 662.5L60.6 663.8L61.9 666.2L63.9 669.9L66.9 674.6L71.1 680.1L76.7 686.1L83.9 692.4L92.9 698.7L103.9 704.9L117.1 711L132.7 716.9L150.8 722.5L171.8 727.8L195.7 733M59.8 669.6L59.8 669.6L59.9 669.8L60.2 670.3L60.7 671.2L61.7 672.6L63 674.5L65 676.7L67.6 679.2L70.9 681.9L75 684.6L80.1 687.4L86.1 690.1L93.3 692.7L101.6 695.3L111.3 697.8L122.3 700.1M59.8 654.7L59.8 654.7L59.9 655.3L60.2 656.9L60.9 659.7L62 663.9L63.6 669.3L65.9 675.6L68.9 682.3L72.8 689.3L77.7 696.3L83.6 703.2L90.7 709.8L99.1 716.2L108.9 722.4L120.3 728.2L133.2 733.8M59.8 637.9L59.8 638L60 638.5L60.7 639.6L61.9 641.8L64 645L67 649.2L71.3 654.2L77 659.6L84.4 665.4L93.5 671.2L104.7 677L118.1 682.7L133.9 688.2L152.4 693.4L173.7 698.5L198.1 703.3M59.8 656.1L59.8 656.1L59.9 656.5L60.4 657.5L61.3 659.2L62.7 661.6L64.9 664.7L68 668.1L72 671.7L77.2 675.3L83.7 678.8L91.6 682.2L101.1 685.5L112.4 688.6L125.5 691.6L140.6 694.4L157.9 697.1M59.8 689.2L59.8 689.3L60 689.8L60.6 691.2L61.9 693.5L63.9 696.8L66.9 700.8L71.2 705.1L76.8 709.5L84 713.9L93 718.1L104 722.2L117.2 726.1L132.8 729.7L151 733.1L172 736.4L196 739.5M59.8 654L59.8 654.1L59.9 654.3L60.2 654.9L60.9 656.1L62 657.9L63.6 660.4L65.8 663.4L68.8 666.9L72.6 670.8L77.4 674.9L83.3 679.1L90.3 683.2L98.6 687.4L108.2 691.5L119.4 695.4L132.1 699.2M70.4 695.2L70.5 695.2L70.7 695.6L71.4 696.4L72.6 698.1L74.7 700.6L77.9 703.9L82.3 707.9L88.1 712.4L95.6 717.3L105 722.3L116.4 727.3L130.1 732.3L146.3 737.2L165.2 741.9L187 746.4L211.9 750.8M59.8 658.8L59.8 658.8L60 659.4L60.5 660.7L61.5 663.2L63.2 666.6L65.7 670.8L69.1 675.5L73.7 680.4L79.7 685.2L87.1 690L96.1 694.6L107 699L119.8 703.1L134.8 707.1L152 710.8L171.7 714.4M59.8 633.3L59.8 633.4L60 634.1L60.4 635.9L61.4 639.2L62.9 644.1L65.2 650.7L68.4 658.5L72.6 667.1L78.1 676.3L84.9 685.6L93.2 694.9L103.1 704L114.9 712.9L128.6 721.4L144.5 729.6L162.6 737.5M59.8 690.1L59.8 690.2L59.9 690.3L60.3 690.9L61.1 691.8L62.4 693.2L64.3 695L67 697.1L70.6 699.4L75.1 701.8L80.8 704.2L87.8 706.6L96.2 708.9L106.1 711.2L117.6 713.3L131 715.4L146.2 717.3M59.8 657.7L59.8 657.8L60.1 658.3L60.8 659.7L62.2 662.2L64.5 665.8L67.9 670.6L72.7 676.1L79.1 682L87.3 688.2L97.6 694.4L110.1 700.5L125.2 706.4L142.9 712L163.6 717.4L187.5 722.6L214.8 727.6M59.8 665.9L59.8 665.9L59.9 666.4L60.4 667.6L61.2 669.7L62.6 672.9L64.7 677L67.5 681.7L71.4 686.9L76.3 692.2L82.5 697.6L90 702.9L99 708L109.6 713L122.1 717.7L136.4 722.2L152.8 726.5M59.8 655.3L59.8 655.4L60 655.9L60.6 657.3L61.7 659.9L63.5 663.8L66.2 668.9L70 675.1L75.1 682L81.6 689.4L89.8 696.9L99.7 704.3L111.6 711.7L125.7 718.9L142.1 725.8L161 732.5L182.6 738.8M59.8 699.6L59.8 699.6L59.8 699.7L60 699.8L60.3 700.1L60.8 700.6L61.5 701.2L62.6 702L64 703L65.8 704.1L68 705.3L70.7 706.6L74 707.9L77.9 709.2L82.4 710.5L87.6 711.8L93.6 713.1M59.8 700.9L59.8 700.9L59.9 701.1L60.4 701.7L61.3 702.7L62.9 704.2L65.1 706.2L68.3 708.5L72.5 710.9L77.9 713.5L84.7 716L93 718.5L102.9 720.9L114.6 723.2L128.2 725.4L143.9 727.6L161.9 729.6M59.8 635.8L59.8 635.8L59.9 636L60.3 636.6L61 637.7L62.2 639.3L64 641.4L66.4 644L69.7 647L73.9 650.2L79.2 653.4L85.6 656.7L93.4 659.9L102.5 663.1L113.1 666.2L125.4 669.1L139.4 672M59.8 670.8L59.8 670.9L59.9 671.1L60.2 671.7L60.9 672.8L62 674.4L63.7 676.4L66.1 678.8L69.2 681.4L73.1 684.2L78.1 686.9L84.2 689.6L91.5 692.2L100.1 694.7L110.2 697.2L121.8 699.5L135 701.7M59.8 649.2L59.8 649.3L59.9 649.6L60.3 650.5L61.2 652.1L62.5 654.5L64.5 657.6L67.3 661.3L71.1 665.4L75.9 669.7L81.9 674L89.2 678.4L98 682.6L108.3 686.7L120.4 690.6L134.4 694.4L150.3 698M59.8 682.1L59.8 682.2L59.9 682.4L60.3 683.1L61 684.3L62.3 686.2L64.1 688.8L66.7 691.9L70.1 695.5L74.5 699.4L79.9 703.5L86.6 707.7L94.7 711.8L104.1 715.9L115.2 719.9L127.9 723.8L142.5 727.5M59.8 654.5L59.8 654.5L59.8 654.6L60 654.9L60.5 655.5L61.1 656.3L62.1 657.5L63.5 659L65.4 660.9L67.7 663L70.7 665.3L74.4 667.8L78.7 670.4L83.9 673L89.9 675.6L96.8 678.3L104.7 680.8M59.8 683.7L59.8 683.8L60 684.1L60.7 684.9L61.9 686.5L64 688.7L67 691.4L71.3 694.6L77 697.9L84.3 701.3L93.5 704.6L104.6 707.9L118 711L133.8 714L152.3 716.9L173.6 719.6L197.9 722.2M74.6 704L74.6 704L74.7 704.1L75 704.3L75.6 704.5L76.7 705L78.2 705.7L80.3 706.6L83.2 707.7L86.8 708.9L91.4 710.4L96.9 711.9L103.6 713.6L111.5 715.2L120.7 717L131.3 718.7L143.4 720.4M59.8 695.8L59.8 695.8L60 696.1L60.5 696.7L61.5 697.9L63.2 699.8L65.7 702.2L69.1 705.1L73.8 708.3L79.7 711.7L87.1 715.3L96.2 718.8L107.1 722.2L119.9 725.6L134.9 728.8L152.2 732L171.9 734.9M59.8 638.5L59.8 638.6L59.9 639.1L60.4 640.4L61.2 642.9L62.6 646.6L64.7 651.4L67.6 657.2L71.5 663.6L76.5 670.3L82.7 677.2L90.3 684L99.4 690.6L110.1 697.1L122.7 703.3L137.2 709.3L153.7 715.1M59.8 636.9L59.8 637L59.8 637.4L60.1 638.4L60.5 640.5L61.2 643.6L62.2 648L63.6 653.5L65.5 660L68 667.3L71 675.1L74.7 683.3L79.2 691.5L84.5 699.8L90.6 708L97.7 716L105.8 723.9M59.8 663.8L59.8 663.9L60 664.6L60.7 666.2L62 669.1L64.2 673.2L67.5 678.2L72 683.8L78 689.6L85.8 695.5L95.5 701.1L107.3 706.6L121.5 711.8L138.2 716.8L157.7 721.5L180.3 725.9L206 730.2M67.4 680.6L67.5 680.6L67.7 680.9L68.3 681.8L69.4 683.4L71.3 685.9L74.1 689.2L78 693.3L83.2 697.9L89.9 702.9L98.3 708.1L108.5 713.3L120.7 718.5L135.1 723.5L152 728.5L171.4 733.2L193.6 737.8M87.7 711.4L87.7 711.4L87.9 711.5L88.4 711.7L89.3 712.1L90.9 712.7L93.2 713.6L96.5 714.7L100.8 716.1L106.4 717.8L113.4 719.7L121.9 721.7L132.1 723.9L144.1 726.2L158.2 728.5L174.4 730.8L192.9 733.1M59.8 688.9L59.8 688.9L59.9 689.1L60.2 689.6L60.9 690.5L62 691.9L63.7 693.8L66 696.1L69 698.7L73 701.5L77.9 704.4L83.9 707.3L91 710.2L99.5 713L109.4 715.8L120.9 718.5L133.9 721.1M59.8 694.8L59.8 694.8L59.9 695L60.2 695.6L60.9 696.6L61.9 698.1L63.5 700.1L65.7 702.5L68.7 705.2L72.5 707.9L77.2 710.8L83 713.6L89.9 716.4L98.1 719.1L107.6 721.7L118.7 724.2L131.2 726.6M87 677.4L87 677.4L87.1 677.4L87.5 677.6L88.2 677.9L89.4 678.5L91.2 679.3L93.7 680.3L97 681.6L101.2 683.1L106.5 684.8L113 686.7L120.7 688.8L129.9 690.9L140.6 693.1L152.9 695.4L167 697.7M59.8 633.8L59.8 633.9L60 634.5L60.6 636.1L61.7 639.1L63.6 643.2L66.3 648.5L70.2 654.3L75.3 660.5L82 666.7L90.2 672.8L100.3 678.7L112.4 684.4L126.7 689.8L143.3 694.9L162.5 699.8L184.5 704.4M59.8 652.2L59.8 652.3L60 652.7L60.5 653.9L61.4 656.1L63 659.3L65.4 663.6L68.6 668.8L73 674.6L78.7 680.7L85.7 687L94.3 693.2L104.6 699.3L116.7 705.3L130.9 711.1L147.3 716.6L166 722M59.8 629.5L59.8 629.6L59.9 630.2L60.3 631.9L61.1 634.9L62.4 639.5L64.4 645.5L67.1 652.7L70.7 660.6L75.4 668.9L81.2 677.4L88.3 685.8L96.9 694.1L106.9 702.1L118.7 709.8L132.2 717.2L147.7 724.3M59.8 653.4L59.8 653.5L60 654.2L60.7 656.1L62.1 659.4L64.3 664L67.5 669.5L72.1 675.6L78.2 681.8L86.1 688L95.8 694L107.8 699.8L122.1 705.3L139 710.4L158.8 715.3L181.5 720L207.5 724.4M59.8 633.2L59.8 633.2L59.9 633.7L60.4 635L61.2 637.3L62.7 640.8L64.8 645.5L67.8 651.1L71.7 657.4L76.8 664.2L83.1 671.1L90.9 678L100.2 684.8L111.2 691.4L124 697.9L138.7 704.1L155.6 710M59.8 668.1L59.8 668.1L59.9 668.3L60.2 668.9L60.9 669.9L62 671.4L63.7 673.4L66 675.6L69.1 678L73.1 680.5L78.1 683L84.1 685.4L91.4 687.8L100 690.1L110 692.2L121.6 694.3L134.8 696.3M59.8 667.8L59.8 667.9L59.9 668.2L60.2 669L60.9 670.5L62 672.7L63.6 675.7L65.8 679.4L68.8 683.4L72.7 687.8L77.5 692.2L83.4 696.7L90.5 701.1L98.8 705.4L108.5 709.6L119.7 713.6L132.5 717.4M59.8 651.6L59.8 651.7L59.9 652.2L60.4 653.5L61.2 656L62.6 659.6L64.7 664.4L67.6 670L71.5 676.1L76.4 682.5L82.6 689L90.2 695.4L99.3 701.6L110 707.6L122.6 713.4L137 718.9L153.5 724.2M72.6 695.8L72.6 695.8L72.7 695.9L73 696.2L73.5 696.6L74.4 697.3L75.7 698.3L77.5 699.7L79.9 701.4L83 703.3L86.8 705.6L91.5 708L97.1 710.6L103.8 713.3L111.5 716.1L120.5 719L130.7 721.8M69.4 689.6L69.4 689.6L69.5 689.8L70 690.4L70.8 691.3L72.2 692.9L74.3 695.1L77.2 697.9L81 701.2L85.9 704.9L92.1 708.9L99.7 713.2L108.7 717.5L119.4 721.9L131.8 726.3L146.2 730.6L162.6 734.8M67.5 702.1L67.5 702.2L67.6 702.3L67.9 702.7L68.4 703.3L69.4 704.4L70.8 706L72.7 707.9L75.3 710.4L78.7 713.1L82.8 716.2L87.9 719.4L94.1 722.8L101.3 726.3L109.7 729.8L119.4 733.3L130.5 736.7M90.8 714.3L90.8 714.3L90.8 714.3L91 714.4L91.2 714.6L91.6 714.8L92.2 715.2L93.1 715.7L94.2 716.4L95.6 717.3L97.4 718.3L99.6 719.5L102.2 720.9L105.3 722.5L109 724.3L113.1 726.1L117.9 728.2M67.8 710.8L67.8 710.8L67.9 710.9L68 711.1L68.4 711.4L68.9 712.1L69.7 713L70.8 714.2L72.3 715.7L74.2 717.6L76.6 719.7L79.5 722L82.9 724.5L87 727.2L91.8 730L97.4 732.8L103.7 735.7M76.9 705.7L76.9 705.7L77 705.8L77.3 706L77.8 706.5L78.6 707.2L79.8 708.2L81.5 709.6L83.8 711.2L86.7 713.3L90.4 715.6L94.8 718.1L100.2 720.8L106.5 723.7L113.8 726.7L122.3 729.7L132 732.7M98.4 713.7L98.4 713.7L98.5 713.7L98.7 713.8L99.1 714L99.8 714.4L100.8 714.8L102.2 715.5L104.1 716.3L106.5 717.4L109.5 718.6L113.2 720L117.6 721.6L122.8 723.4L128.9 725.2L135.9 727.3L143.9 729.4M59.8 686.7L59.8 686.8L59.9 687.2L60.3 688.4L61 690.5L62.1 693.6L63.8 697.6L66.2 702.2L69.3 707.2L73.4 712.4L78.4 717.5L84.6 722.6L92 727.6L100.8 732.3L111 736.9L122.8 741.2L136.3 745.3M76.4 713.2L76.4 713.2L76.5 713.3L76.8 713.5L77.2 713.9L77.9 714.5L79 715.4L80.5 716.6L82.5 718.1L85.1 720L88.3 722.1L92.2 724.5L97 727.1L102.5 729.9L109 732.9L116.5 735.9L125.1 739M64 689.8L64.1 689.8L64.2 690.1L64.6 690.6L65.4 691.6L66.6 693.2L68.5 695.4L71.1 698.1L74.6 701.2L79 704.7L84.6 708.4L91.4 712.2L99.6 716L109.2 719.7L120.5 723.5L133.4 727.1L148.2 730.6M60.5 681.4L60.5 681.5L60.7 681.8L61.1 682.7L62 684.3L63.4 686.9L65.5 690.3L68.4 694.6L72.2 699.5L77.2 704.9L83.4 710.6L91 716.4L100 722.2L110.8 727.9L123.3 733.5L137.7 738.9L154.2 744.2M79.1 691.8L79.1 691.8L79.2 691.9L79.6 692.2L80.4 692.8L81.7 693.8L83.6 695.2L86.3 697.1L89.9 699.3L94.5 702L100.2 704.9L107.2 708.1L115.6 711.5L125.5 715.1L137.1 718.7L150.4 722.3L165.7 725.9M96.6 719.4L96.6 719.4L96.7 719.4L96.7 719.5L96.9 719.6L97.2 719.8L97.6 720L98.2 720.3L99 720.8L100.1 721.4L101.4 722.1L102.9 722.9L104.8 723.9L107.1 725L109.7 726.2L112.7 727.6L116.1 729M66.7 707.5L66.7 707.5L66.8 707.6L67 707.8L67.4 708.3L68 709L69.1 710L70.5 711.3L72.3 712.9L74.7 714.9L77.7 717L81.3 719.4L85.7 722L90.9 724.6L96.9 727.4L103.9 730.1L111.8 732.9M99.6 724.8L99.6 724.8L99.7 724.8L99.8 724.9L100 725L100.3 725.2L100.8 725.5L101.5 725.9L102.4 726.4L103.6 727.1L105.1 727.9L106.9 728.8L109.1 729.9L111.7 731.2L114.7 732.6L118.2 734.1L122.1 735.8M67.5 706L67.5 706L67.6 706L67.8 706.2L68.2 706.6L68.9 707.2L69.9 708.1L71.2 709.3L73.1 710.7L75.4 712.4L78.4 714.4L82 716.6L86.3 718.9L91.4 721.4L97.3 723.9L104.1 726.4L112 729M92.8 716.2L92.8 716.2L92.9 716.2L93 716.3L93.3 716.5L93.8 716.9L94.6 717.4L95.6 718.1L97 718.9L98.8 720L101.1 721.4L103.8 722.9L107.1 724.6L111 726.6L115.5 728.7L120.7 731L126.7 733.5M69.7 706.1L69.7 706.2L69.7 706.2L69.9 706.4L70.3 706.8L70.9 707.3L71.9 708.1L73.2 709.2L74.9 710.5L77.2 712.2L80 714L83.4 716.1L87.4 718.3L92.3 720.6L97.9 723.1L104.4 725.6L111.8 728.1M60.6 686.1L60.6 686.1L60.7 686.3L61 686.7L61.6 687.6L62.5 688.9L63.9 690.7L65.9 693L68.5 695.6L71.8 698.5L76 701.6L81.1 704.8L87.3 708L94.5 711.2L102.9 714.4L112.7 717.4L123.8 720.4M63.9 684.6L63.9 684.6L64 684.8L64.4 685.2L65.2 686.1L66.4 687.4L68.3 689.2L70.8 691.4L74.3 694.1L78.7 697.1L84.2 700.4L91 703.8L99.1 707.2L108.6 710.7L119.8 714.2L132.6 717.5L147.3 720.8M63.2 680.3L63.2 680.3L63.4 680.6L63.7 681.2L64.3 682.5L65.4 684.4L67 687.1L69.1 690.5L72.1 694.5L75.8 699L80.5 703.8L86.2 708.9L93 714L101.1 719.1L110.6 724.2L121.5 729.2L133.9 734.1M64.6 690.5L64.6 690.5L64.7 690.7L65 691.4L65.6 692.6L66.6 694.4L68.1 696.9L70.1 700.1L72.8 703.8L76.3 707.9L80.7 712.2L86 716.7L92.4 721.2L100 725.7L108.8 730.1L119 734.4L130.6 738.6M69.2 692.1L69.3 692.1L69.4 692.3L69.8 692.8L70.6 693.7L72 695.2L74 697.3L76.7 699.8L80.5 702.8L85.2 706.2L91.1 709.8L98.4 713.5L107.1 717.2L117.4 721L129.4 724.7L143.2 728.3L159 731.8M65.4 692.7L65.4 692.7L65.6 692.9L65.9 693.6L66.6 694.8L67.8 696.7L69.6 699.3L72 702.5L75.2 706.2L79.4 710.3L84.6 714.6L91 719L98.6 723.4L107.6 727.8L118.1 732.1L130.2 736.3L144.1 740.3M69.5 696.3L69.5 696.3L69.6 696.5L70 696.9L70.8 697.7L72.1 699L74 700.9L76.6 703.1L80.2 705.8L84.7 708.8L90.3 712L97.3 715.4L105.6 718.8L115.4 722.2L126.8 725.5L140 728.8L155 732M68 701.1L68 701.1L68.1 701.3L68.3 701.7L68.8 702.5L69.7 703.7L70.9 705.5L72.7 707.8L75 710.6L78 713.8L81.7 717.4L86.2 721.2L91.7 725.2L98.1 729.3L105.6 733.5L114.2 737.6L124.1 741.7M60.4 696.4L60.5 696.4L60.5 696.7L60.7 697.2L61.1 698.3L61.8 699.9L62.8 702.1L64.2 704.8L66.1 708L68.5 711.5L71.5 715.2L75.2 718.9L79.6 722.7L84.8 726.5L90.8 730.2L97.8 733.8L105.8 737.2M69.4 687.3L69.5 687.3L69.6 687.5L69.9 687.9L70.6 688.7L71.7 690L73.3 691.9L75.6 694.2L78.6 697.1L82.4 700.3L87.3 703.8L93.2 707.5L100.2 711.3L108.6 715.1L118.3 719L129.6 722.8L142.4 726.5M60.2 688L60.2 688L60.3 688.2L60.5 688.8L60.9 689.7L61.6 691.2L62.7 693.3L64.2 696L66.1 699.1L68.7 702.6L71.8 706.3L75.7 710.1L80.3 714.1L85.8 718L92.1 721.8L99.5 725.6L107.9 729.3M80.1 707.9L80.1 707.9L80.2 708L80.4 708.1L80.8 708.4L81.5 708.9L82.6 709.7L84 710.6L86 711.9L88.5 713.4L91.7 715.1L95.5 717L100.1 719.2L105.6 721.4L111.9 723.8L119.2 726.2L127.6 728.7M76 710.1L76 710.1L76.1 710.2L76.3 710.5L76.9 711L77.7 711.8L79 712.9L80.9 714.5L83.3 716.4L86.4 718.7L90.3 721.3L95 724.1L100.7 727.2L107.4 730.4L115.2 733.8L124.2 737.2L134.6 740.6M63.9 692.2L63.9 692.2L64 692.4L64.3 693L64.9 694L65.9 695.6L67.4 697.9L69.5 700.8L72.2 704.3L75.8 708.3L80.2 712.6L85.6 717.1L92.1 721.8L99.8 726.5L108.8 731.2L119.1 735.9L130.9 740.4M65.8 692.1L65.8 692.1L65.9 692.3L66.3 692.9L66.9 693.9L68 695.5L69.6 697.8L71.8 700.8L74.8 704.3L78.6 708.3L83.3 712.6L89.1 717.2L96.1 721.9L104.3 726.6L113.9 731.4L125 736L137.7 740.6M80.4 711.7L80.4 711.7L80.5 711.8L80.7 712L81.2 712.3L81.9 712.9L83 713.6L84.6 714.7L86.6 716L89.2 717.6L92.5 719.4L96.5 721.5L101.3 723.7L107 726.1L113.6 728.6L121.2 731.1L130 733.7M64.5 702L64.6 702L64.6 702.1L64.8 702.3L65.1 702.7L65.6 703.4L66.3 704.4L67.3 705.6L68.7 707.2L70.5 709L72.7 711.1L75.3 713.3L78.6 715.7L82.4 718.2L86.8 720.7L91.9 723.2L97.8 725.8M60.2 685.6L60.2 685.6L60.3 686L60.6 686.8L61.2 688.4L62.2 690.8L63.7 694L65.8 697.9L68.6 702.3L72.2 707.1L76.7 712L82.1 717L88.6 722L96.4 726.8L105.4 731.5L115.8 736.1L127.7 740.5M85.8 685.2L85.8 685.2L86 685.2L86.5 685.4L87.4 685.7L89 686.2L91.3 687L94.6 687.9L98.9 689.1L104.5 690.4L111.5 692L120 693.6L130.2 695.4L142.2 697.2L156.2 699L172.4 700.9L191 702.7M129.5 691.9L129.5 691.9L129.7 691.9L130.1 692L130.8 692.1L132.1 692.3L133.9 692.6L136.5 693.1L139.9 693.7L144.3 694.4L149.7 695.2L156.4 696.1L164.5 697.2L174 698.4L185 699.6L197.8 701L212.4 702.4M79.2 674.6L79.2 674.7L79.4 674.7L80 675L81 675.4L82.6 676L85.1 676.9L88.5 678.1L93.1 679.5L99 681.1L106.4 682.9L115.4 684.8L126.2 686.8L138.9 688.8L153.7 690.8L170.9 692.8L190.5 694.7M119.4 677.2L119.5 677.2L119.6 677.2L119.8 677.3L120.3 677.4L121.2 677.6L122.5 677.9L124.3 678.2L126.6 678.7L129.7 679.3L133.5 680L138.1 680.8L143.7 681.7L150.2 682.8L157.9 683.9L166.7 685.1L176.9 686.4M75.7 675.8L75.8 675.9L75.9 675.9L76.4 676.1L77.4 676.4L79 676.9L81.4 677.6L84.7 678.5L89.1 679.5L94.8 680.6L101.9 681.8L110.5 683.1L120.9 684.4L133.2 685.7L147.5 687L164 688.2L182.8 689.5M123.9 690.1L123.9 690.1L124.1 690.2L124.6 690.3L125.5 690.4L127 690.7L129.3 691.2L132.5 691.8L136.7 692.5L142.1 693.4L148.8 694.5L157.1 695.7L167 697L178.7 698.4L192.3 699.9L208 701.5L226 703.1M127.1 681.4L127.1 681.4L127.2 681.4L127.4 681.5L127.9 681.5L128.7 681.6L129.9 681.8L131.5 682L133.7 682.3L136.6 682.6L140.1 683L144.4 683.5L149.6 684L155.7 684.6L162.8 685.2L171 685.9L180.4 686.7M83.9 678.3L83.9 678.3L84 678.4L84.5 678.6L85.4 678.9L86.9 679.4L89.2 680.1L92.3 681L96.5 682.1L101.9 683.4L108.6 684.8L116.8 686.4L126.6 688L138.2 689.6L151.7 691.3L167.3 692.9L185.1 694.6M114.5 684.5L114.5 684.6L114.7 684.6L115.2 684.7L116.2 684.9L117.8 685.3L120.2 685.8L123.5 686.5L127.9 687.3L133.6 688.4L140.7 689.6L149.4 690.9L159.8 692.4L172 694L186.4 695.7L202.9 697.4L221.8 699.2M116.9 680.3L116.9 680.3L117 680.3L117.3 680.4L117.8 680.5L118.8 680.6L120.2 680.8L122.1 681.1L124.7 681.5L128.1 681.9L132.3 682.4L137.3 683L143.5 683.7L150.7 684.5L159.1 685.3L168.8 686.2L179.9 687.1M117.2 688.8L117.2 688.8L117.3 688.8L117.6 688.9L118.1 688.9L119 689.1L120.2 689.3L122 689.6L124.4 690L127.4 690.4L131.2 691L135.9 691.6L141.4 692.3L148 693.1L155.7 694L164.5 694.9L174.6 695.9M118.4 677.3L118.4 677.3L118.6 677.3L119.1 677.4L120 677.5L121.6 677.7L124 678L127.4 678.4L131.8 678.9L137.5 679.5L144.6 680.2L153.2 681L163.6 681.9L175.9 682.9L190.3 683.8L206.8 684.8L225.7 685.9M133.2 690.5L133.2 690.5L133.2 690.6L133.5 690.6L133.9 690.6L134.5 690.7L135.6 690.8L137 691L138.8 691.3L141.3 691.5L144.3 691.9L147.9 692.3L152.3 692.8L157.6 693.3L163.6 693.9L170.6 694.6L178.6 695.3M131.9 681.1L131.9 681.1L132 681.1L132.4 681.2L133.2 681.3L134.4 681.5L136.2 681.7L138.8 682L142.2 682.5L146.6 683L152.1 683.6L158.8 684.3L166.8 685.1L176.3 686L187.4 686.9L200.1 687.9L214.7 689M95.1 677.7L95.1 677.7L95.3 677.8L95.8 677.9L96.8 678.1L98.4 678.5L100.8 679L104.1 679.8L108.5 680.6L114.2 681.7L121.3 682.8L130 684.1L140.4 685.5L152.7 686.9L167 688.4L183.6 689.9L202.5 691.4M98.1 685.9L98.1 685.9L98.3 686L98.8 686.1L99.7 686.3L101.1 686.7L103.3 687.2L106.4 687.9L110.4 688.7L115.7 689.8L122.2 691L130.2 692.3L139.7 693.7L151 695.2L164.2 696.8L179.4 698.4L196.8 700M78.2 690L78.3 690L78.5 690.1L79.1 690.3L80.4 690.9L82.5 691.7L85.6 692.8L90 694.2L95.8 695.9L103.3 697.8L112.6 699.8L124 701.8L137.6 704L153.7 706.1L172.5 708.2L194.2 710.3L219 712.3M129.8 677.7L129.8 677.7L129.9 677.7L130.1 677.7L130.6 677.8L131.4 677.9L132.6 678L134.2 678.2L136.4 678.5L139.3 678.8L142.8 679.2L147.1 679.6L152.3 680.1L158.4 680.7L165.5 681.3L173.7 682L183.1 682.7M106.7 695.8L106.7 695.8L106.9 695.8L107.4 695.9L108.3 696.1L109.9 696.4L112.2 696.8L115.5 697.3L119.8 698.1L125.4 698.9L132.3 699.9L140.8 700.9L151 702.1L163 703.3L177.1 704.6L193.3 705.9L211.7 707.3M117.1 695.3L117.1 695.3L117.2 695.4L117.6 695.5L118.4 695.7L119.7 696L121.7 696.4L124.5 697L128.1 697.8L132.8 698.8L138.6 699.9L145.8 701.2L154.4 702.6L164.5 704.2L176.3 705.8L189.9 707.6L205.5 709.3M99.4 689.1L99.4 689.1L99.6 689.2L100.2 689.3L101.4 689.5L103.2 689.8L106 690.2L109.9 690.8L115.1 691.5L121.8 692.4L130.1 693.3L140.2 694.4L152.4 695.5L166.8 696.6L183.6 697.8L202.9 698.9L225 700.1M129.6 688.6L129.6 688.6L129.8 688.6L130.2 688.7L131 688.9L132.4 689.1L134.5 689.5L137.4 689.9L141.3 690.6L146.2 691.3L152.4 692.2L159.9 693.2L169 694.3L179.7 695.6L192.2 696.9L206.6 698.3L223.1 699.7M85.4 678.9L85.4 678.9L85.6 679L86 679.2L86.9 679.5L88.4 679.9L90.6 680.6L93.6 681.5L97.6 682.6L102.8 683.8L109.3 685.3L117.2 686.8L126.7 688.4L137.9 690L150.9 691.7L166 693.4L183.2 695M70.2 669.2L70.2 669.2L70.4 669.3L70.9 669.6L71.9 670.2L73.5 671L75.9 672.2L79.3 673.7L83.8 675.5L89.5 677.4L96.7 679.5L105.5 681.6L116.1 683.8L128.5 686L143.1 688.1L159.8 690.2L179 692.3M72.2 679.9L72.2 679.9L72.4 680L73 680.3L74.1 681L76 682L78.7 683.4L82.6 685.1L87.7 687.1L94.3 689.4L102.5 691.8L112.6 694.3L124.6 696.9L138.8 699.4L155.4 701.9L174.5 704.4L196.4 706.7M134 681.5L134 681.5L134.1 681.5L134.3 681.5L134.6 681.6L135.2 681.6L136 681.7L137.1 681.9L138.7 682L140.6 682.3L143 682.6L146 682.9L149.6 683.3L153.8 683.7L158.8 684.2L164.4 684.7L170.9 685.3M96 689.9L96 689.9L96.2 689.9L96.6 690L97.4 690.1L98.8 690.4L100.8 690.8L103.7 691.3L107.5 691.9L112.3 692.6L118.4 693.4L125.8 694.4L134.7 695.4L145.3 696.4L157.5 697.5L171.7 698.6L187.9 699.7M100.4 693.8L100.4 693.8L100.6 693.9L101.2 694.1L102.3 694.4L104.2 694.9L107 695.6L110.8 696.5L115.9 697.7L122.5 699.1L130.8 700.6L140.8 702.3L152.9 704.2L167.1 706.1L183.7 708L202.9 710L224.8 712M73.5 673.6L73.6 673.6L73.8 673.7L74.5 674L75.9 674.6L78.1 675.5L81.5 676.8L86.1 678.3L92.3 680L100.3 681.9L110.3 683.9L122.4 686L137 688L154.2 690L174.3 692L197.5 693.9L224 695.8M118.9 692.9L119 692.9L119.1 692.9L119.6 693L120.5 693.1L121.9 693.3L124.1 693.6L127.1 694L131.2 694.5L136.4 695.1L142.8 695.9L150.7 696.7L160.2 697.6L171.4 698.6L184.5 699.6L199.6 700.7L216.8 701.8M59.8 607.6L59.8 607.7L59.8 608.1L60.1 609.1L60.5 611.2L61.3 614.4L62.4 618.8L64 624.3L66.1 630.9L68.8 638.2L72.2 646L76.3 654.1L81.3 662.4L87.1 670.6L93.9 678.8L101.8 686.8L110.8 694.6M59.8 623.2L59.8 623.3L60 623.8L60.5 625.2L61.4 627.7L63 631.5L65.4 636.4L68.7 642.1L73 648.4L78.7 655L85.7 661.6L94.3 668.2L104.6 674.5L116.8 680.7L131 686.6L147.3 692.3L166.1 697.7M60.8 623.8L60.8 623.9L61 624.2L61.3 625.2L62 627L63.1 629.9L64.7 633.7L67 638.4L70 643.8L73.9 649.7L78.7 655.9L84.6 662.2L91.8 668.5L100.2 674.8L109.9 680.8L121.2 686.7L134.2 692.4M59.8 626.7L59.8 626.7L60 627.3L60.6 628.7L61.7 631.3L63.6 635.1L66.5 640L70.4 645.6L75.7 651.5L82.5 657.7L90.9 663.8L101.2 669.8L113.6 675.6L128.2 681.2L145.2 686.5L164.9 691.5L187.3 696.3M74.6 633.9L74.6 633.9L74.7 634L74.8 634.1L75.1 634.4L75.5 634.9L76.1 635.6L76.9 636.5L78.1 637.7L79.6 639.2L81.4 640.9L83.6 643L86.3 645.2L89.5 647.7L93.1 650.3L97.4 653.1L102.3 655.9M59.8 725.4L59.8 725.5L59.9 725.7L60.2 726.2L60.7 727.1L61.6 728.5L63 730.5L64.9 732.9L67.5 735.8L70.7 738.9L74.8 742.2L79.8 745.5L85.8 748.9L92.8 752.3L101.1 755.5L110.6 758.7L121.4 761.8M61.9 710.2L61.9 710.2L61.9 710.2L62 710.4L62.2 710.7L62.5 711.2L63 711.9L63.7 712.9L64.5 714.1L65.7 715.6L67.1 717.3L68.8 719.2L70.8 721.3L73.3 723.5L76.1 725.8L79.4 728.2L83.1 730.6M59.8 687.3L59.8 687.4L60 687.9L60.4 689.4L61.4 692L62.9 695.9L65.2 701L68.5 707L72.8 713.5L78.3 720.4L85.2 727.4L93.6 734.2L103.7 740.9L115.6 747.4L129.5 753.6L145.6 759.6L163.9 765.3M66.1 710.2L66.1 710.3L66.3 710.5L66.6 711L67.2 712L68.1 713.6L69.6 715.8L71.6 718.6L74.4 722L77.9 725.9L82.2 730.1L87.5 734.5L93.9 739.1L101.5 743.7L110.3 748.4L120.4 752.9L132 757.4M81 718.5L81 718.5L81.2 718.7L81.5 719L82.2 719.7L83.3 720.9L85 722.5L87.4 724.6L90.6 727.2L94.6 730.3L99.7 733.8L105.9 737.6L113.3 741.7L122.1 745.9L132.3 750.3L144.1 754.7L157.5 759.1M112.9 727L112.9 727L113.2 727.1L113.8 727.4L115 727.9L117 728.8L120 730L124.1 731.7L129.6 733.7L136.7 736.2L145.6 738.9L156.4 742L169.4 745.3L184.7 748.8L202.6 752.4L223.3 756L246.8 759.7M123.5 724L123.6 724L123.8 724L124.3 724.2L125.5 724.4L127.3 724.9L130 725.5L133.9 726.4L138.9 727.4L145.5 728.7L153.6 730.2L163.6 731.9L175.6 733.7L189.7 735.7L206.1 737.8L225.1 739.9L246.8 742M102.3 727.9L102.3 727.9L102.5 728L103 728.2L104 728.5L105.7 729.1L108.2 729.9L111.7 731.1L116.4 732.4L122.3 734.1L129.8 736L138.9 738L149.8 740.3L162.7 742.6L177.8 745L195.1 747.5L214.9 749.9M123.5 737.7L123.6 737.7L123.7 737.8L124.1 737.9L125 738.2L126.4 738.6L128.5 739.2L131.4 740L135.2 741.1L140.2 742.3L146.4 743.8L153.9 745.5L163 747.4L173.7 749.5L186.2 751.7L200.6 753.9L217.1 756.3M59.8 708.1L59.8 708.2L59.9 708.5L60.3 709.3L60.9 710.8L62.1 713.2L63.8 716.3L66.2 720.2L69.3 724.5L73.4 729.2L78.4 734.1L84.6 739L92 743.8L100.8 748.6L111 753.2L122.8 757.7L136.3 762M187.3 697.9L187.3 697.9L187.4 697.9L187.6 697.9L188.1 697.9L188.8 698L189.9 698L191.4 698.1L193.4 698.2L196 698.3L199.2 698.5L203.2 698.6L207.9 698.8L213.5 699.1L220.1 699.3L227.6 699.6L236.2 700M155.4 690.8L155.4 690.8L155.6 690.8L156 690.9L156.8 690.9L158.2 691L160.2 691.2L163.1 691.5L166.8 691.8L171.7 692.2L177.7 692.6L185.1 693.2L194 693.8L204.5 694.4L216.7 695.2L230.7 695.9L246.8 696.8"/>
<g fill="none" stroke="#000" stroke-width="1.4"><circle cx="59.8" cy="609.3" r="1.75"/><circle cx="59.9" cy="626.7" r="1.75"/><circle cx="60" cy="626.7" r="1.75"/><circle cx="62" cy="626.7" r="1.75"/><circle cx="73.6" cy="626.7" r="1.75"/><circle cx="59.6" cy="644" r="1.75"/><circle cx="61.1" cy="644" r="1.75"/><circle cx="63.1" cy="644" r="1.75"/><circle cx="65.2" cy="644" r="1.75"/><circle cx="67.8" cy="644" r="1.75"/><circle cx="69.8" cy="644" r="1.75"/><circle cx="73.2" cy="644" r="1.75"/><circle cx="75.8" cy="644" r="1.75"/><circle cx="78.2" cy="644" r="1.75"/><circle cx="90.6" cy="644" r="1.75"/><circle cx="58.9" cy="661.3" r="1.75"/><circle cx="60" cy="661.3" r="1.75"/><circle cx="62.2" cy="661.3" r="1.75"/><circle cx="62.6" cy="661.3" r="1.75"/><circle cx="64.7" cy="661.3" r="1.75"/><circle cx="65.8" cy="661.3" r="1.75"/><circle cx="66.7" cy="661.3" r="1.75"/><circle cx="68.9" cy="661.3" r="1.75"/><circle cx="69.5" cy="661.3" r="1.75"/><circle cx="71.5" cy="661.3" r="1.75"/><circle cx="72.3" cy="661.3" r="1.75"/><circle cx="73.7" cy="661.3" r="1.75"/><circle cx="75.6" cy="661.3" r="1.75"/><circle cx="77.7" cy="661.3" r="1.75"/><circle cx="77.9" cy="661.3" r="1.75"/><circle cx="79.5" cy="661.3" r="1.75"/><circle cx="81.5" cy="661.3" r="1.75"/><circle cx="83.4" cy="661.3" r="1.75"/><circle cx="84.2" cy="661.3" r="1.75"/><circle cx="85.3" cy="661.3" r="1.75"/><circle cx="87.6" cy="661.3" r="1.75"/><circle cx="87.5" cy="661.3" r="1.75"/><circle cx="90.2" cy="661.3" r="1.75"/><circle cx="90.6" cy="661.3" r="1.75"/><circle cx="91.8" cy="661.3" r="1.75"/><circle cx="93.1" cy="661.3" r="1.75"/><circle cx="101.2" cy="661.3" r="1.75"/><circle cx="118.8" cy="661.3" r="1.75"/><circle cx="59" cy="678.6" r="1.75"/><circle cx="60.3" cy="678.6" r="1.75"/><circle cx="60.5" cy="678.6" r="1.75"/><circle cx="61.7" cy="678.6" r="1.75"/><circle cx="62.6" cy="678.6" r="1.75"/><circle cx="63.2" cy="678.6" r="1.75"/><circle cx="64.2" cy="678.6" r="1.75"/><circle cx="64.5" cy="678.6" r="1.75"/><circle cx="65.3" cy="678.6" r="1.75"/><circle cx="66.3" cy="678.6" r="1.75"/><circle cx="67.6" cy="678.6" r="1.75"/><circle cx="68.2" cy="678.6" r="1.75"/><circle cx="68.9" cy="678.6" r="1.75"/><circle cx="70" cy="678.6" r="1.75"/><circle cx="70.7" cy="678.6" r="1.75"/><circle cx="71.4" cy="678.6" r="1.75"/><circle cx="72.7" cy="678.6" r="1.75"/><circle cx="73.4" cy="678.6" r="1.75"/><circle cx="73.8" cy="678.6" r="1.75"/><circle cx="75" cy="678.6" r="1.75"/><circle cx="75.7" cy="678.6" r="1.75"/><circle cx="76.9" cy="678.6" r="1.75"/><circle cx="77.6" cy="678.6" r="1.75"/><circle cx="78" cy="678.6" r="1.75"/><circle cx="79.5" cy="678.6" r="1.75"/><circle cx="79.5" cy="678.6" r="1.75"/><circle cx="80.6" cy="678.6" r="1.75"/><circle cx="81.8" cy="678.6" r="1.75"/><circle cx="82" cy="678.6" r="1.75"/><circle cx="83.2" cy="678.6" r="1.75"/><circle cx="83.5" cy="678.6" r="1.75"/><circle cx="85" cy="678.6" r="1.75"/><circle cx="85.9" cy="678.6" r="1.75"/><circle cx="86.6" cy="678.6" r="1.75"/><circle cx="87.7" cy="678.6" r="1.75"/><circle cx="88" cy="678.6" r="1.75"/><circle cx="92.7" cy="678.6" r="1.75"/><circle cx="94.7" cy="678.6" r="1.75"/><circle cx="96.7" cy="678.6" r="1.75"/><circle cx="98.9" cy="678.6" r="1.75"/><circle cx="103.3" cy="678.6" r="1.75"/><circle cx="105.2" cy="678.6" r="1.75"/><circle cx="107.2" cy="678.6" r="1.75"/><circle cx="116.2" cy="678.6" r="1.75"/><circle cx="117.7" cy="678.6" r="1.75"/><circle cx="119.2" cy="678.6" r="1.75"/><circle cx="120.7" cy="678.6" r="1.75"/><circle cx="124.2" cy="678.6" r="1.75"/><circle cx="132.3" cy="678.6" r="1.75"/><circle cx="134.2" cy="678.6" r="1.75"/><circle cx="138.2" cy="678.6" r="1.75"/><circle cx="142.2" cy="678.6" r="1.75"/><circle cx="144" cy="678.6" r="1.75"/><circle cx="145.8" cy="678.6" r="1.75"/><circle cx="155.2" cy="678.6" r="1.75"/><circle cx="161.2" cy="678.6" r="1.75"/><circle cx="163.2" cy="678.6" r="1.75"/><circle cx="165.2" cy="678.6" r="1.75"/><circle cx="175.6" cy="678.6" r="1.75"/><circle cx="186.2" cy="678.6" r="1.75"/><circle cx="209.8" cy="678.6" r="1.75"/><circle cx="59.8" cy="696" r="1.75"/><circle cx="62.5" cy="696" r="1.75"/><circle cx="66.6" cy="696" r="1.75"/><circle cx="71.2" cy="696" r="1.75"/><circle cx="75.4" cy="696" r="1.75"/><circle cx="76.4" cy="696" r="1.75"/><circle cx="77.5" cy="696" r="1.75"/><circle cx="78.4" cy="696" r="1.75"/><circle cx="80" cy="696" r="1.75"/><circle cx="81.3" cy="696" r="1.75"/><circle cx="81.7" cy="696" r="1.75"/><circle cx="83.1" cy="696" r="1.75"/><circle cx="83.4" cy="696" r="1.75"/><circle cx="85.4" cy="696" r="1.75"/><circle cx="86.4" cy="696" r="1.75"/><circle cx="88" cy="696" r="1.75"/><circle cx="88.8" cy="696" r="1.75"/><circle cx="89.2" cy="696" r="1.75"/><circle cx="90.5" cy="696" r="1.75"/><circle cx="92" cy="696" r="1.75"/><circle cx="92.2" cy="696" r="1.75"/><circle cx="93.9" cy="696" r="1.75"/><circle cx="94.6" cy="696" r="1.75"/><circle cx="95.6" cy="696" r="1.75"/><circle cx="97.6" cy="696" r="1.75"/><circle cx="99.5" cy="696" r="1.75"/><circle cx="99.7" cy="696" r="1.75"/><circle cx="100.8" cy="696" r="1.75"/><circle cx="102" cy="696" r="1.75"/><circle cx="103.6" cy="696" r="1.75"/><circle cx="103.6" cy="696" r="1.75"/><circle cx="105.1" cy="696" r="1.75"/><circle cx="106.2" cy="696" r="1.75"/><circle cx="107.6" cy="696" r="1.75"/><circle cx="108.5" cy="696" r="1.75"/><circle cx="109.6" cy="696" r="1.75"/><circle cx="109.9" cy="696" r="1.75"/><circle cx="111" cy="696" r="1.75"/><circle cx="112" cy="696" r="1.75"/><circle cx="113.6" cy="696" r="1.75"/><circle cx="114.7" cy="696" r="1.75"/><circle cx="114.7" cy="696" r="1.75"/><circle cx="115.8" cy="696" r="1.75"/><circle cx="116.8" cy="696" r="1.75"/><circle cx="117.8" cy="696" r="1.75"/><circle cx="119.1" cy="696" r="1.75"/><circle cx="120.3" cy="696" r="1.75"/><circle cx="120.9" cy="696" r="1.75"/><circle cx="121.6" cy="696" r="1.75"/><circle cx="123.1" cy="696" r="1.75"/><circle cx="124" cy="696" r="1.75"/><circle cx="125.2" cy="696" r="1.75"/><circle cx="126.7" cy="696" r="1.75"/><circle cx="127.4" cy="696" r="1.75"/><circle cx="130.2" cy="696" r="1.75"/><circle cx="132.2" cy="696" r="1.75"/><circle cx="134.1" cy="696" r="1.75"/><circle cx="134.6" cy="696" r="1.75"/><circle cx="138.2" cy="696" r="1.75"/><circle cx="139.8" cy="696" r="1.75"/><circle cx="147.2" cy="696" r="1.75"/><circle cx="155.2" cy="696" r="1.75"/><circle cx="161.9" cy="696" r="1.75"/><circle cx="163.4" cy="696" r="1.75"/><circle cx="164.2" cy="696" r="1.75"/><circle cx="165.9" cy="696" r="1.75"/><circle cx="166.9" cy="696" r="1.75"/><circle cx="169.6" cy="696" r="1.75"/><circle cx="170.1" cy="696" r="1.75"/><circle cx="171.8" cy="696" r="1.75"/><circle cx="173.7" cy="696" r="1.75"/><circle cx="175.2" cy="696" r="1.75"/><circle cx="177.2" cy="696" r="1.75"/><circle cx="178.3" cy="696" r="1.75"/><circle cx="184.2" cy="696" r="1.75"/><circle cx="187.2" cy="696" r="1.75"/><circle cx="190.2" cy="696" r="1.75"/><circle cx="194.2" cy="696" r="1.75"/><circle cx="197.2" cy="696" r="1.75"/><circle cx="199.2" cy="696" r="1.75"/><circle cx="218.8" cy="696" r="1.75"/><circle cx="231.2" cy="696" r="1.75"/><circle cx="244.2" cy="696" r="1.75"/><circle cx="248.2" cy="696" r="1.75"/><circle cx="59.5" cy="713.3" r="1.75"/><circle cx="63.8" cy="713.3" r="1.75"/><circle cx="81.2" cy="713.3" r="1.75"/><circle cx="83.1" cy="713.3" r="1.75"/><circle cx="84.6" cy="713.3" r="1.75"/><circle cx="86.6" cy="713.3" r="1.75"/><circle cx="87.6" cy="713.3" r="1.75"/><circle cx="90.8" cy="713.3" r="1.75"/><circle cx="91.9" cy="713.3" r="1.75"/><circle cx="92.6" cy="713.3" r="1.75"/><circle cx="94.3" cy="713.3" r="1.75"/><circle cx="96.1" cy="713.3" r="1.75"/><circle cx="97.7" cy="713.3" r="1.75"/><circle cx="98.8" cy="713.3" r="1.75"/><circle cx="101.8" cy="713.3" r="1.75"/><circle cx="103.6" cy="713.3" r="1.75"/><circle cx="104.2" cy="713.3" r="1.75"/><circle cx="105.8" cy="713.3" r="1.75"/><circle cx="106.7" cy="713.3" r="1.75"/><circle cx="108.3" cy="713.3" r="1.75"/><circle cx="110.3" cy="713.3" r="1.75"/><circle cx="111.8" cy="713.3" r="1.75"/><circle cx="114.4" cy="713.3" r="1.75"/><circle cx="114.7" cy="713.3" r="1.75"/><circle cx="116" cy="713.3" r="1.75"/><circle cx="119.4" cy="713.3" r="1.75"/><circle cx="120.2" cy="713.3" r="1.75"/><circle cx="121" cy="713.3" r="1.75"/><circle cx="123.3" cy="713.3" r="1.75"/><circle cx="124" cy="713.3" r="1.75"/><circle cx="126.5" cy="713.3" r="1.75"/><circle cx="128.9" cy="713.3" r="1.75"/><circle cx="130.3" cy="713.3" r="1.75"/><circle cx="131.5" cy="713.3" r="1.75"/><circle cx="132.3" cy="713.3" r="1.75"/><circle cx="134.1" cy="713.3" r="1.75"/><circle cx="135.3" cy="713.3" r="1.75"/><circle cx="138" cy="713.3" r="1.75"/><circle cx="139.1" cy="713.3" r="1.75"/><circle cx="141.2" cy="713.3" r="1.75"/><circle cx="141.9" cy="713.3" r="1.75"/><circle cx="143.3" cy="713.3" r="1.75"/><circle cx="146" cy="713.3" r="1.75"/><circle cx="147.9" cy="713.3" r="1.75"/><circle cx="149.2" cy="713.3" r="1.75"/><circle cx="150.7" cy="713.3" r="1.75"/><circle cx="152.6" cy="713.3" r="1.75"/><circle cx="154.7" cy="713.3" r="1.75"/><circle cx="155.6" cy="713.3" r="1.75"/><circle cx="158.8" cy="713.3" r="1.75"/><circle cx="160.7" cy="713.3" r="1.75"/><circle cx="162.2" cy="713.3" r="1.75"/><circle cx="164.6" cy="713.3" r="1.75"/><circle cx="167.6" cy="713.3" r="1.75"/><circle cx="170" cy="713.3" r="1.75"/><circle cx="173.6" cy="713.3" r="1.75"/><circle cx="176.7" cy="713.3" r="1.75"/><circle cx="177.6" cy="713.3" r="1.75"/><circle cx="181.4" cy="713.3" r="1.75"/><circle cx="181.8" cy="713.3" r="1.75"/><circle cx="183" cy="713.3" r="1.75"/><circle cx="183.3" cy="713.3" r="1.75"/><circle cx="184.3" cy="713.3" r="1.75"/><circle cx="185.4" cy="713.3" r="1.75"/><circle cx="186.6" cy="713.3" r="1.75"/><circle cx="187.7" cy="713.3" r="1.75"/><circle cx="189.5" cy="713.3" r="1.75"/><circle cx="191" cy="713.3" r="1.75"/><circle cx="192.1" cy="713.3" r="1.75"/><circle cx="192.8" cy="713.3" r="1.75"/><circle cx="194.2" cy="713.3" r="1.75"/><circle cx="195.6" cy="713.3" r="1.75"/><circle cx="201.2" cy="713.3" r="1.75"/><circle cx="205.2" cy="713.3" r="1.75"/><circle cx="208.2" cy="713.3" r="1.75"/><circle cx="214.6" cy="713.3" r="1.75"/><circle cx="218.8" cy="713.3" r="1.75"/><circle cx="59.8" cy="730.6" r="1.75"/><circle cx="78.2" cy="730.6" r="1.75"/><circle cx="79.8" cy="730.6" r="1.75"/><circle cx="91.6" cy="730.6" r="1.75"/><circle cx="95.2" cy="730.6" r="1.75"/><circle cx="102.6" cy="730.6" r="1.75"/><circle cx="104.4" cy="730.6" r="1.75"/><circle cx="106.3" cy="730.6" r="1.75"/><circle cx="108.2" cy="730.6" r="1.75"/><circle cx="113.2" cy="730.6" r="1.75"/><circle cx="115.2" cy="730.6" r="1.75"/><circle cx="117.2" cy="730.6" r="1.75"/><circle cx="119.2" cy="730.6" r="1.75"/><circle cx="123.2" cy="730.6" r="1.75"/><circle cx="125.2" cy="730.6" r="1.75"/><circle cx="127.2" cy="730.6" r="1.75"/><circle cx="129.2" cy="730.6" r="1.75"/><circle cx="131.2" cy="730.6" r="1.75"/><circle cx="133.2" cy="730.6" r="1.75"/><circle cx="137.6" cy="730.6" r="1.75"/><circle cx="139.5" cy="730.6" r="1.75"/><circle cx="141.1" cy="730.6" r="1.75"/><circle cx="142" cy="730.6" r="1.75"/><circle cx="143.2" cy="730.6" r="1.75"/><circle cx="144" cy="730.6" r="1.75"/><circle cx="144.7" cy="730.6" r="1.75"/><circle cx="146.7" cy="730.6" r="1.75"/><circle cx="147.2" cy="730.6" r="1.75"/><circle cx="149.1" cy="730.6" r="1.75"/><circle cx="150.5" cy="730.6" r="1.75"/><circle cx="150.8" cy="730.6" r="1.75"/><circle cx="152" cy="730.6" r="1.75"/><circle cx="153.9" cy="730.6" r="1.75"/><circle cx="154.8" cy="730.6" r="1.75"/><circle cx="155.2" cy="730.6" r="1.75"/><circle cx="156.3" cy="730.6" r="1.75"/><circle cx="157.5" cy="730.6" r="1.75"/><circle cx="159.7" cy="730.6" r="1.75"/><circle cx="160.7" cy="730.6" r="1.75"/><circle cx="161" cy="730.6" r="1.75"/><circle cx="163.1" cy="730.6" r="1.75"/><circle cx="164.5" cy="730.6" r="1.75"/><circle cx="165.2" cy="730.6" r="1.75"/><circle cx="165.9" cy="730.6" r="1.75"/><circle cx="171.2" cy="730.6" r="1.75"/><circle cx="175.2" cy="730.6" r="1.75"/><circle cx="175.9" cy="730.6" r="1.75"/><circle cx="177.1" cy="730.6" r="1.75"/><circle cx="180.1" cy="730.6" r="1.75"/><circle cx="180.9" cy="730.6" r="1.75"/><circle cx="182.1" cy="730.6" r="1.75"/><circle cx="184.2" cy="730.6" r="1.75"/><circle cx="184.7" cy="730.6" r="1.75"/><circle cx="186.8" cy="730.6" r="1.75"/><circle cx="188.2" cy="730.6" r="1.75"/><circle cx="188.5" cy="730.6" r="1.75"/><circle cx="190" cy="730.6" r="1.75"/><circle cx="191.4" cy="730.6" r="1.75"/><circle cx="192.7" cy="730.6" r="1.75"/><circle cx="197.2" cy="730.6" r="1.75"/><circle cx="199.8" cy="730.6" r="1.75"/><circle cx="206.2" cy="730.6" r="1.75"/><circle cx="208.2" cy="730.6" r="1.75"/><circle cx="210.2" cy="730.6" r="1.75"/><circle cx="212.2" cy="730.6" r="1.75"/><circle cx="214.2" cy="730.6" r="1.75"/><circle cx="216.2" cy="730.6" r="1.75"/><circle cx="221.6" cy="730.6" r="1.75"/><circle cx="229.6" cy="730.6" r="1.75"/><circle cx="93.2" cy="748" r="1.75"/><circle cx="98.2" cy="748" r="1.75"/><circle cx="104.6" cy="748" r="1.75"/><circle cx="107.2" cy="748" r="1.75"/><circle cx="110.2" cy="748" r="1.75"/><circle cx="113.2" cy="748" r="1.75"/><circle cx="123.2" cy="748" r="1.75"/><circle cx="124.7" cy="748" r="1.75"/><circle cx="126.2" cy="748" r="1.75"/><circle cx="127.7" cy="748" r="1.75"/><circle cx="129.2" cy="748" r="1.75"/><circle cx="130.7" cy="748" r="1.75"/><circle cx="132.2" cy="748" r="1.75"/><circle cx="139.2" cy="748" r="1.75"/><circle cx="142.6" cy="748" r="1.75"/><circle cx="145.8" cy="748" r="1.75"/><circle cx="149.2" cy="748" r="1.75"/><circle cx="159.2" cy="748" r="1.75"/><circle cx="165.2" cy="748" r="1.75"/><circle cx="170.2" cy="748" r="1.75"/><circle cx="171.8" cy="748" r="1.75"/><circle cx="189.2" cy="748" r="1.75"/><circle cx="190.6" cy="748" r="1.75"/><circle cx="207.2" cy="748" r="1.75"/><circle cx="212.2" cy="748" r="1.75"/><circle cx="213.7" cy="748" r="1.75"/><circle cx="215.2" cy="748" r="1.75"/><circle cx="227.6" cy="748" r="1.75"/><circle cx="246.6" cy="748" r="1.75"/><circle cx="118.8" cy="765.3" r="1.75"/><circle cx="129.2" cy="765.3" r="1.75"/><circle cx="130.8" cy="765.3" r="1.75"/><circle cx="142.2" cy="765.3" r="1.75"/><circle cx="211.8" cy="765.3" r="1.75"/></g>
<path fill="none" stroke="#000" stroke-width="1.5" d="M52.1 602.9H257.8V771.8H52.1ZM59.8 771.8v6.4M123.5 771.8v6.4M187.3 771.8v6.4M251.1 771.8v6.4M52.1 765.3h-6.4M52.1 730.6h-6.4M52.1 696h-6.4M52.1 661.3h-6.4M52.1 626.7h-6.4"/>
<text class="t" x="59.8" y="795.3" text-anchor="middle">0</text>
<text class="t" x="123.5" y="795.3" text-anchor="middle">3</text>
<text class="t" x="187.3" y="795.3" text-anchor="middle">6</text>
<text class="t" x="251.1" y="795.3" text-anchor="middle">9</text>
<text class="t" x="40.2" y="770.9" text-anchor="end">1</text>
<text class="t" x="40.2" y="736.2" text-anchor="end">4</text>
<text class="t" x="40.2" y="701.6" text-anchor="end">16</text>
<text class="t" x="40.2" y="666.9" text-anchor="end">64</text>
<text class="t" x="40.2" y="632.3" text-anchor="end">256</text>
<text class="b" x="155.4" y="809.4" text-anchor="middle">Time (months)</text>
<text class="b" transform="translate(20.4 686.4) rotate(-90)" text-anchor="middle">1/titer</text>
<text class="l" x="51.9" y="583">E</text>
</g>
<g>
<clipPath id="cF"><rect x="335.7" y="602.9" width="205.7" height="168.9"/></clipPath>
<path clip-path="url(#cF)" fill="none" stroke="#c8c8c8" stroke-width="1.05" d="M343.3 708.7L343.3 708.7L343.5 709L344 709.6L345 710.8L346.6 712.7L349 715.5L352.3 719.1L356.8 723.6L362.5 728.8L369.7 734.7L378.4 741.2L388.9 748L401.2 755.2L415.7 762.4L432.3 769.8L451.3 777.1M344.5 693.2L344.5 693.2L344.6 693.3L344.7 693.7L344.9 694.3L345.3 695.5L346 697.1L346.8 699.4L348 702.3L349.5 706L351.3 710.3L353.5 715.4L356.2 721.2L359.4 727.7L363.1 734.8L367.4 742.3L372.3 750.3M343.3 691.6L343.3 691.6L343.4 691.8L343.7 692.3L344.2 693.2L345 694.8L346.3 697L348 699.9L350.4 703.6L353.3 708.1L357.1 713.2L361.6 719L367.1 725.2L373.6 731.9L381.1 738.8L389.8 745.9L399.7 753.2M343.3 674L343.3 674.1L343.6 674.5L344.3 675.8L345.6 678.2L347.9 682L351.2 687.1L355.9 693.5L362 701L370 709.3L379.9 718.1L392 727.2L406.5 736.3L423.7 745.4L443.7 754.4L466.8 763.1L493.2 771.6M343.3 705.1L343.3 705.2L343.4 705.4L343.6 706L344.1 707L344.8 708.8L346 711.4L347.5 714.8L349.6 719.1L352.3 724.4L355.6 730.4L359.7 737.2L364.5 744.6L370.3 752.5L377 760.7L384.8 769.3L393.6 777.9M343.3 694L343.3 694L343.4 694.3L343.5 694.8L343.8 695.9L344.3 697.7L345.1 700.3L346.1 703.8L347.5 708.4L349.3 714L351.5 720.7L354.2 728.5L357.5 737.2L361.3 746.9L365.8 757.3L371 768.4L376.9 780M343.3 706L343.3 706.1L343.4 706.2L343.6 706.6L344 707.3L344.7 708.5L345.8 710.3L347.3 712.6L349.2 715.5L351.7 719L354.9 723L358.7 727.4L363.3 732.2L368.7 737.2L375.1 742.5L382.4 747.9L390.7 753.3M343.3 669L343.3 669L343.4 669.3L343.8 670.1L344.5 671.5L345.6 673.8L347.3 677.1L349.7 681.4L352.9 686.8L356.9 693.1L362 700.2L368.2 708L375.6 716.3L384.4 725L394.6 733.8L406.4 742.7L419.9 751.7M343.3 673L343.3 673L343.4 673.2L343.6 673.8L343.9 674.9L344.5 676.8L345.4 679.5L346.7 683.1L348.4 687.8L350.5 693.5L353.2 700.2L356.4 707.8L360.4 716.3L365 725.5L370.4 735.3L376.6 745.5L383.7 756.1M343.3 709.9L343.3 709.9L343.5 710.3L344 711.1L344.9 712.7L346.4 715.3L348.6 718.9L351.7 723.5L355.8 729.2L361.1 735.7L367.7 742.9L375.8 750.6L385.5 758.6L397 766.7L410.4 775L425.8 783.2L443.4 791.2M343.3 685.9L343.3 686L343.6 686.4L344.2 687.4L345.5 689.2L347.6 692.2L350.8 696.5L355.2 702L361 708.7L368.5 716.5L377.9 725.2L389.4 734.4L403.1 744.1L419.3 754L438.3 764L460.1 774L485.1 783.9M343.3 688.8L343.3 688.8L343.5 689.2L344.1 690.2L345.3 692.2L347.2 695.4L350 699.8L353.9 705.6L359.1 712.7L365.8 720.8L374.2 729.8L384.4 739.4L396.7 749.5L411.2 759.8L428.1 770.2L447.6 780.6L469.9 790.8M343.3 699.9L343.3 699.9L343.4 700L343.5 700.4L343.8 701L344.3 702.1L345.1 703.7L346.1 705.9L347.5 708.8L349.3 712.3L351.5 716.5L354.2 721.4L357.4 727L361.3 733.2L365.8 739.9L370.9 747.2L376.8 754.8M350 701.9L350.1 701.9L350.3 702.2L350.9 703L352 704.4L353.9 706.7L356.7 709.9L360.7 714.1L365.9 719L372.6 724.7L381 730.8L391.3 737.3L403.6 744L418.2 750.7L435.1 757.5L454.7 764.1L477 770.7M343.3 703.5L343.3 703.5L343.5 703.7L343.8 704.1L344.6 705.1L345.8 706.5L347.5 708.6L350 711.3L353.4 714.7L357.6 718.6L362.9 722.9L369.4 727.6L377.2 732.5L386.5 737.6L397.2 742.8L409.6 748L423.7 753.1M348.1 713L348.1 713L348.3 713.3L348.7 713.9L349.5 715.2L350.8 717.2L352.7 720.1L355.4 723.9L359 728.6L363.6 734.1L369.4 740.5L376.4 747.4L384.9 754.8L394.9 762.5L406.5 770.5L420 778.5L435.3 786.6M343.3 687.2L343.3 687.2L343.4 687.3L343.6 687.7L344.1 688.3L344.8 689.4L345.8 690.9L347.3 692.9L349.3 695.6L351.9 698.8L355 702.7L358.9 707.1L363.6 712L369.1 717.4L375.5 723.1L382.9 729.2L391.4 735.5M343.3 698.2L343.3 698.2L343.6 698.5L344.2 699.3L345.4 700.9L347.4 703.3L350.4 706.8L354.6 711.3L360.2 716.8L367.4 723.1L376.3 730.1L387.3 737.5L400.4 745.3L415.9 753.2L434 761.3L454.8 769.2L478.6 777.1M343.3 705.4L343.3 705.4L343.4 705.6L343.7 706.2L344.3 707.2L345.2 709L346.5 711.5L348.4 714.9L350.9 719.2L354.2 724.5L358.2 730.6L363.1 737.5L369 745L376 753.1L384.1 761.7L393.5 770.5L404.3 779.6M343.3 685.3L343.3 685.3L343.4 685.5L343.6 686.1L344.1 687.2L344.8 688.9L345.8 691.4L347.3 694.9L349.3 699.2L351.8 704.5L355 710.6L358.9 717.6L363.6 725.2L369 733.4L375.5 742L382.9 751L391.3 760.2M343.3 687.9L343.3 687.9L343.5 688.3L344.1 689.2L345.3 691L347.2 693.8L350 697.9L353.9 703.1L359.1 709.4L365.8 716.6L374.2 724.6L384.4 733.1L396.7 742L411.1 751.1L428 760.2L447.5 769.3L469.8 778.2M352.5 704.3L352.5 704.4L352.7 704.6L353.2 705.3L354.3 706.6L355.9 708.7L358.4 711.7L361.9 715.7L366.6 720.7L372.5 726.7L380 733.5L389.1 741.1L400 749.2L412.9 757.7L427.9 766.6L445.3 775.6L465.1 784.7M343.3 702.8L343.3 702.8L343.4 703L343.5 703.3L343.8 704L344.3 705.2L345 706.9L346 709.2L347.4 712.2L349.1 715.8L351.2 720.2L353.9 725.2L357 730.7L360.7 736.9L365.1 743.4L370.1 750.4L375.8 757.6M346.5 710.6L346.5 710.6L346.7 710.8L347.1 711.4L348 712.6L349.4 714.4L351.5 717L354.5 720.4L358.4 724.5L363.5 729.3L369.8 734.5L377.5 740.2L386.8 746.2L397.7 752.2L410.5 758.4L425.2 764.5L442 770.6M343.3 607.6L343.3 607.7L343.6 608.6L344.2 610.9L345.5 615.3L347.6 622.1L350.7 631.3L355 642.9L360.7 656.4L368.1 671.3L377.3 687.1L388.6 703.3L402.1 719.7L418.1 736L436.7 752L458.2 767.6L482.8 782.7M344.4 624.7L344.4 624.7L344.5 624.9L345 625.5L345.8 626.5L347.2 628.2L349.2 630.6L352.1 633.8L355.9 637.8L360.8 642.4L367 647.6L374.4 653.4L383.4 659.5L394 665.8L406.4 672.3L420.6 678.9L436.9 685.4M344.4 639.2L344.4 639.3L344.6 639.7L345.3 640.8L346.6 642.9L348.7 646.2L351.9 650.9L356.3 657L362.2 664.3L369.7 672.7L379.2 682L390.7 691.9L404.5 702.2L420.9 712.7L439.9 723.2L461.9 733.7L487 744.1M344.4 623.8L344.4 623.8L344.4 623.9L344.5 624.3L344.7 624.8L345.1 625.8L345.6 627.3L346.4 629.2L347.4 631.8L348.7 635.1L350.3 639L352.3 643.6L354.6 648.8L357.4 654.8L360.6 661.3L364.4 668.4L368.7 676M344.4 639.3L344.4 639.3L344.4 639.3L344.5 639.5L344.7 639.8L345 640.2L345.4 640.9L346 641.8L346.9 643.1L347.9 644.6L349.3 646.5L350.9 648.8L352.8 651.4L355.1 654.4L357.8 657.7L360.9 661.4L364.4 665.4M349.6 630.1L349.7 630.2L349.8 630.5L350.1 631.5L350.6 633.4L351.6 636.5L353 640.9L354.9 646.9L357.6 654.6L360.9 664L365.1 675.1L370.2 687.7L376.4 701.6L383.6 716.7L392.1 732.8L401.9 749.7L413 767M344.4 673L344.4 673L344.5 673L344.7 673.2L345.2 673.5L345.9 674L347.1 674.7L348.7 675.7L350.8 676.9L353.6 678.4L357 680.2L361.2 682.3L366.2 684.6L372.1 687.1L379 689.8L387 692.7L396.1 695.6M344.4 673.3L344.4 673.3L344.5 673.5L344.8 673.8L345.5 674.4L346.6 675.4L348.2 676.8L350.5 678.6L353.5 681L357.3 683.8L362.2 687L368 690.5L375.1 694.3L383.5 698.3L393.2 702.4L404.4 706.7L417.3 710.9M345.4 674.1L345.4 674.1L345.6 674.4L346.2 675.1L347.2 676.4L348.9 678.6L351.4 681.6L354.9 685.5L359.5 690.2L365.5 695.6L373 701.5L382.1 707.8L393.1 714.3L406 721L421.1 727.7L438.6 734.3L458.5 740.8M343.3 725.3L343.3 725.3L343.4 725.4L343.5 725.8L343.7 726.5L344.1 727.6L344.7 729.2L345.6 731.5L346.7 734.3L348.2 737.7L350 741.8L352.2 746.4L354.9 751.6L358 757.1L361.7 763.1L365.9 769.3L370.8 775.7M372.9 725.8L372.9 725.8L373 725.8L373.3 725.9L373.8 726.1L374.7 726.4L376 726.9L377.8 727.5L380.3 728.4L383.4 729.4L387.3 730.6L392.1 732L397.8 733.6L404.6 735.4L412.5 737.3L421.6 739.3L432 741.5M394 739.5L394 739.5L394.1 739.5L394.3 739.6L394.6 739.7L395.2 739.9L396.1 740.3L397.4 740.8L399 741.4L401.2 742.2L403.8 743.1L407.1 744.2L410.9 745.5L415.5 747L420.9 748.6L427.1 750.4L434.2 752.3"/>
<g fill="none" stroke="#000" stroke-width="1.4"><circle cx="343.3" cy="609.3" r="1.75"/><circle cx="354.9" cy="609.3" r="1.75"/><circle cx="371.5" cy="609.3" r="1.75"/><circle cx="343.3" cy="626.7" r="1.75"/><circle cx="344.1" cy="626.7" r="1.75"/><circle cx="343.3" cy="644" r="1.75"/><circle cx="343.9" cy="644" r="1.75"/><circle cx="343.5" cy="678.6" r="1.75"/><circle cx="410.5" cy="678.6" r="1.75"/><circle cx="341.9" cy="696" r="1.75"/><circle cx="343.3" cy="696" r="1.75"/><circle cx="344.5" cy="696" r="1.75"/><circle cx="345.9" cy="696" r="1.75"/><circle cx="353.9" cy="696" r="1.75"/><circle cx="342.9" cy="713.3" r="1.75"/><circle cx="344.9" cy="713.3" r="1.75"/><circle cx="346.9" cy="713.3" r="1.75"/><circle cx="419.3" cy="713.3" r="1.75"/><circle cx="474.4" cy="713.3" r="1.75"/><circle cx="343.3" cy="730.6" r="1.75"/><circle cx="363.5" cy="730.6" r="1.75"/><circle cx="381.3" cy="730.6" r="1.75"/><circle cx="406.5" cy="730.6" r="1.75"/><circle cx="412.5" cy="730.6" r="1.75"/><circle cx="449.9" cy="730.6" r="1.75"/><circle cx="514.6" cy="730.6" r="1.75"/><circle cx="362.3" cy="748" r="1.75"/><circle cx="369.3" cy="748" r="1.75"/><circle cx="386.3" cy="748" r="1.75"/><circle cx="392.9" cy="748" r="1.75"/><circle cx="401.9" cy="748" r="1.75"/><circle cx="403.9" cy="748" r="1.75"/><circle cx="405.9" cy="748" r="1.75"/><circle cx="407.9" cy="748" r="1.75"/><circle cx="412.5" cy="748" r="1.75"/><circle cx="487.1" cy="748" r="1.75"/><circle cx="364.3" cy="765.3" r="1.75"/><circle cx="365.5" cy="765.3" r="1.75"/><circle cx="366.9" cy="765.3" r="1.75"/><circle cx="373.3" cy="765.3" r="1.75"/><circle cx="383.9" cy="765.3" r="1.75"/><circle cx="400.5" cy="765.3" r="1.75"/><circle cx="406.5" cy="765.3" r="1.75"/><circle cx="408.3" cy="765.3" r="1.75"/><circle cx="409.9" cy="765.3" r="1.75"/><circle cx="412.9" cy="765.3" r="1.75"/><circle cx="419.9" cy="765.3" r="1.75"/><circle cx="421.9" cy="765.3" r="1.75"/><circle cx="430.9" cy="765.3" r="1.75"/><circle cx="452.9" cy="765.3" r="1.75"/><circle cx="471.4" cy="765.3" r="1.75"/><circle cx="476.2" cy="765.3" r="1.75"/><circle cx="481.2" cy="765.3" r="1.75"/><circle cx="493.2" cy="765.3" r="1.75"/><circle cx="515.6" cy="765.3" r="1.75"/></g>
<path fill="none" stroke="#000" stroke-width="1.5" d="M335.7 602.9H541.4V771.8H335.7ZM343.3 771.8v6.4M406.7 771.8v6.4M470.1 771.8v6.4M533.5 771.8v6.4M335.7 765.3h-6.4M335.7 730.6h-6.4M335.7 696h-6.4M335.7 661.3h-6.4M335.7 626.7h-6.4"/>
<text class="t" x="343.3" y="795.3" text-anchor="middle">0</text>
<text class="t" x="406.7" y="795.3" text-anchor="middle">3</text>
<text class="t" x="470.1" y="795.3" text-anchor="middle">6</text>
<text class="t" x="533.5" y="795.3" text-anchor="middle">9</text>
<text class="t" x="322.9" y="770.9" text-anchor="end">1</text>
<text class="t" x="322.9" y="736.2" text-anchor="end">4</text>
<text class="t" x="322.9" y="701.6" text-anchor="end">16</text>
<text class="t" x="322.9" y="666.9" text-anchor="end">64</text>
<text class="t" x="322.9" y="632.3" text-anchor="end">256</text>
<text class="b" x="438.9" y="809.4" text-anchor="middle">Time (months)</text>
<text class="b" transform="translate(303.4 686.4) rotate(-90)" text-anchor="middle">1/titer</text>
<text class="l" x="335.5" y="583">F</text>
</g>
</svg>
</body>
</html>
